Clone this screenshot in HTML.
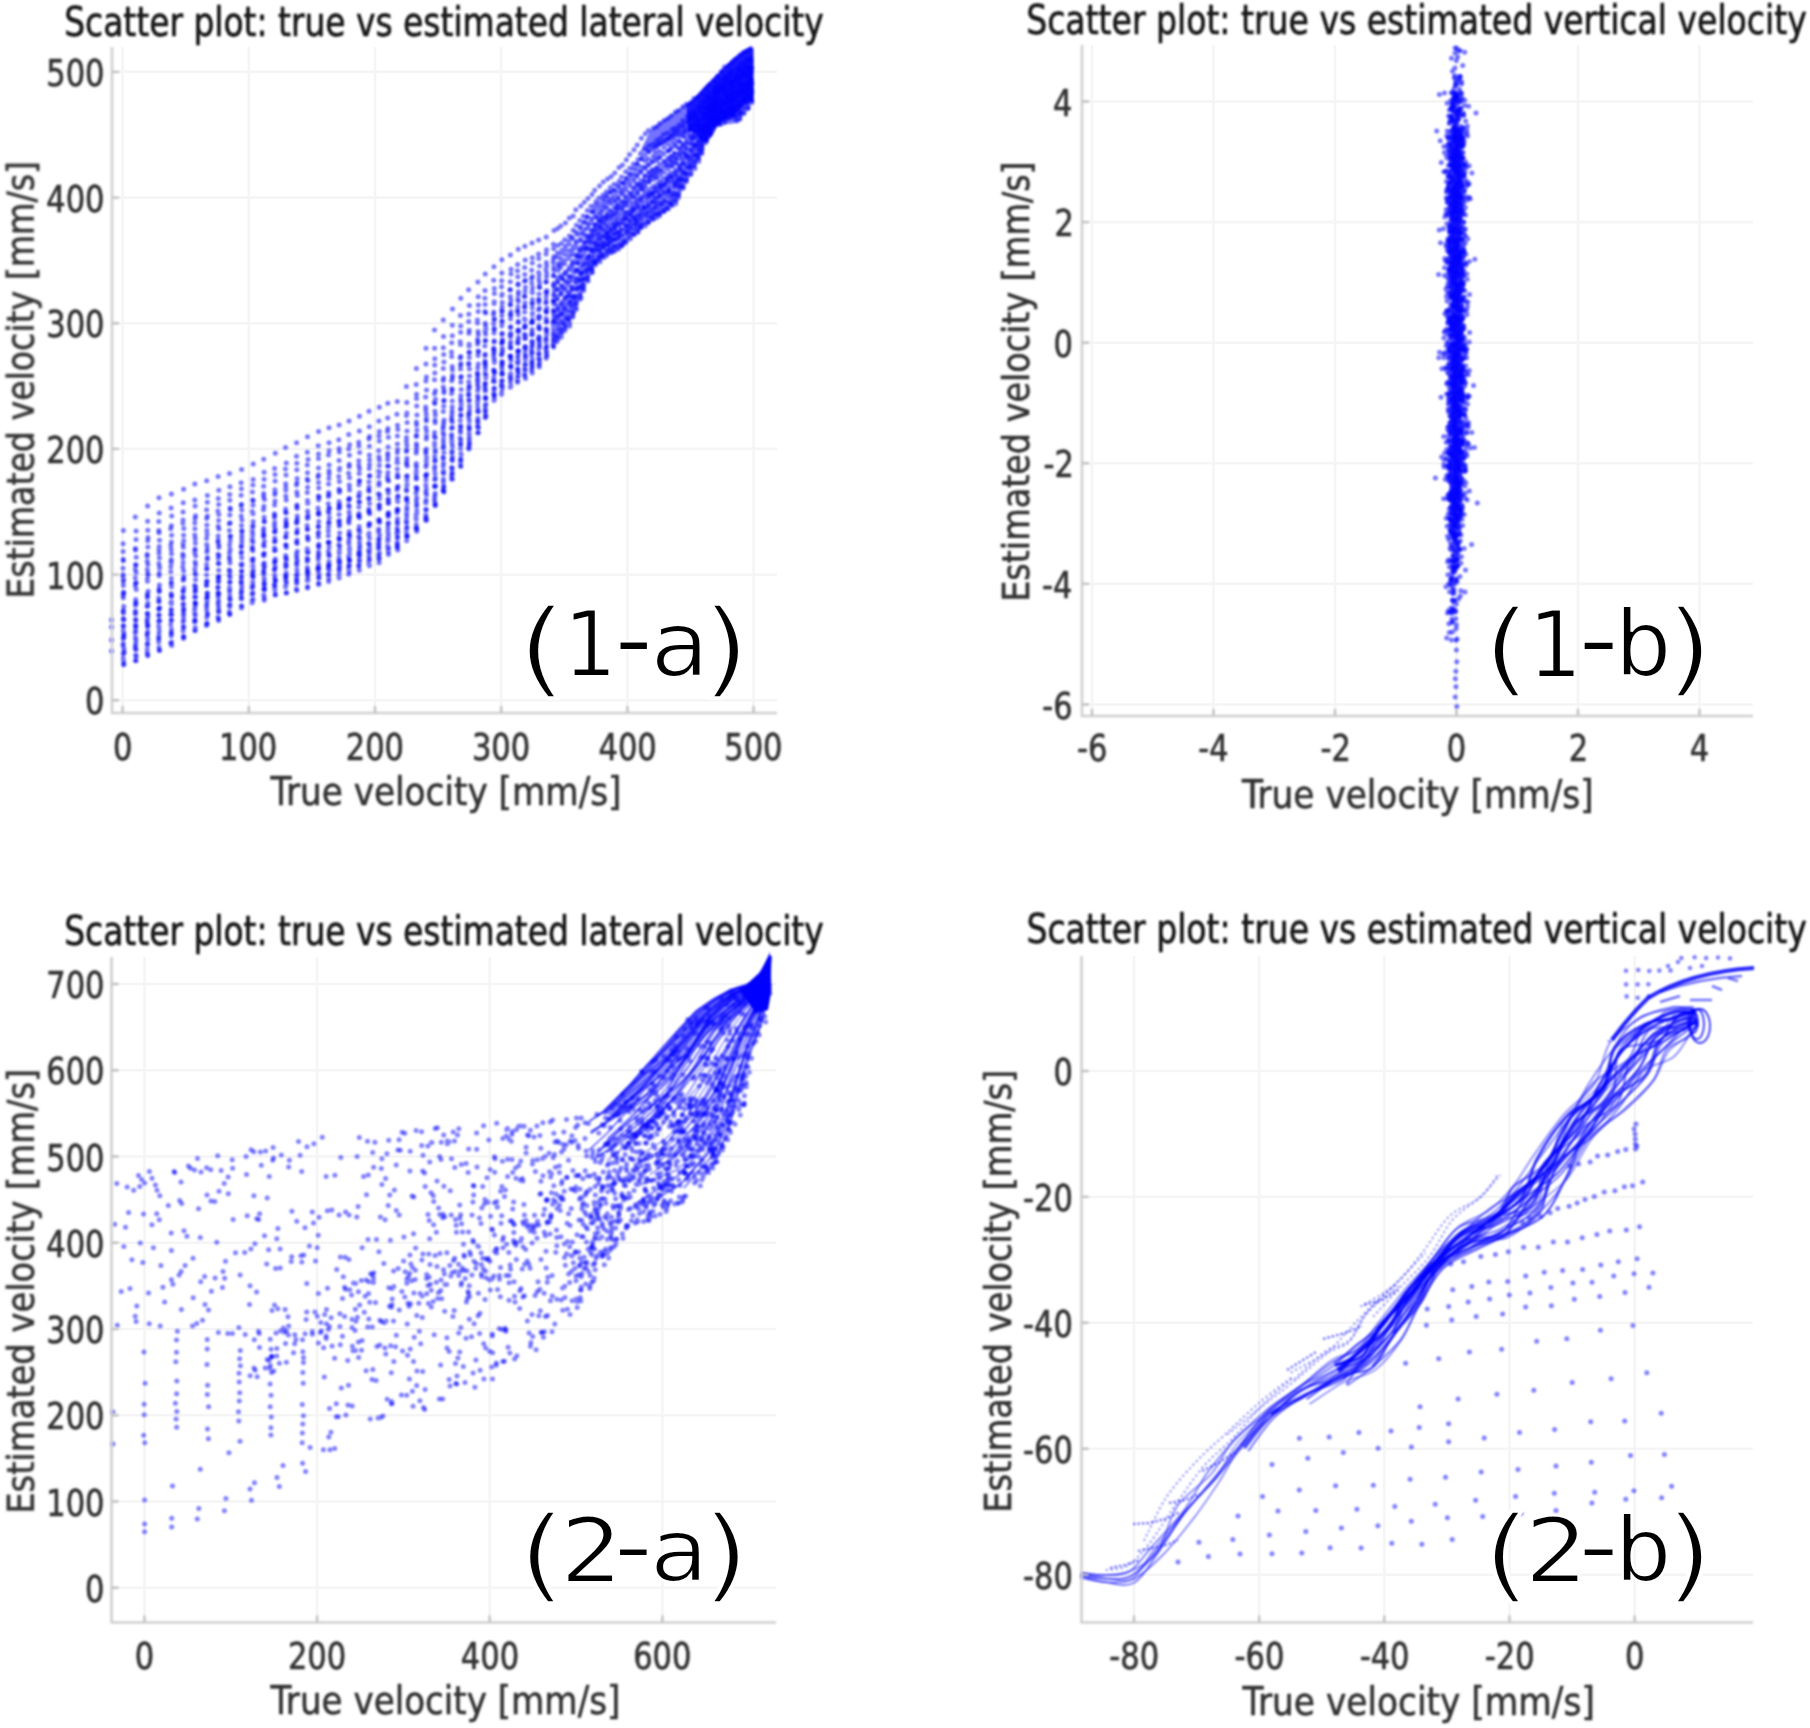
<!DOCTYPE html><html><head><meta charset="utf-8"><title>Scatter plots</title><style>html,body{margin:0;padding:0;background:#fff;overflow:hidden}svg{display:block}</style></head><body><svg xmlns="http://www.w3.org/2000/svg" width="1810" height="1728" viewBox="0 0 1810 1728"><defs><filter id="b1" x="-2%" y="-2%" width="104%" height="104%"><feGaussianBlur stdDeviation="1.05"/></filter><filter id="b2" x="-2%" y="-2%" width="104%" height="104%"><feGaussianBlur stdDeviation="1.0"/></filter></defs><rect width="1810" height="1728" fill="#fff"/><g id="grid"><path d="M122.6 47V713M248.8 47V713M375.0 47V713M501.2 47V713M627.4 47V713M753.6 47V713M112 700.3H777M112 574.6H777M112 448.9H777M112 323.3H777M112 197.6H777M112 71.9H777" stroke="#f5f5f5" stroke-width="2.6" fill="none"/><path d="M1092.0 45V716M1213.5 45V716M1335.0 45V716M1456.5 45V716M1578.0 45V716M1699.5 45V716M1082 704.5H1753M1082 583.9H1753M1082 463.3H1753M1082 342.7H1753M1082 222.1H1753M1082 101.5H1753" stroke="#f5f5f5" stroke-width="2.6" fill="none"/><path d="M144.5 957V1622.5M317.1 957V1622.5M489.7 957V1622.5M662.4 957V1622.5M111.5 1587.8H776M111.5 1501.5H776M111.5 1415.3H776M111.5 1329.0H776M111.5 1242.8H776M111.5 1156.5H776M111.5 1070.2H776M111.5 984.0H776" stroke="#f5f5f5" stroke-width="2.6" fill="none"/><path d="M1134.0 956V1622.5M1259.2 956V1622.5M1384.3 956V1622.5M1509.5 956V1622.5M1634.7 956V1622.5M1081.5 1574.7H1753M1081.5 1448.8H1753M1081.5 1322.8H1753M1081.5 1196.9H1753M1081.5 1071.0H1753" stroke="#f5f5f5" stroke-width="2.6" fill="none"/></g><g id="scatter" filter="url(#b2)"><path d="M686.0 104.0L691.0 101.0L704.8 86.3L718.7 72.4L732.6 58.5L746.5 48.3L751.0 47.0L753.5 49.3L753.5 100.2L746.5 103.0L737.2 112.0L732.6 116.0L723.3 120.0L716.9 127.0L712.2 136.0L706.7 142.0L700.2 140.0L695.6 132.6L688.0 132.0Z" fill="#00f" fill-opacity="0.9"/><path d="M650.0 131.0L658.5 123.3L677.0 110.4L686.0 104.0L688.0 132.0L677.0 137.2L667.8 141.9L658.5 146.5L649.3 151.1L640.0 152.0Z" fill="#00f" fill-opacity="0.55"/><path d="M732.5 121.3h0M136.2 557.2h0M307.6 487.2h0M388.5 481h0M701.7 105.1h0M359.7 546.1h0M296.5 523h0M648 158.5h0M274.7 569.1h0M435.2 505.8h0M591.6 250.7h0M706.1 119.3h0M339 557.7h0M339.6 546.6h0M553.3 328.7h0M645.6 175.8h0M580.2 292.8h0M253 577.2h0M610.2 187.6h0M598.8 219.6h0M339.3 452h0M358.8 536.4h0M538.6 317.4h0M452.4 370.1h0M147.7 613.5h0M652.3 169.7h0M524.9 364.9h0M274.4 525.8h0M123.7 664.8h0M264 546.2h0M241.6 571h0M329.1 508h0M252.5 586.8h0M229.3 605.2h0M241.8 535.2h0M307.8 559.4h0M572.3 237h0M339.6 468.3h0M518.2 314.8h0M328.3 511h0M607 240.3h0M517.5 380.6h0M629.6 238.5h0M634 209.1h0M747.4 65.8h0M633.3 169.1h0M618.3 226.3h0M721 100.5h0M645.4 148.8h0M546.5 276.9h0M525.1 338.4h0M286.4 526.1h0M369.2 468.4h0M195 630.7h0M740.6 85.2h0M510.5 319h0M252.7 527h0M633 210.5h0M622.6 220.2h0M501.6 286.7h0M379.3 505.1h0M590.9 206.3h0M531.8 282.9h0M478.3 411.7h0M264.3 584.3h0M747.3 99.4h0M517.6 377.5h0M751.2 97.5h0M501.9 259.7h0M135.9 564.9h0M557.1 256.9h0M614.9 247.9h0M655.8 171.8h0M744.2 111.4h0M592.3 272.1h0M674.9 184.1h0M339.5 520.5h0M532.3 341.3h0M532.4 314.3h0M672.2 205.6h0M434.6 445.5h0M668.3 190.5h0M502.2 388.9h0M358.8 552.7h0M147.7 540.7h0M195 550.5h0M274.4 584.2h0M619 181.2h0M706 135h0M406.7 516.4h0M588 235.2h0M606.7 218.6h0M739.8 116.3h0M485.2 274h0M379 559h0M637.4 184.4h0M622 245.7h0M275.3 453.3h0M339.4 538.5h0M557 330.4h0M493.9 377.2h0M678.8 185.9h0M387.6 545.9h0M159.6 607.8h0M630.4 238.7h0M751.8 100.9h0M561.3 337h0M460.7 427.1h0M477.6 344.1h0M452.2 468.2h0M485 311.5h0M588 270.5h0M587.3 262h0M443 428.7h0M546.7 354.9h0M349.3 534.4h0M636.7 204.2h0M263.6 486.2h0M587.2 279.5h0M644.8 168.5h0M740 94.5h0M584 253.1h0M546.1 358.2h0M592.4 218h0M576.7 288.9h0M618.6 236.3h0M640.5 199.2h0M594.8 233h0M660.9 206.6h0M649.5 164.1h0M713.1 105.2h0M510.1 335h0M182.9 598h0M659.9 199.9h0M379.4 507.3h0M460.7 444.4h0M629.6 173.7h0M671 176.1h0M652.5 201.3h0M397.6 449.4h0M576.1 303.9h0M743.4 112.8h0M263.6 533.7h0M378.6 471.2h0M579.9 240.9h0M348.8 574.3h0M663.5 172.5h0M546.4 352.8h0M339.6 567.4h0M717.2 123.4h0M743 93.3h0M744.5 101.5h0M625.8 225h0M297.2 573.4h0M443.5 471.1h0M683.4 187h0M159.1 575.8h0M460.7 377.5h0M621.6 194h0M698 120.1h0M147.2 644h0M553.4 244.3h0M664.6 140.3h0M732.3 98.5h0M397.6 536.7h0M275.2 540.9h0M687.1 137.7h0M425.8 410.5h0M709.2 111.1h0M666.9 164.7h0M524.6 281.2h0M159 647.2h0M532.5 313h0M388.4 547.5h0M641.8 188.7h0M739.8 91.5h0M690.2 166.7h0M667.5 132.7h0M252.4 531.1h0M397.4 487.5h0M739.3 108.8h0M379.3 460.2h0M502 369.1h0M207.2 624h0M621.3 230.1h0M644.9 213.8h0M502.3 311.2h0M517.8 351.2h0M572.9 315.7h0M518 343.3h0M652.5 193.5h0M697.8 136.2h0M648.5 151.7h0M675.6 203.8h0M557.9 317.1h0M460.9 363.6h0M591.6 230.5h0M183 596.1h0M397.1 512.7h0M296.8 469.8h0M538.6 353.8h0M729.1 121.7h0M434.6 469.3h0M588.6 255.8h0M451.7 479.1h0M686.2 174.1h0M633.7 228.2h0M388.3 536.5h0M451.6 393.5h0M387.8 453.2h0M663.9 201.4h0M595.1 216.2h0M637.4 164.3h0M397.5 523.6h0M693.7 151.5h0M634.3 225h0M285.9 537.2h0M713.1 115.8h0M683.1 143.6h0M286.2 572.8h0M469.4 369h0M686.1 130.7h0M736 79.4h0M656.8 147.8h0M387.6 476.6h0M369 508.9h0M599.7 249.3h0M230.2 599.3h0M358.8 465.2h0M664.1 192.9h0M743.2 71.3h0M640.3 227.6h0M710.1 128h0M296.5 484.9h0M750.7 97.8h0M217.9 510.9h0M716.8 120.7h0M709.4 133.6h0M485.2 323.2h0M622.8 242.5h0M532.5 321.8h0M406.4 386.4h0M618.4 224.2h0M698.1 128.5h0M709.3 126.6h0M634.3 181.4h0M652.5 162.3h0M274.5 562.9h0M546.2 328.7h0M553.3 322.6h0M611.1 204h0M159.1 591.7h0M494 394.7h0M655.5 206.9h0M397.5 474.2h0M599.6 257.7h0M170.9 562.1h0M123.3 597.7h0M724 102.9h0M426.3 488.9h0M123.2 625.8h0M560.7 324.4h0M621.9 223.5h0M510 289.8h0M136.1 656.8h0M698.1 150.6h0M451.7 342.7h0M296.6 574.7h0M123.9 619.7h0M252.9 598.9h0M614.8 249.9h0M207.4 557.6h0M171.3 614.4h0M524.7 306.9h0M659.5 142.7h0M368.9 481.7h0M349.6 444.8h0M611.2 197.9h0M387.7 418h0M510.5 327.6h0M416.1 487.4h0M328.5 454.9h0M369 533.3h0M728.8 109.3h0M183.2 605.3h0M443.4 439.4h0M339.3 470h0M739.5 69.2h0M694.4 143.5h0M539 364.7h0M379.5 472.1h0M682.5 182.9h0M725.4 121.8h0M592 194.5h0M348.9 499.6h0M724.2 78.3h0M339.1 577.9h0M378.8 539.7h0M569.3 276.2h0M147.2 554.2h0M123.9 634.9h0M561.3 313.8h0M135.5 550.1h0M607.5 201.8h0M478 331.4h0M546.1 254h0M583.8 280h0M147.2 561.3h0M580.1 294.3h0M183.5 613.2h0M610.3 191.8h0M147.8 603.1h0M594.9 225h0M632.8 197.1h0M425.7 451.3h0M539.1 328.3h0M296.8 463.2h0M594.9 263.3h0M426.4 377.1h0M369.1 491.2h0M553.8 329.4h0M659.4 197.5h0M264.4 499.6h0M731.8 112.2h0M296.8 581.4h0M349.5 516h0M682.6 171.5h0M664.2 206.9h0M553.9 295.7h0M171.4 562.5h0M668 169.2h0M524.7 375.7h0M510.8 348h0M318.9 573.8h0M359 529.4h0M329 470.8h0M307.9 580.5h0M714 110h0M241.5 605.8h0M230.2 536.2h0M318 568.3h0M701.5 102.6h0M709.8 129.9h0M587.6 250.1h0M194.8 500h0M686.3 148.4h0M359.2 526.6h0M633.4 163.9h0M599.6 246.6h0M655.8 213.2h0M617.8 225.5h0M338.9 575.8h0M207.1 600.9h0M502.3 333.5h0M675.3 112h0M610.1 237.5h0M713.7 125.2h0M148 575.3h0M194.7 552.4h0M724.4 93.3h0M501.9 273h0M443.2 380.6h0M387.9 537.5h0M706.2 119h0M274.8 494.5h0M452.4 457h0M358.9 484.7h0M686.5 157h0M195.5 515.8h0M659.7 164.3h0M451.6 417.6h0M717.9 124.4h0M318.3 559.6h0M732.9 89.9h0M640.7 214h0M557.7 228.5h0M285.7 567.2h0M721.3 90h0M171.4 595.4h0M158.9 615.6h0M159.5 540.2h0M571.9 306.8h0M494.4 318.9h0M569.3 267.2h0M668.3 168.3h0M159 553.3h0M564.6 308.5h0M443.1 432.5h0M147.1 606.3h0M275.2 594.9h0M518.4 330h0M406.9 445.6h0M603.3 246.6h0M136.2 582.8h0M518.2 249.3h0M622.7 182.7h0M524.7 369h0M218.8 514.4h0M686.8 143.5h0M645.3 211.7h0M702.6 142.4h0M135.3 516.9h0M358.8 566.3h0M733.1 115.7h0M182.8 567.1h0M634 234.8h0M725.4 102.5h0M241.6 469.5h0M468.9 333.3h0M678.3 180.6h0M135.3 569.2h0M510.8 365.8h0M318.5 468.1h0M253 566.6h0M379.1 520.8h0M451.8 440.3h0M660.5 185h0M388.3 514.9h0M241.5 597.2h0M525.1 353h0M686.7 139.3h0M307.4 570h0M502.2 374.4h0M494 358.3h0M679.7 149.6h0M580.3 256.1h0M595.5 230.1h0M434.6 348.3h0M686.9 128.7h0M388.1 447h0M630.4 214.5h0M524.8 368.9h0M675.7 163.3h0M493.9 266.7h0M652.5 175h0M724.6 111.1h0M557 299.5h0M659.6 215.7h0M573.1 230.3h0M171.3 582.5h0M538.7 299.2h0M743.6 68h0M369.5 459.8h0M713.4 117.7h0M510.2 314.6h0M501.6 385.9h0M229.4 575.6h0M369.5 503.5h0M524.9 246.2h0M728.6 120.5h0M679.2 191.8h0M603.5 216.7h0M378.7 555.2h0M349.5 477.7h0M729 88.7h0M736.4 120h0M510.9 360.5h0M649 173.7h0M560.7 319.8h0M667.9 180.8h0M720.9 88.7h0M135.8 660.4h0M539.4 316.8h0M576.5 303.3h0M732.7 121.2h0M659.9 164.8h0M607.2 251.2h0M743.3 85.8h0M687 133h0M591.2 239.5h0M478.2 410.6h0M525 325.6h0M721.6 119.6h0M218.6 620.4h0M717.3 99.4h0M531.5 351h0M451.9 442.9h0M349.4 550.3h0M588.5 225.4h0M706.3 141.8h0M329 442.8h0M307.3 580.5h0M682.1 180.8h0M739.8 106.5h0M229.3 569.9h0M577 263h0M206.7 568.9h0M147.6 521.3h0M569.5 267.6h0M633.5 168.2h0M135.6 630.5h0M740.1 55h0M739.6 111.4h0M123 611.4h0M664.2 184.7h0M349.5 548.2h0M553.6 275.4h0M123.1 574.5h0M572.8 312.6h0M739.5 119.2h0M553.3 325.1h0M397.3 477h0M469.1 413.2h0M434.6 442.9h0M285.5 447.4h0M679 140.8h0M739.3 103.9h0M229.7 606.9h0M560.7 225.9h0M532.5 287.5h0M252.8 566.2h0M253.2 463.9h0M560.8 293.9h0M553.9 270.6h0M147.7 631.6h0M634.2 221.1h0M698.5 124.6h0M443.8 400.9h0M553.6 347h0M728.7 83.2h0M531.8 362.6h0M594.8 248.1h0M560.8 267.3h0M484.9 386.5h0M637.2 144.9h0M746.7 85.9h0M135.7 627.1h0M136 649.8h0M614.8 239.4h0M686.6 179.5h0M397 546.5h0M510.5 304.9h0M705.1 143.1h0M329 427.7h0M477.6 395.8h0M493.5 314.6h0M644.2 180.4h0M580.7 274.2h0M469.4 305.4h0M434.9 411.3h0M656.6 126.7h0M705.1 108.3h0M443.1 472.1h0M426 348.2h0M368.7 534.5h0M264.4 589.9h0M206.6 598.7h0M606.5 232.4h0M617.7 192.1h0M668.2 160.1h0M229.7 494.4h0M663.8 172.5h0M576.1 240.9h0M579.9 279.7h0M469 449h0M274.5 513.8h0M501.9 315.7h0M618.5 197.2h0M123.5 618.4h0M713.1 124.7h0M602.5 225.4h0" stroke="#00f" stroke-width="5.0" stroke-linecap="round" stroke-opacity="0.55" fill="none"/><path d="M546.4 330.2h0M241.1 553.2h0M751.3 79.4h0M425.6 397.1h0M468.7 321.4h0M732.5 115h0M564.7 239.7h0M751.6 66.8h0M159.2 546.5h0M532.2 332.5h0M460.3 420.4h0M532.1 303.3h0M539.2 345.6h0M318.9 568.3h0M147.3 597.7h0M485.8 378.1h0M694.4 114.2h0M510.1 377.6h0M328.9 513.2h0M397.9 476.8h0M460.5 369h0M532.4 319.4h0M701.4 152.2h0M524.7 327.2h0M557.9 327.7h0M171.6 535.2h0M252.3 593.9h0M621.4 234.2h0M663.7 178.6h0M720.8 99.5h0M135.4 648.4h0M469.4 406h0M416.7 531.3h0M183 544.1h0M525.2 370.1h0M712.6 122h0M296.5 563.1h0M339.1 504.4h0M644.4 176h0M296.9 569.8h0M241.7 557.8h0M698.9 109.8h0M705.9 123.6h0M670.9 177.9h0M485.6 398.4h0M664.1 120.6h0M592.1 262.7h0M207.4 515.9h0M318.3 513.7h0M135.3 585.7h0M207.1 534.2h0M629.1 228h0M572.4 288h0M565.4 246h0M183.7 540.8h0M426.5 435.9h0M494.4 293.6h0M607.5 179h0M318.4 536.9h0M443.3 347.8h0M595.5 242.3h0M296.6 557.7h0M485.8 375h0M388 528h0M546.3 329.9h0M183.8 528.4h0M621.5 234.4h0M369.7 523.9h0M263.5 554.3h0M434.8 403.4h0M614.4 233.6h0M667.2 208.4h0M553.5 301.4h0M588.2 263.7h0M637.8 229.5h0M358.9 555h0M443.9 392.8h0M195.1 606.8h0M444 420.1h0M501.9 342.4h0M747.6 82h0M329.1 450.8h0M667.9 138.8h0M195.1 562h0M690 156.8h0M652.1 175h0M460.7 326h0M286.5 582.6h0M218.1 586.8h0M511 269.2h0M600 239.3h0M329 542.6h0M709 123.5h0M672.1 198.8h0M369.1 512.2h0M406.5 521h0M525.5 349.1h0M339.3 539.8h0M675.1 172.7h0M195.1 630h0M443.3 368.4h0M607.4 238.6h0M229.9 581.9h0M697.5 154.5h0M171.5 586.7h0M349.2 464.3h0M318.7 521.4h0M348.7 568.8h0M539 299.9h0M318.5 532.1h0M494.1 319.7h0M724.2 111.5h0M626.4 241.5h0M397.8 496.7h0M123.3 560.7h0M554 230.5h0M611.2 248.7h0M407.1 535.7h0M614.5 195.6h0M183.1 598.1h0M319 496.9h0M147.3 569.5h0M218.7 504.6h0M195.2 627.4h0M397.5 544.5h0M263.7 570.8h0M678.7 158.9h0M159 497.7h0M532.3 276.5h0M369.5 436.6h0M610.6 232.5h0M275.3 594.6h0M569.4 236.1h0M253.1 500.4h0M135.8 620h0M572.2 310.1h0M339.1 501.4h0M558.2 314h0M573 286.6h0M721.3 97.2h0M182.8 553.9h0M524.7 296.2h0M460.8 395.4h0M618.8 187.2h0M443.7 354.5h0M171.4 620.1h0M735.4 116.1h0M123.5 592.3h0M218.1 554.3h0M592.1 232.5h0M640.7 185.4h0M572.3 301.6h0M425.9 363.9h0M706.1 139.6h0M674.9 196.7h0M660.1 209.8h0M611.2 246.2h0M229.5 587.4h0M195.2 589h0M739.8 78.8h0M241.4 488.8h0M564.7 287.7h0M349.2 506.9h0M426.6 474.1h0M274.7 522.6h0M724.9 96.9h0M159.4 585.1h0M123.4 530.5h0M587.3 248h0M329.1 464.9h0M494.3 288.6h0M554 286.3h0M735.3 91.9h0M274.6 468.4h0M595 235.7h0M740.1 89.9h0M339.5 561.7h0M406.7 461.6h0M135.5 612.6h0M426.5 389.9h0M664.6 183h0M434.6 432.5h0M485.6 334.2h0M183.7 627.1h0M732.2 95.5h0M679.6 141.7h0M728.4 92.5h0M218.7 611.6h0M532 334.4h0M532.3 352.6h0M525.4 280.2h0M485.9 416.5h0M435.4 390.7h0M637.4 224.3h0M575.7 296.9h0M397.3 530.4h0M469 425.8h0M111.5 640h0M416.1 464.4h0M397.4 443.9h0M274.5 515.5h0M510.3 344.4h0M434.8 495.9h0M614.1 228.3h0M518.2 322.4h0M728.9 83h0M560.5 275.7h0M602.5 221h0M195.5 579.8h0M171.4 541.9h0M397.3 458.6h0M595.8 249.5h0M425.8 514.9h0M502.3 386h0M713.2 118.3h0M599.5 212.2h0M587.9 277h0M307.1 558.2h0M183.7 578.8h0M617.8 218.3h0M668.3 203.1h0M338.8 561.2h0M674.5 153.3h0M183.5 638.4h0M546.1 281.7h0M307.2 550.9h0M581 279.3h0M607.1 208.6h0M274.5 550.8h0M416.3 524.5h0M407.2 466.1h0M698.7 157.9h0M709.2 109.6h0M510.9 314.9h0M667.6 164.9h0M564.6 307.5h0M397.7 501.6h0M435.1 422.7h0M539.4 328.9h0M721.2 100.7h0M714 80.4h0M285.7 577.5h0M524.8 374.1h0M694.4 134.5h0M663.4 188.7h0M206.4 625.6h0M388.1 490.3h0M416 527.9h0M206.8 530.6h0M660.3 138.2h0M564.3 315.1h0M663.1 180.9h0M253 525.5h0M538.5 254h0M218 596.5h0M739.5 103.6h0M569.2 305.8h0M517.9 306.8h0M135.5 637.5h0M328.8 565.9h0M724.7 115.6h0M416.4 422.1h0M736.7 120.9h0M425.9 484.9h0M539 328.1h0M170.8 571.8h0M517.7 369.2h0M709.1 102.9h0M679.7 157.2h0M663.8 211.2h0M307.2 548.7h0M702.4 93.9h0M158.9 563.4h0M614.2 189.9h0M720.1 119.4h0M716.6 103.1h0M397.4 499.3h0M561.5 312.7h0M599.3 239.9h0M626.2 218.4h0M644.4 206.7h0M674.9 128.1h0M690.8 124.9h0M583.5 232.9h0M397.7 549.9h0M713.9 125.4h0M744.2 90.9h0M668.3 157.7h0M123.8 637.4h0M468.8 394.6h0M581.1 297.7h0M123.3 643.4h0M159 549.6h0M670.7 149.3h0M147.9 564.5h0M493.8 349.6h0M218.6 609.1h0M435.3 485.7h0M252.4 491.9h0M720.9 92.6h0M229.9 486.7h0M705.4 125.9h0M339.2 571.8h0M502 364.2h0M652.1 209.8h0M468.7 417.4h0M613.9 200h0M720.3 111.3h0M493.7 280.3h0M329.2 508.6h0M135.7 626.4h0M736.4 107.1h0M241.2 546.8h0M645.3 161h0M724.1 99.5h0M147.9 547.1h0M517.7 310.9h0M724.7 96.2h0M478.3 334.8h0M308 459.6h0M648.7 181.4h0M539.3 358.4h0M724.3 103h0M241.5 582.2h0M576.3 225.2h0M614.5 223.9h0M572.8 279h0M369.2 524.6h0M359.4 561.4h0M263.8 588.9h0M694.6 154.7h0M622.5 164.9h0M656.8 140.3h0M603.9 257.4h0M633.7 188.9h0M426.3 460.9h0M493.7 324.1h0M286.4 523.6h0M744.2 98.5h0M329 547.2h0M729.3 106.3h0M274.5 548h0M539.1 354h0M406.9 507.2h0M659.6 195.5h0M645.3 133.8h0M206.6 509.7h0M610.7 243.7h0M599.5 186h0M652.1 192.1h0M275.1 531.7h0M136 602.9h0M649 189.2h0M501.6 384.9h0M397.5 425.3h0M675.6 174.5h0M241.4 580.9h0M477.6 426.6h0M751.8 93.5h0M591.5 249.8h0M736.2 77.3h0M416.3 463.4h0M671.7 179.9h0M171.1 508h0M610 201.2h0M275 501.1h0M576.1 289.6h0M229.7 587.7h0M576 243.4h0M443.3 411.5h0M546.5 249.7h0M469.2 387.3h0M461.1 459.4h0M207.1 596.9h0M750.6 98.5h0M194.6 585.5h0M689.9 162.6h0M664.6 161h0M667 178.8h0M171.2 583.8h0M690.2 159.9h0M611 229.1h0M460.8 466.5h0M159.4 557.9h0M664 200.7h0M406.4 451.5h0M230.3 509.4h0M702.1 133.8h0M724.4 67.1h0M729.3 117.8h0M716.5 113.7h0M252.9 576.1h0M640.3 172.2h0M572.6 280.3h0M568.8 250.5h0M206.9 524.9h0M610.8 226.1h0M183 519.9h0M595.7 238.5h0M618.6 232.2h0M683.6 173.2h0M136 539.5h0M263.7 493.4h0M478.4 304.9h0M477.6 384.7h0M230.1 577.2h0M592.3 230.1h0M494 333.1h0M171.2 633h0M545.9 303.1h0M532.4 299.5h0M595.9 244.7h0M560.7 290.5h0M727.8 95.6h0M207.3 502.2h0M485.4 340.7h0M656.5 206.1h0M307.7 574.8h0M434.8 372.9h0M253.1 479.4h0M648.1 165.3h0M182.9 523.3h0M577.3 234.6h0M241.9 531.3h0M659.7 157.9h0M328.6 492.6h0M426.3 414.5h0M581 285.7h0M629.3 197.6h0M676.1 200.8h0M659.8 144.6h0M378.9 420.9h0M641.6 196.4h0M296.7 521h0M717.2 108.2h0M671.8 134.8h0M720.6 104.6h0M241.5 589.7h0M147.1 621.7h0M583.9 263.4h0M546.6 334.9h0M378.6 531.4h0M349.1 571.5h0M683.6 162.6h0M477.9 418.2h0M714.1 93.5h0M147.9 625.4h0M218.1 616.9h0M678.4 131.7h0M746.8 59.4h0M297 522.2h0M546.4 312.3h0M729.2 84.3h0M426.4 464h0M557 305.6h0M348.7 434.6h0M649.2 195.9h0M328.3 568h0M587.8 237.3h0M682.3 179.3h0M671.8 161.2h0M296.5 456.2h0M275.4 580.8h0M359.4 416.3h0M307.5 518.6h0M668.2 192.1h0M123.1 551.4h0M657 214.5h0M607.4 233.5h0M416.5 394.2h0M660.2 185.4h0M546.4 262.6h0M264.1 584.2h0M170.7 643.3h0M229.7 613.9h0M716.9 89.2h0M378.6 544.5h0M747.8 94.5h0M717.9 123.2h0M478.3 427.8h0M218.3 558.3h0M629.5 183h0M123 576.7h0M524.5 334.3h0M739.5 75.2h0M252.4 547.3h0M194.7 621.9h0M568.4 310h0M653.2 219.2h0M285.7 536.8h0M494 352.4h0M253 505.2h0M706 105.7h0M348.8 540.4h0M494 370.4h0M750.7 48.5h0M598.9 198h0M568.5 317.5h0M264.1 479.2h0M379.1 482.4h0M583.6 248.6h0M725.1 119.8h0M308 517.2h0M569.7 255.3h0M682.9 161h0M644.9 187h0M207.1 581.1h0M652.9 189.6h0M510.4 382h0M308 551.4h0M629.3 220.5h0M379.1 505.2h0M241.1 593.5h0M194.9 528.7h0M123.3 619.6h0M557.2 290.1h0M229.6 559.5h0M633 211.6h0M286.2 592.7h0M218.2 593.3h0M397.3 521.9h0M425.7 407.1h0M565.8 296.6h0M406.4 415.5h0M229.6 589.3h0M388.4 466.1h0M406.9 413h0M720.5 95.6h0M626.5 226.9h0M416.4 368.4h0M469.3 444.5h0M123.6 579.6h0M606.6 255.8h0M285.8 544.9h0M253.1 558.8h0M629.4 197.2h0M710.1 119.1h0M702.5 130.9h0M648.4 130.5h0M568.7 258.6h0M682.9 188.2h0M638 193.9h0M538.9 358.2h0M531.7 270.3h0M388.3 493.3h0M697.4 112.6h0M553.3 259.4h0M641 166.7h0M606.8 226.4h0M406.4 520.6h0M206.6 606.4h0M147.2 635.4h0M477.7 390.4h0M695.1 124.3h0M603.9 201h0M561.8 285.8h0M158.8 609.2h0M451.7 356.4h0M426.5 457.7h0M720.3 105h0M510.4 356.5h0" stroke="#00f" stroke-width="5.0" stroke-linecap="round" stroke-opacity="0.55" fill="none"/><path d="M307.2 561.4h0M746.8 83h0M183.1 562.6h0M645.2 214.5h0M532.3 257.8h0M524.6 296.6h0M659.7 181.2h0M671.5 173h0M698.5 158.1h0M564.7 289.5h0M171.4 632.9h0M285.9 522.6h0M518.3 321.2h0M264.4 521.8h0M369.7 513.8h0M359.3 559.5h0M705.2 114.5h0M147.6 595.7h0M194.7 597h0M135.5 605.5h0M525 291.5h0M425.9 503h0M308 572.2h0M111.5 651h0M416.7 504h0M694.5 155.1h0M602.4 211.6h0M425.9 466.8h0M553.9 301.6h0M664 147.6h0M698.6 142.9h0M573 298.6h0M477.5 379.6h0M349.2 531.4h0M712.8 103.2h0M565.3 254.8h0M743.3 96.5h0M562 249.9h0M531.6 278.5h0M532.4 343.2h0M406.4 532.3h0M510.6 326.7h0M731.5 70.7h0M296.9 555.2h0M206.6 584.8h0M575.7 272.1h0M652.8 196.6h0M736.3 71.4h0M241.6 599.1h0M318.6 499.7h0M218.8 563.8h0M610.4 214.3h0M339.7 490.5h0M435.2 460.2h0M717.5 119h0M416.5 398.6h0M328.7 581.6h0M253.2 570.7h0M171.4 494h0M443.8 487.2h0M652.6 170.5h0M690.6 128.9h0M307.5 588h0M621.4 235.4h0M452.1 410.7h0M426.5 494.8h0M444 491.9h0M416.9 489.9h0M649.3 212.1h0M653.2 156h0M678.5 171.1h0M124 652.8h0M733.1 98.6h0M580.9 281.5h0M743.1 108.2h0M630.3 222.7h0M434.7 365.1h0M747.2 104.9h0M416.5 435.3h0M708.9 108.4h0M358.9 501.7h0M451.6 475.8h0M218.6 611.4h0M229.4 530.6h0M532.2 372.9h0M478.3 432.8h0M633.9 187.3h0M158.8 598h0M583.7 290.6h0M747.7 70.2h0M569.3 218.1h0M706.2 125.4h0M359.4 492.8h0M379.3 441.1h0M378.9 436h0M407 431h0M406.5 528.5h0M241.5 525.5h0M710.1 115.5h0M656 173.3h0M318.4 526.2h0M721 88.6h0M206.7 480.8h0M751 67.7h0M617.8 209.4h0M338.9 544.7h0M663.3 142.5h0M426.2 517.7h0M674.8 134.5h0M625.6 229.3h0M690.2 150.6h0M671.3 177.2h0M538.7 272.5h0M296.8 575.7h0M652 160.7h0M748.1 83.1h0M691 152.8h0M416.8 529.3h0M484.9 298.2h0M339.3 525.9h0M183.6 489.2h0M701.5 135.2h0M652.9 186.6h0M485.3 411.2h0M469.2 330.2h0M285.6 509h0M571.9 239.1h0M426.3 420.9h0M406.5 499.6h0M564.4 274h0M675.3 146.6h0M494.2 396.7h0M183.1 622.1h0M671.1 190.3h0M318.2 445.7h0M123.6 661h0M416.2 519.3h0M230.1 522.8h0M614 213.7h0M195.5 603.4h0M725.2 94.3h0M630.1 227.7h0M485.1 304.5h0M725.1 91h0M603.5 222.5h0M659.9 213.1h0M659.9 151.4h0M469 446.8h0M485.2 383.3h0M358.9 565.3h0M296.9 565.3h0M744 77.4h0M171.6 642h0M648.6 151.8h0M672 129.6h0M682.7 120.6h0M358.8 460.7h0M285.8 487.6h0M580.5 228.6h0M229.8 515.1h0M557.8 282.5h0M693.5 129.8h0M230 571.7h0M625.4 198h0M452.4 479h0M207.1 593.5h0M147.6 654.5h0M348.7 449.1h0M644.2 207.4h0M614.4 233.6h0M349 534.3h0M629.9 233.5h0M610 238.2h0M656.6 160.7h0M575.9 232h0M478.2 364h0M655.9 177.9h0M252.8 550.8h0M622.2 192.2h0M588.2 239.3h0M494.2 328.9h0M517.9 299h0M634 218.6h0M717.6 90.9h0M728.3 65.7h0M183.2 502.8h0M159.4 590.5h0M539.5 347.3h0M564.5 249.9h0M359.6 538.6h0M136.1 531.1h0M614.6 225.6h0M477.5 373.1h0M387.9 489.8h0M602.7 198.4h0M652.7 215.6h0M595.9 201.5h0M569.1 244.2h0M339.1 425h0M717.4 86.7h0M195 518.4h0M379.5 495.1h0M705.1 133h0M678.9 165.1h0M587.3 216.8h0M732.8 80.7h0M716.9 121.8h0M545.9 339h0M252.7 534.6h0M348.9 523h0M524.7 312.1h0M171.2 610.4h0M560.6 307.9h0M477.5 323h0M679 154.2h0M538.6 239.9h0M687.1 120.4h0M349.4 498.2h0M518.1 355.1h0M671.9 156.2h0M296.8 578.1h0M416.4 467.1h0M682.1 179.3h0M561.3 243.5h0M525.4 364.3h0M591.5 244.1h0M525.2 346.6h0M426 480h0M123.3 581.4h0M478.2 296.8h0M728.7 113.6h0M648.3 207.1h0M558 338.9h0M123.8 606.4h0M494.3 387.9h0M592.2 269.3h0M641.2 224.2h0M525 338.1h0M135.6 624.5h0M183.7 609.3h0M510.3 296.5h0M478 355.6h0M461.2 376.5h0M610.6 240.9h0M388.5 554.6h0M407.1 422.4h0M123.1 595.1h0M713 120.9h0M679.6 188.4h0M546.4 351.2h0M171.2 593.4h0M136.1 572.6h0M744 91.5h0M477.4 320h0M159.7 620.8h0M318.3 556.4h0M328.3 503.7h0M510.6 341.8h0M630.4 210.1h0M460.5 409.8h0M388.2 499.1h0M554 320.7h0M286.2 500.1h0M525.4 335.5h0M416.7 406h0M565.6 271.7h0M584.3 271.4h0M587.3 210.5h0M469.2 437h0M678.4 197.4h0M736.7 111.9h0M588.5 256.7h0M531.9 342.1h0M690.2 168h0M705.3 131.5h0M693.7 165.8h0M297 532.4h0M732 100.9h0M388.4 512.7h0M579.9 256.4h0M539.5 362.7h0M416.7 513.5h0M518.1 373.7h0M229.6 571h0M502.4 351h0M679.3 168.2h0M648.1 216.2h0M416.9 415.1h0M561.2 329.7h0M610.5 230.9h0M532.3 262.9h0M671.5 147.1h0M568.2 283.5h0M443.5 336.6h0M614 190.2h0M573.1 254.7h0M638 206.7h0M443.3 320h0M171.5 553.7h0M691.1 154.8h0M720.4 109.3h0M674.6 173.8h0M653.1 148.8h0M194.7 620.3h0M705.5 89h0M518.1 339.9h0M435 473.4h0M397.2 542.6h0M671.4 203.9h0M397.1 489.8h0M591.9 211.8h0M686.9 166.9h0M468.8 381.7h0M171.4 525.7h0M743.2 82.1h0M285.8 490.2h0M553.4 340h0M599.7 226.2h0M728.8 102.8h0M452.2 451.2h0M229.7 599.3h0M637 219.1h0M558.3 270.6h0M698.3 147.2h0M561.9 303.7h0M158.7 626h0M387.7 479.6h0M416 518.3h0M641.4 189.3h0M510.6 357.8h0M379.5 534.9h0M708.8 85.2h0M557.3 288.8h0M388.3 522.8h0M698.6 154.2h0M434.5 499h0M460.8 415.1h0M717.3 107.5h0M565.5 298h0M701.7 146.5h0M713.2 100.8h0M338.7 521.5h0M553.9 314.2h0M286.5 592.9h0M553.5 275.7h0M576.2 247.9h0M502.4 339.6h0M568.8 241.2h0M349.2 518.4h0M569.3 298.3h0M307.5 472.8h0M634.1 197.2h0M206.5 584.7h0M452 459.2h0M183.6 571.1h0M588.6 241.7h0M349.4 554.4h0M195.3 543.2h0M206.6 564.4h0M554 312.5h0M538.7 258.5h0M602.4 221.8h0M307.3 492.4h0M518.3 294.7h0M569.1 277h0M573.3 246.8h0M545.9 349.3h0M218.6 600.6h0M416.1 514.7h0M307.9 480.8h0M653.3 150.2h0M607.1 238.2h0M218.8 545.1h0M660.6 170.3h0M468.6 447.8h0M263.6 496.4h0M539.5 282.9h0M611.2 212.3h0M667.9 144.3h0M714.1 114.8h0M218.5 619h0M591.1 235.8h0M731.7 77.5h0M733 106.4h0M614.7 229.9h0M724.9 117.9h0M728.7 108.9h0M558.3 263.6h0M452.4 446.6h0M469.3 428.6h0M724.2 84.4h0M630.3 186.3h0M743.4 101.4h0M460.3 459.5h0M553.8 304h0M739.4 106.4h0M686.7 152.4h0M328.9 494.8h0M735.9 93.5h0M687.2 116.2h0M735.8 98h0M274.4 570h0M580.9 274.1h0M170.8 624.5h0M241.1 598.4h0M469.1 401.1h0M743 79.4h0M595.6 264.8h0M387.5 431.5h0M218.7 576.2h0M425.7 475.5h0M469.1 344.2h0M369.5 464.5h0M296.8 590.4h0M710.2 117.5h0M607.6 213.2h0M564.5 311h0M397.4 509.1h0M702.6 113.7h0M123.3 630.5h0M736.8 68.5h0M701.1 149.9h0M218.8 490.3h0M675.7 162.5h0M743.9 113.6h0M416.8 510.7h0M348.9 543.8h0M671.3 161.5h0M603.5 248h0M634.2 224.2h0M619 245.3h0M501.9 373.3h0M584.8 236.1h0M425.7 502.4h0M724.1 113.3h0M426.3 439.1h0M671.6 191.4h0M443.6 446.6h0M702.1 126.8h0M729.2 111h0M746.9 86.8h0M111.5 620h0M443.9 452.4h0M617.6 211.4h0M668.4 150.8h0M218.2 535.9h0M697.3 116.5h0M460.5 432.6h0M328.5 574.1h0M358.8 516.1h0M751.9 84h0M241.9 530.8h0M671 186.7h0M517.5 270.8h0M318.8 544.2h0M728.6 77.2h0M641.2 159.1h0M460.2 438h0M264.3 553.2h0M572.1 263.3h0M584.3 229h0M712.6 111h0M713.4 121.1h0M518.1 284.9h0M584.7 248.7h0M369.3 544.2h0M701.6 140.6h0M671.3 183.2h0M369.1 487h0M561.3 253.3h0M297.3 495.5h0M618.2 247.2h0M159 626.7h0M580.2 247.7h0M694.8 162h0M625.2 182.8h0M748.1 106.3h0M595.1 260.5h0M670.7 188.4h0M469.1 351.9h0M124 648.7h0M622.8 211.3h0M641.2 218.5h0M387.8 403.2h0M136.2 589.5h0M538.8 349.1h0M135.3 646.2h0M602.6 235.1h0M736 113.9h0M561.8 302.3h0M553.4 342.2h0M693.8 138.1h0M183.8 636.7h0M406.7 536.3h0M716.4 96.6h0M656.9 167.7h0M158.9 621.5h0M674.8 153.4h0M452.2 401h0M348.7 556.4h0M588.1 258.3h0M652.3 219.2h0M614 246.5h0M735.7 95.9h0M510.1 356.3h0M218.7 581.3h0M241.8 586.3h0M678.6 178.3h0M469.1 346h0M573.1 304.8h0M553.2 344.2h0M686.3 166.6h0M633.9 173.9h0M728.2 90.6h0M698.9 131.7h0M406.5 437.4h0M682.7 106.8h0M539.1 275h0M183.3 627h0M348.7 504.9h0M675.7 158.3h0M602.5 235h0M713.9 96.7h0M686.1 179.9h0M565.8 290.7h0M194.8 483.9h0M444 390.3h0M406.9 458.2h0M206.9 568.4h0M603.7 243.1h0M407.1 475.8h0M241.4 576.2h0M564.4 324.2h0M451.7 380.7h0M717.6 107.6h0M123.8 633.2h0M502.3 380.6h0M147.8 639.6h0M569.2 285.8h0M561.5 331.5h0M626.2 190.5h0M518.1 375.5h0M600 261.8h0M148.1 591.2h0M359 495h0M485 355.4h0M369.6 475.8h0M602.4 217.5h0M558.3 308.7h0M378.8 547.2h0M568.3 319.5h0M622.7 201.8h0M123.2 658.5h0M697.8 133.5h0M671.1 136.4h0M648.5 222.7h0M739.9 112.5h0M461.1 389.5h0M747.5 77.7h0M599 256.6h0M296.4 554h0" stroke="#00f" stroke-width="5.0" stroke-linecap="round" stroke-opacity="0.55" fill="none"/><path d="M434.8 466.2h0M588 198.5h0M557.5 297.8h0M553.8 294.2h0M532.2 345.6h0M621.4 246h0M732.9 108.1h0M452.3 325.2h0M694.8 131.5h0M485.8 404.1h0M626.1 179.1h0M641 227.7h0M717 101h0M263.9 506.2h0M502.1 307.1h0M630.1 231.1h0M564.7 263.7h0M647.9 221.9h0M679.1 136h0M648 212.2h0M735.7 109.6h0M158.8 530.4h0M397.3 401.6h0M748.1 73.3h0M705.1 137.9h0M501.9 365.7h0M583.3 267.1h0M147.2 613.5h0M724.1 117.7h0M396.9 533.4h0M460.4 315.6h0M743.4 73.5h0M494.2 340.7h0M682.5 147.3h0M732.8 87.6h0M607.5 215.1h0M630.1 219.6h0M379 519.5h0M693.9 138.6h0M338.7 508.5h0M633.2 209.2h0M501.9 321.3h0M359.5 552h0M194.9 568.9h0M135.4 632.6h0M296.8 492.1h0M625.2 217.8h0M744.3 107.5h0M349.3 560.4h0M652.8 179h0M252.6 575h0M751.8 67.9h0M435.1 504h0M241.4 577.2h0M709.6 107.2h0M557.6 245.4h0M694.2 157.5h0M493.7 355h0M743.5 52.3h0M648.4 195.4h0M318.6 431.4h0M575.9 295.3h0M747.8 91.4h0M712.8 100.1h0M397.4 436h0M443.3 458.6h0M478.4 351.8h0M253.1 521.6h0M652.6 179.8h0M123.1 543.8h0M135.7 599.5h0M591.2 267.6h0M451.7 420.1h0M517.6 264.4h0M744.3 106h0M750.5 102.7h0M569.1 294.5h0M524.5 318.7h0M569.2 302.2h0M735.4 118h0M307.5 536.2h0M610.8 222.5h0M307.9 514.8h0M183.6 619.6h0M682.9 126.7h0M339.6 533h0M561.7 332.9h0M263.5 536.6h0M135.9 640.3h0M349.4 455.3h0M318.5 551.7h0M502.2 373.3h0M656 145.2h0M630.5 193.7h0M687.5 163.3h0M641.1 184.7h0M369.3 559h0M510.6 366h0M702.4 131.2h0M195.5 564.7h0M577.1 269.3h0M388.1 516.6h0M750.7 57.9h0M252.8 585.8h0M644.8 184.7h0M510.3 387.3h0M349.5 490.1h0M739.6 84.7h0M252.3 559.5h0M532.1 360.3h0M670.9 204.3h0M618 199.1h0M648.8 193.1h0M751.4 61.7h0M747.9 108.3h0M525 320.1h0M694.5 145.1h0M705.7 107.9h0M195.2 538.7h0M698.7 161.6h0M729.2 115h0M690 134.8h0M159 601.1h0M702.3 107.9h0M598.9 208.1h0M714.1 105.7h0M434.8 358.7h0M594.8 205.6h0M625.8 204.3h0M629.2 201.1h0M263.7 544.6h0M611.3 215.7h0M565.9 282.5h0M434.5 330.1h0M634.1 230.3h0M583.3 285.5h0M218.2 577.8h0M596.2 244.8h0M379.5 522.6h0M720.5 114.8h0M379.2 509.1h0M682.5 157.8h0M264.1 517.2h0M435.2 477.9h0M443.4 481.9h0M183.1 591.3h0M596.3 217.5h0M452.3 474.1h0M565.9 303.5h0M629.8 216.1h0M615 207h0M159.2 512.9h0M426 453.6h0M329 554.6h0M241.8 510.1h0M348.9 565.8h0M599.6 220.5h0M274.5 541.8h0M694.6 165.1h0M727.8 115.6h0M397.7 532.2h0M171.4 603.7h0M724.4 87.5h0M171.7 645.4h0M460.6 465.5h0M147.2 652.6h0M123.5 626.1h0M510.8 386.1h0M640.6 216.9h0M660.6 187h0M606.4 191.8h0M461 402h0M170.8 602.7h0M568.8 312.3h0M296.6 542.3h0M599.1 259.2h0M546 292.2h0M378.9 485.2h0M318 477.1h0M397.8 429.6h0M328.9 523.1h0M690.1 164.3h0M675.1 193.2h0M286.2 512.7h0M735.8 99.4h0M531.8 322.6h0M546 310.8h0M682.8 164.4h0M229.3 523.7h0M286 545.1h0M123.2 559.2h0M443.6 422.9h0M687.3 159h0M732.2 103.2h0M625.1 239.9h0M359.2 473.6h0M387.6 466h0M587.8 258.2h0M572.2 296.2h0M579.8 295.3h0M675.4 169.8h0M572.4 265h0M695 156.7h0M379.4 498.8h0M599.3 251.2h0M478.3 387.6h0M610.4 220.7h0M359.4 542.5h0M636.8 169.6h0M183.3 603.5h0M553.5 309.9h0M595.2 227.3h0M264.2 598h0M159 588.8h0M123.9 652.1h0M637.9 188.4h0M443.9 361.9h0M690.9 144.1h0M751.8 89.3h0M592.4 223.2h0M679 124.9h0M743.3 86.6h0M649.2 177.2h0M625.3 235h0M195.2 620.4h0M747.4 94.7h0M158.8 638.5h0M264.2 581.7h0M557.5 277.9h0M379.3 431.5h0M580.9 233.6h0M710.3 124.6h0M318.7 578h0M406.6 490.9h0M159.3 650.2h0M644.6 208.3h0M592.4 251.7h0M348.6 473.2h0M263.7 572.2h0M539.1 359.5h0M599.6 227.3h0M387.9 428.4h0M698 97.5h0M602.7 241.9h0M614.8 173h0M575.9 282.3h0M683.7 136.8h0M638 190.1h0M434.8 502h0M751.2 78.9h0M328.3 530.9h0M452 413.9h0M307.1 525.5h0M557 296.3h0M518.4 337.2h0M569.6 326.3h0M606.7 219.4h0M583.3 288.6h0M701.9 139.7h0M494 400.6h0M218.1 581.4h0M717.6 102.7h0M416.2 384.5h0M679.6 169.5h0M617.6 185.3h0M693.7 125.4h0M568.8 314.2h0M171.4 596.6h0M557.5 252.7h0M229.7 582.3h0M675.4 177.5h0M206.7 609.9h0M218.7 570.2h0M553.5 336.9h0M328.5 526.8h0M349.1 512.1h0M359.5 481.1h0M318.5 482.5h0M645.2 167.1h0M443.2 466.3h0M452.4 378h0M171.3 620h0M183.4 610.5h0M736 80.9h0M329.3 517.9h0M690.7 102.6h0M751.9 82.3h0M686.7 156.3h0M748 102.4h0M747.5 70.6h0M451.7 467.5h0M416.6 425.1h0M625.7 171.7h0M539 294h0M379.1 562.7h0M678.4 110.6h0M485.3 410.3h0M158.9 634.6h0M659.8 123.4h0M396.9 414.2h0M701.6 111.3h0M736.1 59h0M397.4 537.9h0M135.2 633.1h0M660.4 204h0M632.9 233h0M494.2 329h0M485.1 362.6h0M307.5 516.8h0M607.4 235.5h0M461.1 404.5h0M752 102.3h0M732.2 62.7h0M147.2 648.9h0M538.9 340.3h0M469.4 376h0M435 486.8h0M241.4 545.9h0M626.3 159.8h0M274.7 574.9h0M195.6 597h0M379 485.2h0M721.3 103.5h0M740.3 114.5h0M588.6 268.8h0M656.9 184.3h0M584.6 272.9h0M469.5 410h0M751.4 85.9h0M434.8 461.1h0M230.2 549.4h0M561.2 329.2h0M229.9 549.3h0M183.7 609.6h0M469.1 386.1h0M607.5 245h0M648.5 203.9h0M416.6 446.6h0M668 206.5h0M592 255.8h0M735.9 83.8h0M195 549h0M602.6 229.3h0M746.8 51.5h0M531.9 334.5h0M426.2 449h0M517.8 363.5h0M594.7 190.2h0M576.8 279.3h0M706.4 96.6h0M460.5 425.8h0M727.7 100.8h0M123.2 654h0M546.6 321.4h0M425.9 427.5h0M207.3 593.1h0M595 208h0M603 195h0M702.6 142.2h0M579.6 286.9h0M135.6 564.7h0M630.4 205.9h0M501.6 381.3h0M485.2 417.7h0M591.7 254.6h0M713.9 91.6h0M171.2 636h0M644.6 194.8h0M195.2 615.4h0M614.1 251.6h0M625.7 238.2h0M583.7 223.1h0M583.3 216h0M285.7 555.6h0M328.4 542.4h0M123 645.6h0M683.5 152.8h0M622.2 183.2h0M595.8 261.9h0M241.5 551.8h0M747.1 68.2h0M135.7 660.8h0M525 302.8h0M691.2 173.6h0M579.8 220.4h0M369.6 476.1h0M501.9 334h0M477.8 381.7h0M397.9 486.2h0M493.7 348.1h0M147.7 655.7h0M230 563h0M591.3 220.7h0M634.2 217.5h0M704.9 117.8h0M159.2 572.9h0M720.6 120.7h0M653.3 128h0M545.9 269.6h0M477.5 374.1h0M407 527.3h0M751.6 82.6h0M388.1 549.2h0M614.1 239.2h0M743.9 106.8h0M557.1 324.1h0M686.6 142.6h0M641.3 209.2h0M706.3 132.9h0M705.8 129.7h0M297.3 560.7h0M564.7 260.5h0M588.1 281h0M561.6 278h0M460.9 408.2h0M359 513.5h0M629.7 201.8h0M183.6 535.2h0M592 236.5h0M706.2 115.1h0M660 192.1h0M584.1 271.9h0M573.2 261h0M206.7 544.6h0M359.4 517.7h0M580.7 205.9h0M656.3 153h0M510.9 311.4h0M751.7 71.4h0M170.8 545.6h0M275.1 529h0M359.6 452.5h0M709.9 130h0M502 353.6h0M275.2 566.8h0M587.9 222.9h0M206.6 538.5h0M451.6 428.2h0M493.7 370.1h0M553.2 333.1h0M207.2 559.2h0M525.4 356h0M171.4 601.8h0M709.1 121h0M697.7 160.9h0M637.6 232.3h0M603.3 208.2h0M485.3 409.4h0M387.9 532h0M598.6 236.8h0M274.9 590.3h0M539.5 266.1h0M721.3 118.2h0M618.4 237.7h0M252.2 587.4h0M668.5 190.6h0M652 201.7h0M716.3 115.7h0M274.7 587.7h0M218.9 529.1h0M638 159.4h0M468.6 389.9h0M388.3 551.8h0M502.5 341.5h0M307.4 529.5h0M252.3 548.7h0M502.3 348.2h0M727.8 102h0M443.1 490.2h0M318.8 546.9h0M485.2 354.2h0M648.8 198.9h0M690.7 127.5h0M264.2 566h0M207.4 614.6h0M517.8 357.6h0M358.9 445.9h0M750.7 75.2h0M713.2 121.9h0M318 568.1h0M656.2 186.3h0M687.5 165.9h0M469.3 357.5h0M595.2 229.8h0M416.3 479h0M599 232.7h0M485.6 398.5h0M416.2 453.1h0M675.3 187.8h0M691.1 147.7h0M546.6 266.3h0M709.5 123.4h0M587.5 228.7h0M607.6 249.6h0M468.7 364.5h0M599.3 245h0M629.6 154.5h0M709.4 99.6h0M207.1 545.4h0M285.7 557.6h0M524.8 274.5h0M637.4 184.5h0M636.9 221.7h0M584.1 267.5h0M708.9 128.6h0M275.1 492.1h0M583.7 245.5h0M241.8 542.5h0M307.2 478.9h0M460.8 382.3h0M241.5 504.3h0M659.5 156.4h0M388.2 532.8h0M460.8 440.2h0M318 570.3h0M274.9 489.7h0M123.8 593h0M532.3 358.9h0M625.7 202.8h0M625.3 196.1h0M571.9 290.3h0M698.4 141.3h0M206.8 623.1h0M603 237.3h0M664 211.6h0M731.8 117.4h0M147.7 606.1h0M626.7 211.9h0M494.3 399.9h0M207.3 596.5h0M602.5 254.4h0M588.6 242.2h0M195.6 574.8h0M469.3 421h0M636.5 201.7h0M468.8 414.6h0M416.6 506.3h0M592 211.6h0M229.3 612.1h0M572.4 250.4h0M708.7 101.2h0M618.2 221.7h0M135.6 619.5h0M477.8 432.8h0M671.9 195h0M591 241.9h0M705.4 99.6h0M451.6 434.5h0M218.1 476.6h0M460.6 462.8h0M263.5 564.5h0M510.9 300.3h0M297 505h0M698.3 106.5h0M744.5 104.2h0M682.2 148.8h0M579.6 251.2h0M678.8 182.5h0M576.8 254.8h0M307.5 436.8h0M732.3 82.9h0" stroke="#00f" stroke-width="5.0" stroke-linecap="round" stroke-opacity="0.55" fill="none"/><path d="M686 147.8h0M379.3 407.2h0M477.5 339.5h0M614.5 218h0M171.3 559.5h0M640.9 204h0M349.1 466.8h0M663.6 134.6h0M478 426.7h0M307.8 577.2h0M606.6 195.3h0M588.4 265.8h0M636.7 192.8h0M641 226.2h0M307.6 586.5h0M610.3 248.9h0M706.2 112.7h0M598.7 244.4h0M182.9 557.6h0M397.9 495.9h0M308 540h0M538.9 316.2h0M123.2 638.4h0M285.6 512.3h0M641.8 203.7h0M359.5 502h0M468.5 394.7h0M572.4 317.3h0M599.6 254.4h0M468.8 363.3h0M640.6 221.6h0M369.1 560.4h0M679.4 186h0M369 411.2h0M663.6 153.3h0M626.6 231.9h0M307.4 528.9h0M318.5 454h0M603.3 182.1h0M701.1 129.9h0M359.1 530.6h0M614 184.3h0M524.7 348.1h0M368.8 563.1h0M546.2 339.6h0M285.8 580.4h0M501.8 343.3h0M712.8 117.5h0M452.5 309.1h0M732.7 109.3h0M158.8 521.5h0M691.2 117.6h0M716.7 115.5h0M649 145.5h0M621.9 222.7h0M369 555.8h0M510.9 378.9h0M388.1 524.3h0M655.5 198h0M691.2 143.3h0M318.5 474.8h0M568.7 269.9h0M425.7 518.4h0M687.5 169.2h0M708.8 92.7h0M229.8 614.6h0M206.5 585.5h0M406.8 485.1h0M461.1 454.8h0M171.7 516h0M747.3 61.4h0M637.3 174.8h0M546.8 308.3h0M577.2 258.2h0M702.1 123.6h0M452.2 422h0M348.8 499.5h0M159 614.7h0M468.6 289.7h0M614.3 213.7h0M584.7 242.6h0M510.8 376.4h0M596 260.3h0M579.6 270.3h0M687.2 173h0M349.4 560.4h0M296.6 442.7h0M633.8 206.3h0M369.1 498.3h0M230 604.4h0M264.5 588.2h0M667.8 118.4h0M652.9 208.6h0M666.9 178.3h0M359.3 570.3h0M611.2 176.5h0M274.8 578.3h0M318.5 458.6h0M339.3 564.6h0M123.5 612.9h0M452.4 375.5h0M379.3 465.6h0M318.7 554.6h0M218.3 563.2h0M183.2 591h0M721.3 106.8h0M524.7 267.4h0M434.5 379.7h0M485.3 391.1h0M477.7 400.7h0M485.6 313.1h0M217.9 588.1h0M338.9 568.9h0M579.8 299.2h0M634 149.7h0M307.3 464.9h0M610.6 241.6h0M147.3 594.3h0M252.2 540h0M626.2 213h0M618.4 249.3h0M572.5 270.8h0M556.8 335.7h0M553.9 317.3h0M532 243h0M297.2 516h0M615.2 208.7h0M617.7 238.4h0M622.2 243.8h0M581 265.5h0M147.4 623.9h0M307.6 511h0M460.6 332.2h0M636.6 220.2h0M731.6 82.2h0M460.8 415.4h0M264.4 541.3h0M667.2 182.3h0M397.2 528h0M426.1 510h0M123 568.3h0M329.1 474.1h0M477.7 368h0M573.2 215.9h0M546.1 318.3h0M739.4 81.9h0M297 540h0M565.1 323.8h0M553.3 300.6h0M584.3 202.3h0M663.6 154.2h0M460.5 448.5h0M736.9 87.2h0M328.6 484h0M629.1 212.8h0M241.9 520h0M241.1 495.2h0M452.3 335.7h0M679.4 179.3h0M679.4 153.5h0M675.4 144.2h0M644.5 222.9h0M264.1 521.2h0M546.1 341.8h0M274.8 537.9h0M539.3 286.9h0M720.1 123.7h0M329 564.8h0M553.2 346.1h0M575.9 302.8h0M318.2 534.1h0M562.1 278.7h0M748 108.4h0M606.5 216.7h0M702.3 149.3h0M561.4 263.3h0M524.7 327.5h0M648.5 204.9h0M443.6 473.4h0M695 168.5h0M218.9 555.5h0M494.2 301.8h0M721 117.4h0M674.9 185.8h0M682.6 175.9h0M339.5 524.2h0M652.2 193.4h0M494.1 303.6h0M218.3 498.5h0M579.7 260.4h0M645.2 217.5h0M637.3 226.5h0M252.8 561.7h0M469.2 439.9h0M328.6 575.4h0M644.5 191.1h0M679.9 166.3h0M218.6 520.4h0M263.8 555.8h0M682.8 135.3h0M553.3 262.9h0M716.4 83h0M565.2 320.1h0M630.2 193h0M426.3 418.8h0M318.7 488h0M573.4 312.8h0M171.4 629.2h0M690.6 159.1h0M583.7 264h0M443.7 435.3h0M641.9 204.9h0M531.6 370.2h0M619 167.6h0M656.2 190.8h0M229.4 557.3h0M686.3 104.3h0M435.3 415h0M502.3 362.3h0M230.2 540.5h0M494.4 372.8h0M622.1 214.8h0M275 561.1h0M691.3 138.6h0M229.8 500.2h0M318.9 514.4h0M501.6 394.2h0M159.5 650.4h0M524.7 306.8h0M618.2 233.3h0M358.7 442.2h0M275 474.5h0M241.8 565.5h0M622.2 222.9h0M285.7 483.8h0M416.9 488h0M592 264.6h0M690.3 167.9h0M275.1 480.9h0M297.2 551.2h0M748 86.5h0M708.8 94.4h0M656.4 217.7h0M378.6 548.4h0M485.3 405.9h0M426.1 475.8h0M580.6 238.9h0M690.3 174.7h0M671.5 165.7h0M690.4 170.6h0M739.2 93.9h0M640.5 181.8h0M565.4 223.1h0M264.1 472.3h0M397.6 462.7h0M668.1 151.1h0M195.6 555.9h0M218.2 540.3h0M195.4 590.6h0M717.2 113.3h0M740.3 70.7h0M721.5 71.3h0M728.5 96.5h0M671.3 156.6h0M743.5 65.3h0M674.7 181h0M709.8 105.9h0M443.1 457.2h0M538.9 336.4h0M638.1 231.8h0M478.2 311.4h0M648.5 220.7h0M285.7 575.4h0M752 91.4h0M637.5 207.6h0M668.4 194.8h0M645.5 219.9h0M241.6 571.6h0M532.3 307.7h0M485.4 366h0M629.8 213.5h0M713.1 109.2h0M553.4 285.2h0M358.8 496.8h0M599.5 215.2h0M558.3 333.9h0M443.3 386.9h0M618.9 242.8h0M452.3 460.8h0M611.3 217.7h0M539.3 367.1h0M318 508h0M263.5 509.7h0M644.2 181.3h0M297.1 478.6h0M736 86.1h0M147.2 556.3h0M525.1 346.8h0M694.3 168.6h0M525.1 326.4h0M469.1 428.8h0M689.7 173.9h0M426.4 519.7h0M416.7 497.5h0M339.5 507.8h0M731.5 99.3h0M621.9 207.1h0M358.8 515.8h0M387.7 459.8h0M603.1 244.5h0M587.2 247.2h0M406.7 450.1h0M510.3 374h0M671.1 115.8h0M637.1 209h0M435.2 452.3h0M434.4 436.2h0M285.5 469.1h0M359.5 548.5h0M580.7 288.4h0M546.2 347.6h0M660.1 203.7h0M159.5 568.1h0M603.6 230.4h0M618.1 244.5h0M183.4 636.4h0M546.3 311.4h0M659.4 174.5h0M702.3 123.3h0M731.6 74.8h0M539.4 342.6h0M252.2 602.8h0M452.2 406.8h0M297 482.4h0M452.3 427.6h0M678.3 195.2h0M397.3 452.7h0M416.3 471.3h0M648.6 207.2h0M318.6 564.6h0M565.3 326.1h0M426.1 499.7h0M252.7 500.1h0M286 475.1h0M218.2 592.7h0M630.4 174.4h0M494.3 381.4h0M596 255.4h0M701.9 145.7h0M617.8 205.6h0M598.6 234.2h0M595 256.8h0M359.7 532.3h0M517.8 369.1h0M751 59.5h0M434.9 479.8h0M426.5 431.2h0M406.5 489.3h0M183.7 576.5h0M416.4 443.7h0M727.9 79.7h0M554 340.8h0M659.9 213.3h0M147.8 573.3h0M252.8 581.9h0M329 556.1h0M693.9 98.6h0M451.8 388.8h0M510.7 373.4h0M378.5 493.7h0M368.7 543.6h0M286.3 560.6h0M494.2 394.7h0M369.4 455h0M469 399.4h0M493.7 381.2h0M416.1 473.9h0M633.4 202.8h0M561.2 303.9h0M626 225.1h0M397.1 510.6h0M637.4 198.8h0M580.1 263.8h0M595.1 242.6h0M732.4 95h0M252.3 600.9h0M675.1 131.6h0M740 65.2h0M510.4 254.9h0M388.4 503.1h0M591 248.6h0M569.6 302.4h0M147.8 530.2h0M328.4 535.8h0M183.1 631h0M706.5 123.9h0M434.7 456.6h0M241.8 538.8h0M349 421h0M668.5 138.4h0M318.6 583h0M274.5 517.4h0M572.7 275.9h0M678.6 147.7h0M263.7 528.3h0M682.7 145.2h0M596.3 224.4h0M701.8 120.2h0M640.6 180.5h0M724 111.8h0M709.4 117.7h0M460.7 356.4h0M397 462.6h0M406.8 402.6h0M183.3 556.2h0M286.4 533.1h0M591.9 261.6h0M652.3 203.2h0M694.4 146.2h0M416.3 436.5h0M671.8 201.4h0M297.2 529.4h0M369.4 565.8h0M406.4 441.5h0M671.7 194.9h0M369.4 548.7h0M587.2 269.2h0M660.1 175.5h0M159 620.5h0M594.9 254.5h0M517.8 330.4h0M275.2 559h0M702.2 126.6h0M218.1 603.1h0M649.4 178.5h0M747 75.9h0M717.3 93.2h0M724.7 107.1h0M583.7 278.1h0M682.8 153h0M368.9 526.3h0M621.9 217.9h0M656 215.4h0M621.5 177h0M633.1 193.2h0M621.8 189.2h0M633.2 216h0M568.7 319.6h0M359.5 468.7h0M286.3 547.4h0M307.7 553h0M517.8 276.8h0M531.7 322.5h0M348.7 520.8h0M206.8 604.3h0M207.4 495.6h0M339.1 514.5h0M263.7 459.2h0M576.2 309.4h0M379.3 553.1h0M451.7 436.8h0M493.9 393.1h0M406.7 497.8h0M407 484.7h0M697.7 125.8h0M206.5 581.6h0M614.9 212.1h0M443.6 486.3h0M195.1 505.9h0M565.3 273.5h0M728.2 100.1h0M378.7 476.4h0M159.6 566.9h0M607.5 244.9h0M518.4 330h0M477.6 402.4h0M743.1 62.7h0M721.6 115.1h0M485 361h0M378.9 456.8h0M656.9 177.1h0M538.9 319.1h0M682.5 163.3h0M652.3 206h0M263.9 535.6h0M123.5 610.5h0M478 422.5h0M622.5 240h0M713.4 112.8h0M649 217.2h0M599.8 229.1h0M135.6 603.1h0M460.9 453.5h0M339.2 553.1h0M538.6 310h0M147.2 633.8h0M724.2 109.3h0M564.9 330.5h0M195.1 602.4h0M664.1 210.1h0M687.4 123.2h0M369.6 547.9h0M229.6 591.5h0M546.1 297.2h0M573.4 269.3h0M501.6 392.9h0M740 76.5h0M602.7 256.4h0M691 150.4h0M553.4 311.5h0M368.7 550.6h0M728.1 114.4h0M387.9 472.4h0M501.9 325.7h0M698.2 144.5h0M275.3 549.9h0M339.3 550.6h0M328.8 578.6h0M606.1 205.8h0M751.1 72.9h0M706 128.5h0M328.4 496.4h0M286.4 565.6h0M207.2 549.2h0M746.9 97.1h0M183 512h0M538.6 338.2h0M518.4 291.7h0M659.7 170.3h0M147.9 616.6h0M531.9 366.1h0M368.8 511h0M632.8 193.1h0M697.5 155.5h0M518.4 351h0M252.4 538.8h0M378.8 528.9h0M656 203.1h0M170.7 528.8h0M318.5 513.8h0M720.5 113h0M736.2 92.2h0M183.5 615.7h0M369.4 538.2h0M546.8 290.6h0M264.2 567.6h0M580.2 250.3h0M629.8 168.2h0M663.7 162.2h0M525.5 378.4h0M171.2 609.3h0M525.3 357.2h0M610.6 252.6h0M123.4 637.6h0M637.1 216h0M263.8 594.9h0M732.8 116.1h0M379 538.7h0M525.3 359.8h0M297.1 508.5h0" stroke="#00f" stroke-width="5.0" stroke-linecap="round" stroke-opacity="0.55" fill="none"/><path d="M724.5 122.7h0M659.4 195.5h0M158.7 641.9h0M731.8 114.3h0M564.4 279.9h0M264.2 578.4h0M230.1 508.1h0M388.3 500.2h0M739.9 118.6h0M229.7 595.7h0M606.8 197.4h0M525.2 259.9h0M183.3 547.2h0M629.9 178.7h0M546.2 301.5h0M531.8 347.6h0M640.7 200.2h0M206.9 551.9h0M716.7 119.9h0M716.4 93h0M709.5 131.4h0M553.7 267.4h0M743.6 99.3h0M583.6 257h0M368.8 498.8h0M618.3 224.7h0M713.7 103.3h0M553.7 248.7h0M518.1 283.7h0M510.3 347.6h0M725.2 104.2h0M328.9 561.5h0M434.6 486.1h0M416.9 430.3h0M591.5 258.8h0M557.4 281.4h0M460.6 399.2h0M510.8 333h0M698 120.9h0M644.8 199.2h0M584.2 258.9h0M148 537.6h0M561.7 286.2h0M717.9 111.2h0M296.7 583.5h0M678.9 128.3h0M444 400.3h0M645.5 201.6h0M710.2 133.8h0M598.8 222.6h0M328.9 478.5h0M369.3 426.7h0M686.9 176h0M580.9 273h0M502.3 302.6h0M610.7 228.7h0M307.8 538.3h0M577 263h0M625.5 206.1h0M740.1 88.4h0M641.5 210.9h0M460.4 443.7h0M485 290.6h0M406.7 513.3h0M568.9 292h0M241.5 591.9h0M183.2 580.2h0M663.3 203.9h0M296.5 580.2h0M735.7 104.7h0M274.6 504.9h0M554 283h0M416.4 500.8h0M683.2 171.4h0M451.8 452.7h0M644.7 155.3h0M518.2 360.9h0M349.2 565.2h0M750.9 89h0M494.3 372.2h0M275 561.1h0M693.9 116h0M328.6 565.7h0M614.7 245.2h0M701.5 138.4h0M709.5 116.1h0M580.1 226.5h0M641.2 171.3h0M416.4 450h0M607.3 233h0M468.8 314.2h0M318.5 546h0M720.4 85.5h0M460.2 357.9h0M702.6 114.7h0M397.5 518.7h0M532.2 367.7h0M591.8 272.7h0M170.8 566.8h0M510.3 281.8h0M397.3 469h0M158.7 638.1h0M339.3 504.9h0M664.1 194.8h0M501.8 295.5h0M252.9 485.1h0M576.9 255.7h0M286.1 519.2h0M517.6 342.4h0M621.9 208.8h0M740.3 111.7h0M546.6 321.4h0M546.4 321.9h0M625.7 220h0M525.4 287.3h0M636.9 176.8h0M653.2 144h0M625.1 242.9h0M633.9 234.2h0M674.8 139.9h0M701.4 147.2h0M297.3 519.3h0M532.1 363.8h0M369.2 523.6h0M339 538.1h0M652.1 216.8h0M502.2 294.3h0M675 192.7h0M648.7 171.8h0M378.7 450.8h0M285.6 585.7h0M546.6 345.9h0M135.3 614h0M709.8 97.6h0M546.2 236.9h0M736.7 98.4h0M554.1 290.5h0M494 389.1h0M274.8 585.5h0M645.6 197.5h0M532 329.5h0M285.7 526.8h0M460.4 430h0M406.8 510.2h0M218.5 577.1h0M667 199.2h0M241.1 505.4h0M218.2 526.2h0M452.2 366.6h0M296.8 532.9h0M147.3 579.2h0M434.5 402.2h0M626.6 232.1h0M135.4 611h0M434.5 393.8h0M147.5 626.7h0M736.1 107.5h0M252.3 511.6h0M538.9 279.2h0M751 79.2h0M485.9 329.3h0M706.2 140.7h0M286 576.6h0M720.3 111.5h0M217.9 542h0M626.5 178h0M561.9 322.2h0M443.4 442.9h0M750.6 90.5h0M686.1 181.9h0M575.8 209.7h0M307.5 500.6h0M485.5 414.6h0M194.6 610h0M518.1 371.8h0M485.1 373.4h0M747.8 96.2h0M296.4 589h0M667.3 186.6h0M618.5 208.3h0M633.8 178.2h0M599.4 203.2h0M460.5 365.3h0M241.2 516h0M318.4 495.9h0M613.7 235.5h0M678.5 194.4h0M583.8 284.3h0M683.6 131.8h0M147.2 619.4h0M691.2 136.2h0M565.2 327.9h0M675.9 182.9h0M560.7 258.6h0M229.5 473.6h0M501.5 355h0M731.7 86.2h0M693.7 111h0M697.5 138h0M510.9 334.6h0M494.1 342.1h0M725.3 76h0M477.6 406.4h0M406.9 480.1h0M717.7 117.7h0M159 532.7h0M751.4 95.8h0M602.6 253h0M740.5 98.3h0M452.2 390.1h0M693.7 135.1h0M591.4 268.3h0M546.6 331.6h0M297.1 543.6h0M195 572.9h0M569.3 280.9h0M195.2 603.4h0M494 350.5h0M702.7 117.5h0M194.8 523.1h0M621.8 229h0M435.2 449.9h0M747.6 102.1h0M564.5 299.3h0M425.9 509.3h0M614.4 227.5h0M307.6 503.2h0M599.2 239.6h0M656.2 168.2h0M573 296h0M553.8 335h0M286.2 558h0M368.7 490.1h0M230.3 536.3h0M736.9 114.2h0M532.3 292.7h0M622.1 205.2h0M736.7 103.6h0M697.9 146.7h0M709.9 111.9h0M668.2 209.1h0M406.8 499.6h0M501.7 280.7h0M252.8 592.6h0M443.6 378h0M502.2 321.2h0M494.3 362.4h0M652.7 213.1h0M443.7 406.3h0M656.1 198.2h0M553.9 256.5h0M636.8 164h0M218.8 594.4h0M594.7 211.9h0M539.4 308.1h0M598.6 249.6h0M485.3 389.1h0M147.7 644.3h0M716.4 98.6h0M307.3 452.2h0M556.8 317.7h0M339.4 481.4h0M135.4 548.4h0M698.2 149.2h0M510.9 274.1h0M629.5 236.4h0M724.5 80.8h0M565.7 317.9h0M729.2 106.9h0M477.9 282h0M731.9 92.6h0M241 564.3h0M416.6 527.7h0M518.3 332.1h0M493.8 312.1h0M546.1 282h0M693.7 161.2h0M538.9 325.8h0M379.1 557.7h0M510.5 355.9h0M641.4 138.3h0M460.2 341.7h0M484.9 346.1h0M663.9 185h0M135.6 582.9h0M743.8 73.4h0M656.1 201.4h0M690.4 119.8h0M416 493h0M349.2 485.1h0M387.7 540.9h0M206.6 574.9h0M695.1 120.3h0M713.4 109.6h0M721.3 82.3h0M615.1 221.7h0M253 513.7h0M349.2 559.4h0M241.5 607.9h0M664.2 167.2h0M425.8 492.3h0M539.2 337.9h0M218.8 547.6h0M672.2 142.3h0M614.5 240.2h0M603.9 236.3h0M339.5 561.3h0M135.8 655h0M406.5 463.9h0M689.8 113.3h0M675 199.7h0M625.3 187h0M406.5 522.9h0M686 173.5h0M159.2 630.8h0M584.9 278.4h0M577.1 277.9h0M576.8 282.1h0M603 247.5h0M285.6 564h0M135.3 577.7h0M338.8 476.4h0M195 592h0M338.8 439.7h0M518.3 350.8h0M339.1 460.5h0M171.5 614.4h0M451.5 352h0M672.2 165.9h0M739.5 101h0M264.3 562.9h0M318.3 526.7h0M229.5 552.9h0M171.3 578.3h0M705.1 102h0M285.6 587h0M478.2 351.1h0M307.9 503.1h0M691 139.2h0M147.6 506h0M425.9 380.9h0M532.2 291.6h0M546.7 273.2h0M531.5 354.9h0M668.1 198h0M111.5 627h0M318.9 576.9h0M682.8 169.3h0M640.9 213.2h0M275.3 580.6h0M359.3 480.7h0M339.3 492.3h0M610.4 192.4h0M359.6 555.5h0M388 540.7h0M493.6 381.1h0M477.7 411.3h0M645.2 226h0M206.7 518.4h0M668.3 175h0M717.2 76.4h0M426 520.6h0M644.2 198.4h0M517.6 311.1h0M435.2 504.6h0M598.5 204.1h0M701.9 153.4h0M724.8 86.4h0M501.7 311.1h0M721 79.9h0M663.8 166.8h0M607.5 228.6h0M510.9 367.8h0M170.8 614.6h0M706.1 137h0M328.4 551.4h0M686.1 155.4h0M485.3 340.5h0M518.3 301.4h0M510.1 304.3h0M659.7 188.9h0M349.4 485.9h0M183.8 587.7h0M135.8 643.7h0M443.4 490.9h0M241.8 563.8h0M637.9 214.5h0M682.2 185.7h0M443.4 479.1h0M587.3 217h0M698 139.9h0M583.6 286.5h0M656.7 188.2h0M546.7 293.2h0M561.1 293.9h0M494.4 361.3h0M241.7 606.7h0M252.6 572.2h0M640.4 153.8h0M252.9 542.3h0M206.8 617.6h0M369.4 446.3h0M263.8 574.6h0M388.4 437.3h0M656.5 193h0M572 288.4h0M158.8 601.7h0M218.5 605.8h0M369.2 552.1h0M576.3 298.7h0M328.4 542.2h0M241 582.5h0M285.8 496h0M667.8 201.5h0M435.4 399.2h0M123.8 664h0M286.3 463.1h0M435.1 493.2h0M717.4 106.2h0M576.8 270.8h0M349.6 537h0M406.6 476.4h0M584.5 221.5h0M587.5 276.1h0M611.4 236.2h0M378.8 542.9h0M510.5 336.8h0M194.8 613.3h0M478.1 341.4h0M728.3 97.5h0M469.3 442.7h0M296.8 506.5h0M675.4 158.1h0M617.9 204.2h0M517.7 361.6h0M485.2 384h0M576.1 307.6h0M307.3 567.5h0M557.3 336.4h0M416.3 477.6h0M569.7 323h0M307.3 572.2h0M606.5 223.8h0M695 146h0M714 90.2h0M626.2 201.9h0M195.5 586.4h0M207.4 614h0M318.7 512h0M656.5 209.6h0M714 86.9h0M397.4 547.2h0M407.3 502.5h0M252.7 593.4h0M443.3 426.2h0M743.8 84.9h0M607.4 243.6h0M713.1 97.5h0M359.4 431h0M664.2 192.2h0M588.2 274.1h0M407.1 536.6h0M123.4 585.6h0M682.8 124.1h0M274.5 531.8h0M264.2 600.3h0M630.1 224.9h0M577.3 287.2h0M568.8 295.6h0M655.9 158h0M388.3 502.9h0M725.2 115.6h0M644.4 224.7h0M452 472.1h0M621.3 201.8h0M171.2 549.5h0M477.8 376.5h0M736.1 74.7h0M194.8 534.9h0M747.3 102.1h0M602.5 205h0M595.8 250.5h0M263.5 530.9h0M751.6 99.5h0M229.6 544.8h0M558.2 266.5h0M435.2 437.7h0M460.8 298.2h0M159 608.6h0M655.7 191.6h0M517.6 382.2h0M443.1 447.8h0M397.8 509.9h0M648 194.5h0M485.1 331h0M339 489.2h0M532.3 303.3h0M328.7 522.3h0M728 118.3h0M743.9 90.6h0M556.7 321.1h0M510.3 289.7h0M611.3 252.3h0M644.2 154.6h0M539.5 287.4h0M720.8 124.2h0M560.8 315h0M329.1 570h0M735.5 113.7h0M469.2 352.8h0M379 520.7h0M358.9 507h0M406.7 540.7h0M637.5 213.4h0M679.4 175.2h0M610.6 210.3h0M546.6 356.1h0M485.6 326h0M607 253.6h0M648.7 182.3h0M477.6 420.9h0M387.8 455.9h0M241.1 482.8h0M478.2 397.9h0M695 148.6h0M502 361.8h0M485 364.2h0M694.7 160.7h0M618 214.5h0M602.8 253.9h0M368.9 439.1h0M460.5 344.5h0M147.5 581.3h0M469.1 433.3h0M485.4 396.9h0M641.9 158.8h0M318.7 584.6h0M339.1 448.5h0M739.6 96h0M747.2 90.7h0M443.5 463.1h0M675.7 194.5h0M435 419.9h0M388 513.8h0M606.2 252.4h0M538.8 302.6h0M485.3 369.2h0M557.6 309.4h0M556.9 341.7h0M621.6 229.6h0M584.7 241.7h0M698.3 129.9h0M615.3 201.7h0M663.9 196.8h0M618.1 231.8h0M553.2 321.6h0M705.1 137.9h0M732 110.5h0M625.4 215.7h0M729.1 72.9h0" stroke="#00f" stroke-width="5.0" stroke-linecap="round" stroke-opacity="0.55" fill="none"/><path d="M1459.9 576.5h0M1445.9 458.8h0M1461.4 190.7h0M1463.5 480.2h0M1460.3 102.1h0M1449.3 368.8h0M1456.8 117.6h0M1461.3 199h0M1456.4 513.7h0M1451.1 108h0M1459 486.2h0M1447.4 277.8h0M1464.5 310.6h0M1460.9 385.7h0M1458.8 317.1h0M1460.1 77.5h0M1455.2 383.6h0M1454.3 354.4h0M1449.3 632.6h0M1458.6 146h0M1458.4 384.5h0M1454.2 503.4h0M1461.4 510.9h0M1456.8 152.2h0M1455.7 503.2h0M1456.6 311.2h0M1457.5 235.2h0M1457.6 289.7h0M1459.7 138.2h0M1454.4 425.8h0M1448.9 373.2h0M1454 369.9h0M1458.9 355h0M1454.6 241.2h0M1456.7 160.9h0M1455.6 284.7h0M1457.4 276.8h0M1459.4 165.5h0M1460 500.3h0M1460.3 382.8h0M1457.6 378.6h0M1460.8 451.1h0M1460.1 549h0M1460.9 563h0M1454.6 524.2h0M1466.6 348.8h0M1458.2 422.2h0M1457.2 342.8h0M1458.4 392.2h0M1452.3 331.6h0M1467.7 395.2h0M1456.8 148.1h0M1465.6 165.1h0M1453.4 375.8h0M1449.9 530.1h0M1454.4 395.6h0M1458.4 314.5h0M1454.1 503.1h0M1459.2 163.2h0M1457.2 347.4h0M1450.9 165.2h0M1456.5 303.1h0M1454.7 97.5h0M1455.2 266.7h0M1455.5 410.3h0M1450.5 476h0M1455.5 477.3h0M1456.7 305.2h0M1454.9 135.2h0M1457.5 209.1h0M1454.3 426.7h0M1451.1 351.3h0M1456.2 195.4h0M1454.6 488.5h0M1446.9 223.7h0M1456.2 481.7h0M1455.8 228h0M1454.7 311.3h0M1452.1 384.3h0M1452.2 193.3h0M1456.9 440.2h0M1452.8 369.2h0M1458.9 256.5h0M1457.5 309.7h0M1453.9 292.8h0M1456.6 567.3h0M1455.3 463.4h0M1456.6 393.7h0M1454.7 502.2h0M1457.2 194h0M1455.8 305.1h0M1455.9 535.8h0M1443.9 464.2h0M1455.5 431.1h0M1451.3 92.7h0M1461.9 436.5h0M1453.1 197.9h0M1443.5 228.8h0M1457.8 558.9h0M1459.1 467.9h0M1463.8 144.8h0M1449.7 355.3h0M1460.8 226.7h0M1452 296.9h0M1453.9 127.6h0M1457.3 487.1h0M1460.4 245.7h0M1462.5 318.9h0M1455 560.8h0M1445.6 261.1h0M1450.4 363h0M1457.9 153h0M1455.6 186.8h0M1454.3 149.5h0M1457.2 467.3h0M1454.9 98.1h0M1454.7 245.4h0M1453.7 174.6h0M1455.6 351.6h0M1457.9 229.3h0M1454.5 234.1h0M1453.9 242.8h0M1462.3 98h0M1455.2 225.2h0M1457.4 140.1h0M1455.2 516.8h0M1453.8 600.6h0M1455.4 521.4h0M1460.7 339.5h0M1450.8 495.2h0M1453.8 121h0M1456.6 296.2h0M1454.1 444.2h0M1457.7 354.9h0M1452.4 513.4h0M1455.8 461.3h0M1458.3 510.9h0M1453.6 216.1h0M1456.1 424.6h0M1450.7 240.5h0M1455.1 389.7h0M1465.1 468.1h0M1457.3 434.9h0M1454.5 394.1h0M1456.3 509.1h0M1462.6 508.1h0M1453.7 189.7h0M1452.5 184.2h0M1462.8 495.3h0M1454.9 53h0M1461.8 380.5h0M1454.1 345.3h0M1458.3 189.8h0M1454.7 551.5h0M1459 262.7h0M1461.3 347.7h0M1453.3 370.8h0M1459.5 168h0M1451.7 322.1h0M1448.7 250.5h0M1452.4 134.4h0M1452.8 555.6h0M1455.9 141.7h0M1457.9 154.3h0M1456.7 449.7h0M1452.9 227.8h0M1453.9 266.9h0M1458.5 312.3h0M1456.2 470.3h0M1458.2 493h0M1455.4 400.8h0M1455.7 308.6h0M1457.1 429h0M1453.7 323.4h0M1461.3 408.4h0M1452.6 237.3h0M1456.7 288.6h0M1463.7 245.6h0M1456.5 383.3h0M1458.3 350.1h0M1455.1 48.1h0M1451.6 382.8h0M1452.5 622h0M1454.5 509h0M1456.2 300.9h0M1456.4 649.9h0M1453.6 277.6h0M1459.9 215.5h0M1455.3 678.8h0M1454 319.3h0M1453.8 321.4h0M1452.6 170.6h0M1455.7 479.8h0M1452.4 520.8h0M1459.8 174.4h0M1452.1 165.8h0M1456.1 377.8h0M1455.2 225.7h0M1455.6 231.6h0M1453.5 207h0M1455.3 131.2h0M1450.1 537.1h0M1456.1 580.9h0M1443.7 498.7h0M1460.2 258.9h0M1454.6 475.2h0M1454.6 376.1h0M1458 171.8h0M1453.1 612.8h0M1453.9 135.8h0M1460 422.7h0M1458.9 439.5h0M1448.5 468.9h0M1454.5 494.5h0M1456.1 507.4h0M1455.4 482.4h0M1452.5 401.7h0M1447.3 382.7h0M1456.2 294.4h0M1462.5 325h0M1453.4 274.6h0M1461.3 398.9h0M1454.8 200.6h0M1456 541.2h0M1451.2 248.9h0M1458.9 493.7h0M1459.8 390.5h0M1462.3 184.6h0M1456.5 433.4h0M1460.3 596h0M1467.3 279.2h0M1451.4 401.1h0M1448.8 458h0M1459.6 563.4h0M1456.5 213h0M1454 144.9h0M1455.3 365.7h0M1460.9 291.2h0M1460.6 387.3h0M1458.4 111.4h0M1450.4 477.4h0M1450 277.5h0M1453.3 283h0M1450.5 431.4h0M1459.8 371.5h0M1457.1 387.1h0M1454.5 316.5h0M1453.4 305.4h0M1451.4 446.2h0M1454.6 470.3h0M1451.6 487.3h0M1448.7 224.7h0M1457.5 318.4h0M1462.8 259.8h0M1452.1 406.9h0M1454.5 296.9h0M1454.4 173.2h0M1456.2 260.6h0M1454.4 201.3h0M1440.5 242.8h0M1449.1 175.9h0M1455.6 298.5h0M1460.5 155.2h0M1452.9 560.7h0M1448.4 246.7h0M1456.2 257.8h0M1453.6 179.5h0M1456.4 234.7h0M1459.1 137.1h0M1454.2 460.2h0M1464.1 548.6h0M1456.8 306.4h0M1454 397.3h0M1454.3 329.6h0M1454.4 318.9h0M1452.8 537.6h0M1454.2 134.5h0M1455.7 248.7h0M1452.8 175.3h0M1453.4 276.4h0M1463 444.7h0M1453 226h0M1457.3 309.6h0M1449.3 364.2h0M1456.2 479.8h0M1455.6 307.9h0M1459.1 152.6h0M1455.1 352.7h0M1450.9 328.2h0M1461 373.8h0M1456 425.6h0M1456.7 311h0M1454.8 192.4h0M1453.2 448.4h0M1459.8 140.1h0M1449.4 333.6h0M1454.4 134.6h0M1455.6 184.9h0M1455.6 465.2h0M1448.1 409.2h0M1454.3 448.1h0M1454.8 140.4h0M1469.4 490.9h0M1451.3 579.4h0M1452.6 327h0M1465.7 365.8h0M1456.5 367.8h0M1450.6 252h0M1451.1 252.9h0M1461.5 259.6h0M1451.2 207.4h0M1460.7 315.5h0M1454.7 408.4h0M1455.4 110.9h0M1458 409h0M1464.5 262.6h0M1465.2 498h0M1449 153.3h0M1457.7 344.6h0M1460.3 281.3h0M1449.6 591.7h0M1449.3 175.2h0M1461.2 273.1h0M1456.5 560.7h0M1459.9 254.2h0M1459.7 516.3h0M1455.5 93.3h0M1453.9 88.8h0M1467 181.3h0M1457.1 435.9h0M1451.2 137.8h0M1451.4 327h0M1452.7 279.4h0M1453.7 515.5h0M1454 561.1h0M1452.8 421h0M1449.3 350.1h0M1456.4 353.4h0M1452.9 447.6h0M1460.7 376.7h0M1458.4 210.2h0M1460.4 414.2h0M1454.3 405.5h0M1458.7 223.4h0M1457.3 334.1h0M1456.6 164.7h0M1453.5 318.7h0M1463.3 439.7h0M1453.6 316.7h0M1458.6 315h0M1453.8 311.2h0M1458.1 324.2h0M1455.7 266.8h0M1455.1 472.8h0M1454.9 457.6h0M1459.8 318h0M1461.1 206.4h0M1450.5 330.2h0M1464.7 414.9h0M1452.3 217.7h0M1459 323.6h0M1458.2 288.9h0M1451 196.5h0M1452 130.7h0M1450.2 297.7h0M1451.7 272.7h0M1463.4 438.8h0M1452.1 145.9h0M1458.7 258.7h0M1447.2 316.8h0M1467.6 135.9h0M1457.8 257.4h0M1446.9 312.7h0M1453.9 133.5h0M1446.6 394.1h0M1461.7 392.4h0M1451.7 496.7h0M1458.4 497.1h0M1450.8 232.1h0M1465.9 254.2h0M1449.6 243.3h0M1462.1 400.5h0M1455.2 152.1h0M1449.3 458.5h0M1452.7 280.2h0M1448.3 186.5h0M1452.8 255.7h0M1452.4 189h0M1457 511.6h0M1459.6 235.2h0M1457 96.2h0M1456.7 506.8h0M1450 440.1h0M1452.3 369.7h0M1457.9 131.7h0M1459.6 433h0M1451.5 511.9h0M1459 207.2h0M1458.5 201.6h0M1451.6 270.2h0M1457.5 463.9h0M1455.7 552.1h0M1455.9 483.1h0M1459.7 329.1h0M1461.3 372.6h0M1459.2 518.7h0M1456.1 184.2h0M1457.7 449.5h0M1445.9 289.1h0M1451.4 417.4h0M1458.9 202.9h0M1455.2 128.6h0M1456.4 318.2h0M1456.4 420.8h0M1453.3 567.4h0M1455 442.7h0M1463.2 129.3h0M1452.5 216.4h0M1460.5 430.9h0M1441 397.3h0M1465 172h0M1448.8 402.3h0M1455.5 188h0M1453.9 276.5h0M1467.5 404.3h0M1450.9 453.6h0M1453.3 275.9h0M1451.8 182.9h0M1462.4 138.7h0M1447.5 536.3h0M1458.9 433.1h0M1459.9 469.9h0M1454.8 207h0M1451.6 507.3h0M1458.3 498h0M1454.6 155.6h0M1451.4 639.9h0M1457.5 517.4h0M1453.1 153.2h0M1456.2 361.6h0M1459.6 99.9h0M1458 262.1h0M1458.4 449.9h0M1453 118.1h0M1464.5 105.4h0M1450.9 366.6h0M1455 367h0M1457.4 452.5h0M1455.1 270.8h0M1451.9 273.4h0M1457.3 142.1h0M1453.3 589.4h0M1465.9 353.6h0M1454 139h0M1451.6 241.6h0M1455.9 116.5h0M1450.4 192h0M1454.4 159.2h0M1463.2 300.8h0M1450.5 519.3h0M1464.2 514.6h0M1455.5 294.5h0M1453.7 229.7h0M1449.9 476.7h0M1455.1 391.8h0M1459 406.2h0M1463.1 258.4h0M1457.5 257h0M1452.5 110.4h0M1457 274.2h0M1459.2 473.9h0M1458.3 285.9h0M1462 330.7h0M1455.2 315.1h0M1452.6 534.7h0M1456.5 357.6h0M1453.8 403.4h0M1453 265.9h0M1457.1 171.8h0M1457.6 504.5h0M1452.1 613.2h0M1460.9 505h0M1451.6 237.8h0M1453.2 343.8h0M1453 261.7h0M1454.3 398.3h0M1455.5 447.9h0M1457.8 163.4h0M1457.4 210.8h0M1460.6 413.8h0M1453.8 360.5h0M1459.4 200.3h0M1461.8 304.9h0M1460.3 277.4h0M1457.9 365.5h0M1450.8 212.1h0M1449.3 268.4h0M1455.7 336.2h0M1476 113h0M1456.6 370.1h0M1457.4 294.9h0M1455.2 188.3h0M1456 353.7h0M1448.9 499.4h0M1453.1 120.1h0M1458.2 128h0M1456.2 350.5h0M1455.1 567.9h0M1454.1 542.2h0M1458.5 365.3h0M1455.8 383.1h0M1459.3 484h0M1445.7 369h0M1449.4 137.5h0M1454.7 303.1h0M1456.6 449.4h0M1461.2 428h0M1451 398.8h0M1462 409.5h0M1450.7 287.8h0M1464 451.6h0M1456.2 498.2h0M1452.4 174.1h0M1458.5 466.9h0M1452.5 399.1h0M1464.8 290.8h0M1457.9 464.1h0M1460.7 126.5h0M1457.1 639h0M1467.8 301.9h0M1454.1 327.4h0" stroke="#00f" stroke-width="5.0" stroke-linecap="round" stroke-opacity="0.55" fill="none"/><path d="M1454.5 419.9h0M1457.5 482.8h0M1455.4 515.4h0M1455.6 305.6h0M1453.1 266.5h0M1462 212.6h0M1459.9 364.4h0M1460.5 462.6h0M1448.4 165.5h0M1452.2 496.7h0M1454.2 383.4h0M1456.2 244.6h0M1456.5 444.4h0M1451.1 468.7h0M1455.3 250.9h0M1455.9 686.8h0M1454.1 396.2h0M1454.7 255.4h0M1456.7 515.7h0M1452.8 505h0M1460.4 360.9h0M1458.3 185h0M1454.5 487.4h0M1457.5 318.3h0M1467.3 126.1h0M1448.3 452.5h0M1453.1 169.1h0M1458 293.1h0M1457.1 470.2h0M1449.5 367h0M1456.6 361.4h0M1454.2 376.5h0M1462.9 406.7h0M1459.5 204.7h0M1460.8 210.7h0M1459.8 141.7h0M1458.8 506.9h0M1461.6 171.2h0M1455.4 371.4h0M1454.5 382.8h0M1453.5 220.4h0M1452.9 157.3h0M1449.3 123.6h0M1452.1 330.1h0M1454.6 600.2h0M1459 181.5h0M1454.3 484.3h0M1447.4 158.2h0M1453 352.7h0M1456.6 444h0M1458.9 258h0M1454.1 276.1h0M1455.1 164.8h0M1453.5 560.8h0M1445 367.7h0M1455.7 360.5h0M1454.5 188.1h0M1459.2 138.8h0M1461 276.4h0M1451.2 109.3h0M1457.7 171.5h0M1451.9 377h0M1457.7 183.4h0M1455.1 132.8h0M1449.8 524.8h0M1458.7 129.9h0M1452.5 454.7h0M1458.8 389.4h0M1459.5 532.6h0M1457 250.8h0M1463.7 203.2h0M1448.3 494.5h0M1456.7 309.9h0M1457.2 413.3h0M1461.8 203.1h0M1458 340.9h0M1446.2 442.2h0M1455.7 284.5h0M1459.5 365.2h0M1455 445.6h0M1453.8 313.3h0M1458 492.4h0M1456.8 661.7h0M1457.7 202.8h0M1453.2 252.8h0M1455.2 488.6h0M1451.7 414.2h0M1456.9 139.6h0M1447.6 427.6h0M1460.7 399.9h0M1457.6 308.4h0M1452.6 244.1h0M1455 242.4h0M1461.3 342.4h0M1452.1 458.5h0M1459.1 494.8h0M1457.2 301.6h0M1454.3 549.2h0M1456.2 272.5h0M1462.2 441.5h0M1463.1 252.4h0M1456.5 390.2h0M1450.9 390.8h0M1461.1 257.2h0M1466.8 274h0M1447.6 202.6h0M1459.2 399.9h0M1455.9 149.1h0M1453.3 217.9h0M1450.4 507.3h0M1456.5 306.8h0M1455.6 338.2h0M1448.7 138.5h0M1458.1 460.4h0M1459.3 367.3h0M1456.9 436h0M1457.1 320.1h0M1451.2 481.9h0M1462.6 366.3h0M1449.2 142h0M1457 193.3h0M1457.3 340.5h0M1457.8 349.6h0M1457.9 173.8h0M1451.9 399.9h0M1455 272.7h0M1456.3 243.5h0M1455.6 324.8h0M1454.5 449.4h0M1448.7 480.7h0M1462.4 299.2h0M1454.3 334.2h0M1456.5 335.6h0M1459.9 175.5h0M1449.2 321.2h0M1450.9 444.6h0M1456.9 128.9h0M1458.4 454.6h0M1458.8 298.3h0M1462.4 406.5h0M1463.8 228.7h0M1460.4 220.8h0M1458.2 393.4h0M1450.2 430.6h0M1454.5 427.4h0M1451.6 335.4h0M1455.1 295h0M1455.6 539h0M1457.9 191h0M1457.4 273.9h0M1459.4 129.8h0M1459.7 188.3h0M1450.5 499.3h0M1454.9 521.5h0M1453.5 159.7h0M1456.3 124.4h0M1459.2 344.1h0M1454.3 219.4h0M1455.5 257.6h0M1454.6 493.9h0M1463.2 115.4h0M1455.3 228.3h0M1457.2 246h0M1455.3 331h0M1458 290.6h0M1448.3 273.3h0M1454.9 100.1h0M1453.8 532h0M1459.6 453.9h0M1460.9 415.1h0M1459 486.6h0M1457.3 535.2h0M1454.9 405.1h0M1460.2 377.6h0M1461.1 471.2h0M1462.9 367.4h0M1455.6 362h0M1458.3 439.1h0M1460.9 175.3h0M1460.8 280.5h0M1452.5 230.4h0M1452 622.3h0M1454.1 434.3h0M1461.1 509.8h0M1453.8 196.4h0M1461.6 359.9h0M1458.1 362.3h0M1469.3 396.2h0M1458.8 222.2h0M1459.3 418.2h0M1460.8 500.3h0M1470.4 447.9h0M1462.8 213.7h0M1447.7 202.8h0M1459.7 250.7h0M1446.4 156.6h0M1457.2 445.1h0M1457 272.1h0M1453.7 447.1h0M1466.6 349.3h0M1460.2 137.5h0M1441.9 368.7h0M1454.8 326.6h0M1457.1 339.9h0M1464.1 349.1h0M1462.4 505.5h0M1455.7 206.1h0M1454.1 456.7h0M1451.1 580.5h0M1456.2 284.4h0M1456.6 367.4h0M1455.8 198.4h0M1451.7 216.7h0M1452.4 600.1h0M1454.3 488.9h0M1446.8 342.9h0M1455.7 441h0M1450.2 120h0M1449.2 182.9h0M1459.6 447h0M1453.5 317h0M1458.1 506.2h0M1462.3 239.4h0M1466.1 263.5h0M1460.2 290h0M1457.1 256.8h0M1457.6 550.9h0M1461.9 513.9h0M1458.1 226.7h0M1457.1 554h0M1456.3 211.4h0M1457.4 445h0M1438.6 274.5h0M1463 253.6h0M1450.2 116.4h0M1459.1 460.9h0M1459.6 186.3h0M1456.8 155.7h0M1458.8 468.1h0M1457.6 218.9h0M1456.8 438.3h0M1463.3 415h0M1455 250.3h0M1454 555.1h0M1455.6 311.9h0M1458.4 548.8h0M1454.7 135.4h0M1453.9 441.2h0M1458.2 331.2h0M1468.2 374.7h0M1458 459.1h0M1458 319.3h0M1449.9 473.1h0M1464.2 457.9h0M1458.1 148.6h0M1459.7 527.4h0M1457.7 515.9h0M1452.2 364.7h0M1451.3 364.7h0M1459.9 413.4h0M1463.9 325.7h0M1446.2 518.3h0M1459.5 445h0M1455.4 258.2h0M1456.4 95.7h0M1458.3 296.2h0M1454.9 393.9h0M1457.9 454.7h0M1461.3 197.3h0M1456.7 466.9h0M1459.9 371.4h0M1457.5 303.8h0M1454.1 349.5h0M1449.6 230.7h0M1450.4 150h0M1456.1 332.8h0M1454.3 203h0M1462.8 344.1h0M1454 400h0M1457.9 566.1h0M1447.8 429.7h0M1462.8 414.3h0M1460.3 159.3h0M1449.6 612.1h0M1452.1 500.8h0M1462.5 381.9h0M1461.8 92.9h0M1450.3 296h0M1450.6 493.4h0M1452.7 154.8h0M1455.2 404.7h0M1453.6 472.8h0M1455.7 611.4h0M1461.3 213.1h0M1452.9 566.2h0M1465.2 493.1h0M1464.5 191h0M1456.4 148.9h0M1459.9 336.8h0M1448.8 317.8h0M1451.1 463.5h0M1458.7 296.2h0M1450 612h0M1453.6 360h0M1452.4 247.9h0M1459.3 164.7h0M1457.7 163.4h0M1451.6 262.2h0M1456.9 139.7h0M1448.6 116.1h0M1457 113.5h0M1459.7 324.5h0M1462 413.4h0M1455.3 480.3h0M1451.9 212.3h0M1461.3 232.1h0M1452 137.9h0M1450.1 416h0M1450.7 481h0M1455.7 496.2h0M1454.8 345h0M1457.9 316.4h0M1454.6 246.3h0M1446.2 246.7h0M1454.2 403.3h0M1460.6 452h0M1457.1 477.6h0M1454.7 357.7h0M1456.6 244.6h0M1446.2 209.6h0M1453.3 275.1h0M1458.8 324.7h0M1455 368.8h0M1453 284.4h0M1451.9 315.1h0M1459 443.9h0M1450.7 377.8h0M1453.4 439h0M1456 128.9h0M1459.7 379.8h0M1461.5 136.8h0M1453.9 492.7h0M1450.2 158.6h0M1452.8 593.2h0M1457.6 306.3h0M1453.9 378.5h0M1459.7 259.6h0M1457.2 337.4h0M1451.9 252.9h0M1468.5 443.8h0M1458.7 194.6h0M1453.2 307.1h0M1458.2 358.4h0M1460.7 481.1h0M1464.1 174.6h0M1449.7 317.5h0M1467 432.2h0M1452.9 470.9h0M1456.1 479.7h0M1458.7 375.4h0M1448.9 348.5h0M1454.6 395.6h0M1452.9 608.5h0M1456.6 357.3h0M1463.5 164.8h0M1450.6 532.7h0M1458 129.7h0M1456.3 345.5h0M1445.9 213.7h0M1461.1 456.8h0M1462.4 227.6h0M1463.8 270.5h0M1450.2 147.5h0M1454.9 206.5h0M1454.1 274.8h0M1455.5 110h0M1456.9 409.8h0M1456.1 491.6h0M1463 264.1h0M1458.6 178.1h0M1449.1 475.7h0M1451.2 286.2h0M1458.9 342.2h0M1461.6 81.8h0M1458.4 464.9h0M1452.7 434.6h0M1455 525.5h0M1463.6 211h0M1464 133.9h0M1453.4 298.5h0M1453.3 431.4h0M1457.2 240.2h0M1452.8 277.7h0M1446.8 329.1h0M1463.1 494.4h0M1452 103.9h0M1456.7 314.9h0M1454.4 457.7h0M1454.7 450.6h0M1456.4 209.3h0M1456.6 290h0M1462 399.4h0M1449.1 227.5h0M1456 496h0M1453.6 275.9h0M1450.5 224.6h0M1456.6 205.2h0M1454 252.2h0M1460.5 322.7h0M1456.2 129.6h0M1459.1 406.7h0M1453.5 315.2h0M1450.2 390.4h0M1449.4 246.8h0M1458 415.3h0M1456.9 489.9h0M1458 490.2h0M1447.2 498.2h0M1461.8 366.8h0M1455.9 444h0M1456.4 407.7h0M1448.5 187.3h0M1452.6 208.8h0M1459.2 453.5h0M1457.5 314.2h0M1452.4 388.2h0M1456.5 353.2h0M1460.5 185.4h0M1460.3 291.6h0M1458.6 198.8h0M1450 237.4h0M1451.6 467.9h0M1454.6 220.2h0M1452.1 346.3h0M1450.6 267.4h0M1455.4 339.4h0M1455.4 385.8h0M1452.1 504.8h0M1456.5 267.6h0M1453.4 203.9h0M1453.2 100.2h0M1453.5 473h0M1462.4 388.8h0M1452.9 329.6h0M1463.3 284.6h0M1454 454.9h0M1448.2 394.1h0M1459.2 288h0M1459.1 167.5h0M1461.5 431.1h0M1444.8 352.8h0M1457.5 353.9h0M1460.6 113.8h0M1455.9 457h0M1454.8 514.3h0M1457.8 245.3h0M1459.4 218.4h0M1459.2 222.5h0M1450 375.6h0M1458.3 440.2h0M1455.9 413.2h0M1454.4 572.1h0M1457.3 265.7h0M1460.5 359.3h0M1452.1 545.8h0M1459.5 181h0M1458.1 297.8h0M1456.1 387.3h0M1450.9 205h0M1455.6 459h0M1462.7 297.8h0M1453.9 314.1h0M1462.9 347h0M1439.5 352.3h0M1464.4 274.5h0M1451.1 325.8h0M1458.7 293.2h0M1448.8 310h0M1460.9 310.2h0M1454.4 276.7h0M1453.1 366.4h0M1461.6 494.2h0M1455.6 250.3h0M1460.7 164.8h0M1457.5 481.9h0M1462.4 144.3h0M1462.8 249h0M1459.9 333.5h0M1460.5 347.7h0M1459.9 265.9h0M1457.2 296.5h0M1454.4 526.2h0M1451.1 385.4h0M1459.3 549.9h0M1459.4 255.3h0M1454.9 228.5h0M1444.1 467.1h0M1452.5 264.8h0M1455.8 469.5h0M1453.8 493.1h0M1461.2 256.4h0M1448.7 431h0M1455.3 516.3h0M1451.2 490.3h0M1460.7 450.6h0M1455.4 135.5h0M1467 455.7h0M1465.6 470.7h0M1458.7 212h0M1464.3 198.2h0M1456.6 198.3h0M1447.7 372.8h0M1453.4 430.7h0M1452.1 367.3h0M1457.1 485.8h0M1462.4 396h0M1456.6 275.1h0M1462.5 338.7h0M1457.8 165.5h0M1458.4 110.2h0M1456 384.1h0M1459.6 334.1h0M1451.1 250.3h0M1459.5 231.9h0M1456 640.2h0M1462.1 257.6h0M1456.4 393.5h0M1464 465.2h0M1456.5 142.7h0M1455.1 201.7h0M1461.7 266.4h0" stroke="#00f" stroke-width="5.0" stroke-linecap="round" stroke-opacity="0.55" fill="none"/><path d="M1456 478.8h0M1460.7 452h0M1461.9 152.9h0M1456.1 327.1h0M1467 314.5h0M1453.4 525.2h0M1454.3 403.2h0M1455.2 294.2h0M1458.4 411h0M1459.4 497.4h0M1447.5 263.1h0M1455.8 618.8h0M1449.7 284.4h0M1451.8 422.7h0M1453.2 556.7h0M1459.2 214.1h0M1462.9 317.3h0M1458.4 191.2h0M1451.6 216.5h0M1453.6 113.4h0M1454.9 438.9h0M1453 345.2h0M1463.9 316.4h0M1458.9 112.9h0M1451.4 202.9h0M1454.3 105.2h0M1452.7 524.6h0M1455.9 201.5h0M1457.8 362.8h0M1453.5 121.7h0M1461.8 441.9h0M1460.3 433.4h0M1462.1 179.4h0M1450.3 383.1h0M1455.1 423h0M1451.7 381.7h0M1447.8 451.5h0M1454.9 338.5h0M1451.6 160.8h0M1457.5 158.3h0M1455.6 520.4h0M1458.2 397.2h0M1449.2 465.5h0M1458 354.2h0M1455.4 453.6h0M1457.7 493.3h0M1455.2 567.7h0M1462.8 176.4h0M1452.1 575.7h0M1461.2 470.1h0M1446.6 310.8h0M1464.3 350.7h0M1457.1 261.7h0M1462 328.5h0M1459.2 459.1h0M1455 152.5h0M1443.9 146.4h0M1457.5 166.2h0M1461.1 216.1h0M1453.7 218.6h0M1455.9 386.1h0M1458.5 598.9h0M1455 145.6h0M1451.8 198.3h0M1462.4 265.1h0M1457.9 219.4h0M1460.9 144.7h0M1456.4 333.1h0M1454 320.3h0M1458.2 310.1h0M1457.1 246.4h0M1457.7 423.6h0M1458.9 182.6h0M1454.8 253.3h0M1456.7 169.8h0M1461.4 556.8h0M1454.5 537.5h0M1455.2 220.4h0M1456.3 492.4h0M1453.1 110.4h0M1458.7 260.1h0M1464.4 345.2h0M1448.1 283.1h0M1453.3 399.1h0M1457.8 205.8h0M1458.6 242.3h0M1451.8 265.2h0M1453.6 180.1h0M1465.5 570.1h0M1457.7 333.4h0M1462.5 470.8h0M1451.8 573.2h0M1454.1 257.9h0M1457.4 256.2h0M1466.4 374.1h0M1455.3 449.6h0M1462.8 398.5h0M1460.3 133.6h0M1461.3 468h0M1461.7 177.9h0M1454.2 255.8h0M1458.6 111.6h0M1451.3 521.2h0M1458.1 518.6h0M1455.7 360.6h0M1461 195h0M1459.1 449.4h0M1460.9 216.8h0M1457.8 426.7h0M1458.6 295.5h0M1461.9 157.2h0M1456.1 244.6h0M1455.8 349.9h0M1455.2 375.3h0M1459.5 430.1h0M1459.2 217.6h0M1446.7 449.4h0M1458.2 390.5h0M1458.9 376.4h0M1460.8 483.9h0M1457.1 120.8h0M1464.7 471.5h0M1457.1 388.9h0M1450.9 519.6h0M1456.3 472.9h0M1462.6 146.5h0M1452.9 235.2h0M1453.7 374h0M1456.2 192h0M1439.4 94.5h0M1456.7 139.9h0M1461.9 391.9h0M1455.3 569.7h0M1467.3 444.3h0M1458.4 505.5h0M1448.8 151.1h0M1452.9 485.4h0M1450 164.8h0M1459.2 271.2h0M1451.3 426.2h0M1458.6 519.8h0M1455.9 521h0M1453.7 123.5h0M1456.1 507.7h0M1457.5 533h0M1443.8 171.8h0M1449.3 182.6h0M1453.4 320.6h0M1460 232h0M1448.3 301.5h0M1453.1 414.8h0M1456.7 489h0M1454.7 345h0M1453.6 240.2h0M1448.6 584.1h0M1456.5 318.4h0M1458.2 213h0M1452.6 192.3h0M1448.7 539.4h0M1457.2 79.8h0M1458.7 464.2h0M1458 443.1h0M1452.1 519.9h0M1448.6 241.6h0M1447.3 286.2h0M1453.5 511.5h0M1451.6 241.8h0M1451.4 162.1h0M1454.4 287.5h0M1457.6 396.2h0M1461.7 397.9h0M1463 289.9h0M1454.7 166.8h0M1457.9 241.1h0M1455.3 379h0M1458.9 367.4h0M1455.5 460.4h0M1465.9 370.9h0M1454.2 538.6h0M1452.2 260.5h0M1457.3 287.9h0M1452 485.8h0M1454.9 518.7h0M1450.3 275.3h0M1452.1 317.8h0M1453.9 370.4h0M1462.9 393.2h0M1466.8 185.4h0M1457.7 147.4h0M1463.5 379.8h0M1455 486.4h0M1453.3 282.4h0M1461 345.7h0M1454.1 227.9h0M1455.9 269h0M1454.5 102.1h0M1453.2 210h0M1458.1 253.5h0M1454.1 233.9h0M1454.8 391.3h0M1452.8 117.1h0M1452.4 399h0M1453.8 590.3h0M1452.7 558.8h0M1466.7 310h0M1459.5 349.9h0M1444.6 453h0M1468.3 427.2h0M1456.8 304.2h0M1449.8 261.8h0M1453.5 406.9h0M1448.3 441.6h0M1459.4 218.8h0M1462.5 143.5h0M1455.1 144.3h0M1462.7 297.7h0M1453.6 205.4h0M1454.1 217.7h0M1444.8 217.1h0M1456.6 96.4h0M1457.3 142.1h0M1452.6 212.3h0M1453.5 387.1h0M1453.7 387.3h0M1457 410.8h0M1452.8 264.7h0M1454.6 260.1h0M1454.4 189h0M1454.1 95.9h0M1454.6 302h0M1453.3 241.3h0M1454.1 520.3h0M1459.3 136.5h0M1453.4 121.1h0M1453 179h0M1462.6 375.3h0M1452.5 335.3h0M1444.6 267.7h0M1455.3 198.1h0M1449.3 461.4h0M1461.7 212.3h0M1461 337.9h0M1454 412.3h0M1462.3 329.2h0M1465.3 469.8h0M1451.2 193.8h0M1455.4 436.6h0M1462.2 365.5h0M1456.6 343.1h0M1454.1 163.4h0M1456 248h0M1449.8 393.1h0M1457.1 391.8h0M1456 503.9h0M1462.8 369.9h0M1453.6 423.8h0M1455 456.4h0M1468.6 106.2h0M1459 396.6h0M1450.3 318.9h0M1453.5 305.7h0M1450.8 256.8h0M1452.3 329.9h0M1467.2 500.1h0M1451.8 450.8h0M1463 214.1h0M1456.7 246.1h0M1458.7 195.3h0M1448.7 258.2h0M1455.7 79.9h0M1449.2 347.5h0M1457.5 214.9h0M1453.8 185.9h0M1460.5 196.9h0M1450.2 240.5h0M1457.6 447.9h0M1454.2 456.5h0M1457.5 335.4h0M1456.7 407.2h0M1457.3 321.2h0M1455.3 278.7h0M1459.1 154h0M1456 250.8h0M1450.8 453.5h0M1464.9 188.3h0M1450.9 376.5h0M1463.9 164.5h0M1459.7 330h0M1455.2 376.8h0M1461.3 432.1h0M1453.3 104h0M1456.5 366.7h0M1471.9 172.9h0M1454.3 315.3h0M1455 159.5h0M1459.7 487.1h0M1457.8 178.7h0M1464 249.7h0M1449.9 206.5h0M1453.8 383.8h0M1455.7 476.9h0M1459.2 444.7h0M1455.1 412.6h0M1459.9 298.4h0M1457.6 375.7h0M1458.2 291.1h0M1451.9 427.2h0M1452.4 266.9h0M1455.8 221.2h0M1457 247h0M1455.7 360.2h0M1462.2 299.5h0M1455.9 375.9h0M1454.8 240.5h0M1454.6 403.1h0M1456.7 364.9h0M1459.8 342.2h0M1457.2 481.9h0M1449.3 196.4h0M1455.8 150.6h0M1464.5 181.4h0M1456.8 375.7h0M1461.2 267.5h0M1453.7 210.6h0M1449.4 293.2h0M1459 218.2h0M1451.7 193.7h0M1452 576.7h0M1454.8 135.5h0M1460.4 328.7h0M1464.8 485.9h0M1457.5 353.9h0M1452.4 361.7h0M1453.1 507.4h0M1451.8 492.9h0M1459.9 444h0M1452.7 208h0M1449.6 122.3h0M1459.9 130.9h0M1455.9 154.3h0M1453.7 500.5h0M1454.9 408.2h0M1453.8 416.5h0M1459.8 387.8h0M1459.1 341.4h0M1454.4 584.1h0M1461.3 469.6h0M1466.4 167.6h0M1453 324.5h0M1452 337.5h0M1457.3 120.2h0M1446 586.8h0M1458 409.8h0M1454.2 105.8h0M1460.9 151.7h0M1474.8 259.3h0M1455.3 394.2h0M1455.8 174.9h0M1454.3 485h0M1456 194.1h0M1460 150.9h0M1455.5 446.1h0M1456.7 97.4h0M1457 534.4h0M1456.1 150.4h0M1459 460.2h0M1459.1 302.3h0M1453.7 271h0M1452.7 295.9h0M1461.1 155.9h0M1459.7 263.7h0M1459.7 508.2h0M1449.6 467.9h0M1457.3 234.8h0M1462.4 308.8h0M1435.4 477.9h0M1458.3 139h0M1459.3 284.6h0M1449.2 358.3h0M1451.5 526.4h0M1459.1 368.7h0M1458 430.1h0M1448.6 341.1h0M1469.1 197.3h0M1452.8 150.6h0M1458.5 295h0M1455.4 284.9h0M1457.3 417.2h0M1454 92.6h0M1447.1 300.9h0M1452.9 385.5h0M1451.9 145.7h0M1457.7 544h0M1460.6 269.5h0M1446.7 135.8h0M1455.6 487.5h0M1452.3 390.7h0M1452 137.5h0M1456.8 254.2h0M1456.9 105.5h0M1449.8 231.4h0M1461.2 168h0M1459.6 254.8h0M1453.7 237.6h0M1454.5 454.5h0M1459.2 299.3h0M1456.6 467.5h0M1457.7 239.6h0M1455.7 374.7h0M1453.4 357.5h0M1455.7 407.7h0M1457 317.6h0M1458 173.6h0M1456.3 478.5h0M1452.1 296.3h0M1461.9 454.4h0M1447.3 198.4h0M1448.7 242.1h0M1462.1 137.9h0M1453.4 335.6h0M1461.4 239.2h0M1450.3 225.9h0M1459.7 549.4h0M1465.9 351.8h0M1456.3 406.7h0M1455.7 224.1h0M1455.3 151.6h0M1451.4 158.7h0M1454.9 174.9h0M1455.4 175.9h0M1444.8 313.7h0M1456.9 273.4h0M1458.6 529.1h0M1451.6 534.5h0M1457.4 130.9h0M1451.1 449.6h0M1455.5 122.6h0M1452 509.3h0M1450.3 422.6h0M1453.8 367.2h0M1455 184h0M1451.2 218.8h0M1455.9 463.2h0M1456.5 559.4h0M1461.3 316h0M1453.9 200.3h0M1460.6 94.3h0M1454.4 423.4h0M1454.6 140.4h0M1458.7 51.1h0M1458.9 423h0M1461.1 335.7h0M1452.3 494.9h0M1451.6 270.3h0M1466 301.6h0M1462.9 378.6h0M1450.4 340.8h0M1454.8 219h0M1454.7 75.7h0M1454.5 270.2h0M1456.6 185.2h0M1459.2 373.5h0M1460.4 498h0M1463.4 317.1h0M1450.9 173.3h0M1456.7 353.4h0M1454.6 392.5h0M1462.7 65.4h0M1450.1 342.5h0M1455.4 192.7h0M1454.1 287.4h0M1456.7 519.5h0M1456.5 403.1h0M1454.4 227.4h0M1457.6 309.2h0M1458.7 195.2h0M1456.6 282.9h0M1451.4 448.1h0M1458.4 439.1h0M1449.2 315.1h0M1458.8 119.4h0M1457.9 263.6h0M1456.2 519.2h0M1454.2 447h0M1464.3 358.3h0M1462.4 281.7h0M1460.4 203.7h0M1456.4 236.4h0M1451.5 328.8h0M1444.5 93.1h0M1468.3 422.5h0M1450.6 162.5h0M1452.3 522.8h0M1458.9 130.7h0M1465.9 482.8h0M1453.9 261.4h0M1453 148h0M1447.6 561.7h0M1451.2 323.7h0M1455.2 299.7h0M1450.9 283.9h0M1455.6 183.8h0M1455.4 167.6h0M1455.6 398.1h0M1453.2 141.4h0M1456.6 375.4h0M1456.6 354.8h0M1463.3 112.8h0M1453.1 216h0M1463.1 168.9h0M1455.8 355.6h0M1458.5 531.8h0M1460.5 270.3h0M1459.4 179.8h0M1459 492.3h0M1454.7 207.4h0M1460.5 384.2h0M1450 416.1h0M1453.5 96.9h0M1459.2 484.8h0M1456.6 114.4h0M1449.3 110.1h0M1460.5 180.7h0M1454.6 151.9h0M1451.8 493h0M1463.4 188.5h0M1458 428.5h0M1453.2 455.6h0M1457.7 481.8h0M1457.2 531.2h0M1454.2 415h0" stroke="#00f" stroke-width="5.0" stroke-linecap="round" stroke-opacity="0.55" fill="none"/><path d="M1449.4 252.3h0M1454.7 319.4h0M1454.2 218.2h0M1455.3 404.3h0M1459.9 339.3h0M1454.1 229.1h0M1457.1 449h0M1460.7 479.1h0M1457.1 446.3h0M1454.3 260.5h0M1452.8 347.2h0M1453.2 228.6h0M1460.8 590.7h0M1453.5 530.7h0M1455.6 479.6h0M1455.6 326.3h0M1455.9 273.8h0M1458.8 314.9h0M1456.4 604h0M1457.8 182.8h0M1452.4 259.2h0M1452.3 180.3h0M1458.3 409.9h0M1449 143.9h0M1463 141.4h0M1452.7 493h0M1456.8 440.9h0M1448.7 559.7h0M1458.3 512.3h0M1460.9 236.4h0M1461 317.5h0M1454 426.6h0M1457.1 372.6h0M1458.4 286.8h0M1445.2 330.8h0M1454.8 130.8h0M1454.5 502.1h0M1453.2 219.9h0M1454.1 481.4h0M1451.3 305.2h0M1463 348.2h0M1460 93h0M1452.2 380h0M1452.6 600.4h0M1458.6 381.3h0M1459.4 507.7h0M1458.9 144.4h0M1462.1 357.2h0M1451.9 189.4h0M1454.9 205.7h0M1460.2 459.5h0M1454.3 281.2h0M1446.7 475.5h0M1464.2 141.5h0M1454.4 499h0M1451.4 396.4h0M1464.7 401.9h0M1460.2 445.5h0M1463 463.6h0M1457.7 163.9h0M1452.3 119.3h0M1463 238.9h0M1456.1 444h0M1458.4 145.7h0M1456.4 297.5h0M1456.1 468.6h0M1454.8 509h0M1458.3 408.6h0M1460.1 422h0M1456.5 520.9h0M1459.1 542.1h0M1454.8 489.6h0M1463.3 350.7h0M1456.6 249.1h0M1455.7 94h0M1451.6 195.5h0M1456.1 232.2h0M1454.3 537.6h0M1449.5 247h0M1465.8 343.7h0M1459.7 416.2h0M1452.2 270.2h0M1458.1 316.6h0M1452.2 526.8h0M1460.5 391h0M1455.6 143.8h0M1456.2 267h0M1454.3 77.7h0M1444.4 152.4h0M1457.6 417.3h0M1464.2 431.4h0M1466.1 433.2h0M1450.2 249.9h0M1450.8 266.7h0M1456.4 364.6h0M1460.5 187.3h0M1456 96.3h0M1459.6 470.2h0M1455.9 511h0M1447.5 292.7h0M1456.4 495.5h0M1464.1 328.6h0M1452.6 294.4h0M1452.8 247.6h0M1460.3 312.2h0M1450.2 454.7h0M1450.4 492.8h0M1448.8 320.5h0M1451.6 404.9h0M1456.2 242.1h0M1459.6 97.7h0M1454.8 275.8h0M1450.5 246.8h0M1451.9 619h0M1454.1 182.3h0M1459.3 320.4h0M1444.8 258.6h0M1451.1 513.5h0M1456 280h0M1457.6 259.8h0M1452.7 449.1h0M1447.9 148.7h0M1460.7 235.8h0M1446.2 197.9h0M1452 278h0M1452.5 383.7h0M1460.7 514.7h0M1456.4 624.8h0M1452.5 418.4h0M1456.1 334.3h0M1453.7 440.3h0M1455.2 377.5h0M1465.6 383h0M1452.2 155.2h0M1460 302.1h0M1453.4 492.6h0M1454.2 273.5h0M1457.1 152.5h0M1460.7 194.8h0M1459.4 195.6h0M1455.5 271.2h0M1453.5 190.6h0M1471.8 432.5h0M1461 197h0M1455.3 113h0M1446.4 181.6h0M1456.7 335.1h0M1455.7 537.5h0M1455.7 195.6h0M1459.2 534.4h0M1458.5 164.7h0M1459.3 280.1h0M1446.7 638.1h0M1451.9 583.9h0M1455.2 289.3h0M1459.8 275.5h0M1458.1 197.4h0M1461.5 359.1h0M1456.1 514.3h0M1458.1 157.7h0M1461.7 211.3h0M1458.9 238.4h0M1455.1 522.3h0M1455.2 696.9h0M1448 137.8h0M1460.6 401h0M1448.8 399.5h0M1458.5 450.6h0M1456.4 272.3h0M1449.1 243.1h0M1463.2 157.8h0M1452 345.3h0M1450.4 529.9h0M1452.9 457.1h0M1448.2 453.6h0M1460.9 374.6h0M1447.8 240.8h0M1459.2 328.1h0M1456.6 252h0M1454.4 353.3h0M1453.3 376h0M1455.2 153.3h0M1452.2 197.1h0M1456.9 422.7h0M1455 509.1h0M1452.6 262.4h0M1454.5 400h0M1469.2 342.1h0M1459.1 251.1h0M1454.8 182.7h0M1449.8 337h0M1455.6 527.6h0M1449.1 429.9h0M1459.7 309.7h0M1458.5 178.9h0M1459.9 259.7h0M1454.9 260h0M1466.9 398.6h0M1452.6 410.1h0M1462.5 288.9h0M1453.3 106.2h0M1454.7 231h0M1461.3 157.5h0M1460.3 282.6h0M1460 299.6h0M1458.2 411.9h0M1458.3 263.9h0M1450.9 165.4h0M1453.5 430.2h0M1450 147.2h0M1453.4 273.5h0M1459.4 381.6h0M1458.1 255h0M1456.4 438.3h0M1456.6 150.1h0M1460 209.2h0M1455.1 511h0M1460.9 340.2h0M1450.9 145.8h0M1447.6 367.4h0M1453 168.7h0M1460.2 259.2h0M1458.5 258h0M1459.8 441.6h0M1458.1 189.3h0M1452.2 280h0M1457.4 287.5h0M1457.5 118.4h0M1458 165.7h0M1450.4 306.3h0M1451.3 550.1h0M1454.9 353.2h0M1459.2 109.1h0M1453.9 266.7h0M1458.8 288h0M1452.6 404.3h0M1457.3 298.3h0M1457.4 452.9h0M1459.8 252.6h0M1453.3 219.9h0M1456 462.5h0M1464.3 379.7h0M1452.9 323.5h0M1456 301.3h0M1456.7 382.2h0M1451.9 465.9h0M1458.8 354.4h0M1458.6 161.5h0M1477.3 503h0M1460.3 182.5h0M1459.1 279.3h0M1450 196.8h0M1455.6 239.2h0M1460.2 50.6h0M1455.9 180.4h0M1460.2 308.4h0M1448.6 426.5h0M1465.6 120.9h0M1445.9 244.1h0M1455 360.3h0M1454.2 159.9h0M1449.3 286.9h0M1454.5 402.8h0M1455.6 137h0M1458 379.2h0M1455.7 446.3h0M1455.5 214.7h0M1454.1 567.8h0M1453.3 498.2h0M1449.8 203.1h0M1459.7 361.9h0M1455.8 156.2h0M1448.3 478.5h0M1449.5 155.1h0M1455.3 411.4h0M1455.3 402.3h0M1457.4 301.3h0M1463.5 255.4h0M1449.9 283.6h0M1452.1 144.1h0M1459.9 355h0M1455.8 336.7h0M1459.9 373.4h0M1450.5 500.2h0M1466.5 442.1h0M1454.8 247.1h0M1455.4 344.3h0M1447.3 130.9h0M1455.6 220.6h0M1460.8 195.6h0M1460.4 182.7h0M1459.5 115.5h0M1455.6 384.5h0M1457.7 466.5h0M1464.5 339.3h0M1457 360.8h0M1450.6 579.6h0M1462.9 311.5h0M1457.8 338.5h0M1460 333.6h0M1453.1 317.1h0M1458.9 320.5h0M1450.3 465.7h0M1453.8 387.4h0M1456.3 145.7h0M1454.3 380.2h0M1456.1 368h0M1459.4 175.2h0M1460.1 363.2h0M1452.8 414.1h0M1449.5 262h0M1460.6 176.9h0M1455.6 428.6h0M1459.4 431.7h0M1457.9 410.3h0M1449.8 422.8h0M1443.3 354h0M1458.6 454.7h0M1453.8 406.6h0M1458.7 254.2h0M1458.1 238.5h0M1454.2 127.4h0M1457.5 95.3h0M1463.7 275.5h0M1452.3 141.4h0M1460.2 422.3h0M1457.2 504.4h0M1450.2 181.6h0M1454.9 531.7h0M1460.7 310.9h0M1446.2 345.9h0M1451.5 392.4h0M1454.2 332.4h0M1457.6 545.3h0M1452 290.1h0M1454.9 325.7h0M1458.7 399.7h0M1455.1 263.6h0M1456.9 259.4h0M1447.5 191h0M1456.4 567.1h0M1464.1 471.1h0M1453.4 489h0M1459.4 482h0M1456.1 194.7h0M1452.7 517.6h0M1461.7 443.7h0M1452.1 547.5h0M1453.6 257.7h0M1459.9 254.1h0M1455 501.7h0M1457.1 250.4h0M1453.2 416.3h0M1457.1 355.9h0M1450.2 264.8h0M1459.5 447.8h0M1456.8 417.1h0M1453 531.2h0M1458.5 405.7h0M1454.3 231.4h0M1457.1 495.1h0M1461.6 162.2h0M1450.5 147.4h0M1456.1 349.2h0M1453.9 202.9h0M1450.5 158.4h0M1458.4 522.5h0M1452.1 189.9h0M1454.7 264.2h0M1456.4 188.9h0M1454 138.7h0M1452.5 71.3h0M1458.9 383.1h0M1455.9 279.3h0M1457.4 544.2h0M1450.2 350.8h0M1458.8 290.2h0M1455.8 187.7h0M1455.7 435.4h0M1465.6 409.5h0M1451.8 478h0M1457.2 98.9h0M1451.6 425.5h0M1458.5 491.3h0M1454.7 541.1h0M1457.2 82.7h0M1451 193.2h0M1452.7 368.3h0M1456.7 329.2h0M1457 278.1h0M1450.8 519.1h0M1456.4 60.5h0M1467.4 306.3h0M1451.8 357.5h0M1446.4 296.5h0M1466.4 425.7h0M1448.4 364.1h0M1455.2 251.6h0M1447.5 466h0M1451.5 369.9h0M1450.9 311.8h0M1456.2 524.3h0M1465.5 215h0M1455.5 558.5h0M1459 395.5h0M1464.6 381.1h0M1456.1 306.9h0M1455.4 291.6h0M1458.8 230.5h0M1454.4 439.6h0M1451.1 308.7h0M1461.4 284.9h0M1451.8 586.7h0M1458.5 371.8h0M1454 602.9h0M1456.3 517.6h0M1449.9 481.7h0M1456.1 511.1h0M1461.1 427.7h0M1454 187.4h0M1458.1 499.3h0M1456.6 374.6h0M1458.4 357.3h0M1453.9 451.7h0M1456.4 168.9h0M1454.7 355.4h0M1456.2 350.8h0M1458.1 473.1h0M1450.3 432.7h0M1460.6 134.8h0M1461.6 377.1h0M1457.2 208.2h0M1452.1 296.5h0M1454.4 198.6h0M1451.4 479.5h0M1457.8 430.7h0M1449.4 401.1h0M1455.8 258.5h0M1455.7 424.1h0M1459.9 446.8h0M1459.7 92.3h0M1462.6 379.4h0M1464.4 337h0M1463.5 174.1h0M1459 111h0M1457.6 358.1h0M1457.5 276.3h0M1457.6 361.1h0M1452.3 585.3h0M1457.5 153.9h0M1453.8 494h0M1455.1 526.5h0M1451.8 514h0M1462.4 369.8h0M1454.2 535.4h0M1457.8 455.2h0M1461.8 267.3h0M1457.8 488.3h0M1458 309.4h0M1464.5 176.7h0M1460.3 410.7h0M1457.5 353.2h0M1454.1 106h0M1455.7 171.3h0M1456.6 515.9h0M1464.3 345h0M1457.7 137.9h0M1452.8 609.9h0M1455.6 261.2h0M1461.6 316.4h0M1459.4 187.4h0M1448.4 411.7h0M1457.2 163h0M1448.4 171.1h0M1462.2 358.4h0M1463.8 234.9h0M1469.5 294.6h0M1451.6 214.1h0M1458 349.3h0M1448.8 209h0M1450.2 282.1h0M1458.2 196.6h0M1459.6 465.4h0M1450.7 176h0M1456.7 287.7h0M1458.8 392.6h0M1455.4 468.6h0M1445.9 171.7h0M1452.9 349.4h0M1450.8 324h0M1455 193.2h0M1455.7 162.2h0M1457 490.8h0M1448.6 270.3h0M1458.7 80.3h0M1459.1 326.7h0M1455.5 210.8h0M1462.8 251.8h0M1462.2 426.1h0M1457.9 504.8h0M1452.6 281.4h0M1463.8 430.5h0M1456.9 182.4h0M1456.5 477.3h0M1467.8 184.8h0M1455.2 518.3h0M1460.2 353.1h0M1459.7 474.1h0M1461 275.3h0M1458.8 266.6h0M1456.9 48.3h0M1462 380.7h0M1460.9 233.6h0M1459.2 354h0M1458 382.4h0M1449.7 229.2h0M1448.9 497.5h0M1458.6 259h0M1452.3 394.6h0M1459.2 441.8h0M1452.3 290.4h0M1455.5 136.9h0M1455.8 505.6h0M1459.2 76.5h0M1463.4 356h0M1454.8 284h0M1459.1 353.2h0M1458 181h0M1455.5 83.3h0M1456.9 113.3h0M1459.5 433.6h0" stroke="#00f" stroke-width="5.0" stroke-linecap="round" stroke-opacity="0.55" fill="none"/><path d="M1458.1 102.1h0M1453.2 292.8h0M1473.5 385.4h0M1459.9 238.8h0M1462.9 207.7h0M1456.1 525.7h0M1454.7 502.2h0M1456.3 342.4h0M1457.6 175.2h0M1451.6 199.6h0M1454.6 418.7h0M1455.9 131.4h0M1455.9 355.2h0M1457.7 119.4h0M1465.4 207.5h0M1452.6 240.3h0M1452.5 497.9h0M1460 463.6h0M1455.8 84.5h0M1452 135.3h0M1451.3 469.2h0M1454.3 238.7h0M1459.1 459.5h0M1455.6 405.4h0M1453.7 136.6h0M1468.2 424.4h0M1458.9 483h0M1455.2 322.4h0M1454 394.7h0M1457.7 348.4h0M1453.8 299.7h0M1449.5 213.5h0M1455.5 482.7h0M1451.7 108.3h0M1463.8 193.3h0M1451.4 422h0M1454.7 128h0M1454 289.2h0M1456 185.1h0M1452.4 453.8h0M1460.6 162.4h0M1454.4 476.5h0M1454.3 189.2h0M1462.5 459.3h0M1449.2 518.7h0M1457.7 132.3h0M1454.3 439.1h0M1453.7 320h0M1458.8 187.1h0M1460 415.2h0M1453.5 106.9h0M1459.7 138.2h0M1452.3 229.9h0M1452.4 322.8h0M1458.3 135.1h0M1452.8 631.7h0M1451.3 121h0M1455.6 230.8h0M1464.4 251.7h0M1457.9 147.3h0M1452.9 276.8h0M1458 362.3h0M1461.7 307.5h0M1455.7 476.2h0M1452.7 318.4h0M1460.3 392h0M1441.6 456.9h0M1458.3 468.1h0M1453 304.1h0M1450.6 131.2h0M1454.4 498.8h0M1459.5 324.5h0M1452.5 324.5h0M1454.4 421h0M1455.9 158.4h0M1452.4 276.5h0M1459.3 152.3h0M1441.3 162.4h0M1454.4 207.4h0M1449.6 232.6h0M1456 516.7h0M1450.6 434.8h0M1449.5 177.4h0M1454.6 142.1h0M1459.9 194.3h0M1451.6 133.2h0M1461.1 348.8h0M1454.2 277.8h0M1457.2 458.6h0M1457.3 359.1h0M1453.1 530.3h0M1453.7 534h0M1459.7 245.3h0M1462 441.6h0M1447.1 201.8h0M1461.4 147.3h0M1454.8 457h0M1449.9 274.9h0M1462.9 401.9h0M1455.9 258.4h0M1452.3 202h0M1460.3 465.5h0M1451.9 529.8h0M1461.4 196.5h0M1459.6 258.8h0M1453.1 128.3h0M1469.1 165.7h0M1455.7 149.7h0M1457.1 510.2h0M1458 440.3h0M1459.4 498h0M1460.2 540.8h0M1456.1 429.1h0M1455.9 210.6h0M1449.2 260.4h0M1460.3 322.5h0M1463.6 426.4h0M1451.5 512.8h0M1460.5 310.9h0M1453.8 512.5h0M1450.2 329.9h0M1450.4 462.8h0M1456.2 542.9h0M1458.7 202.1h0M1453 363.6h0M1447.9 238.8h0M1460.2 490.8h0M1449.8 144.2h0M1456.5 258.8h0M1453.3 392.9h0M1448.7 199.7h0M1458.1 276.9h0M1452.7 493h0M1458.4 524.9h0M1456.1 299.9h0M1453.7 299.5h0M1456.1 491.7h0M1452.7 101.5h0M1457.4 196.4h0M1451.5 317.4h0M1449.8 252.3h0M1453.8 155.8h0M1455.1 397.9h0M1459.9 426.9h0M1452.3 240.9h0M1452.4 329.4h0M1450.8 561.9h0M1457.6 369.4h0M1452.3 167.2h0M1462.1 242.4h0M1452.7 569.8h0M1462.8 284.4h0M1459.5 197.1h0M1464.3 425.1h0M1461.3 463.7h0M1459.8 131.8h0M1455.7 282.2h0M1454 327.7h0M1455.6 463.8h0M1459.9 172.5h0M1448.2 200.8h0M1460.4 138.6h0M1453.5 346.1h0M1458.8 244.4h0M1455.8 433.8h0M1455.7 494.8h0M1449.9 273.3h0M1449.7 227h0M1456.2 275.9h0M1452.8 201.2h0M1452.6 510.6h0M1451.1 497.8h0M1459.1 245.7h0M1455.5 438.9h0M1453.9 193h0M1459.5 343.8h0M1460.4 276.3h0M1459.2 447.8h0M1454.7 309.5h0M1457.5 430.1h0M1451.3 264.2h0M1460.5 262.2h0M1449.7 239.9h0M1452.9 413h0M1456.6 517.6h0M1455.9 177.8h0M1452.8 276.7h0M1462.8 274.1h0M1453 367.7h0M1454.8 292.7h0M1453.9 258.4h0M1446.1 171.1h0M1453.1 237.9h0M1451.7 412h0M1458.1 179.4h0M1452.8 222.5h0M1450.6 479.7h0M1451.6 338.2h0M1454.2 503.1h0M1456.4 493.8h0M1450.3 408.9h0M1453.3 335h0M1454.4 132.3h0M1461.5 232.6h0M1463.7 222.1h0M1453.8 394.7h0M1458.3 235h0M1453.9 97.9h0M1453.2 157.5h0M1453.2 131h0M1454 335.9h0M1455.4 269h0M1458.9 402.5h0M1456 283.2h0M1455.5 354.5h0M1458 146.5h0M1461.5 283.9h0M1446.8 383.7h0M1462 519.3h0M1459.8 404.2h0M1458.3 386.3h0M1454 314.3h0M1464.4 456.3h0M1456.7 169.1h0M1452.1 456h0M1448 321.9h0M1459.2 254.8h0M1453.5 571.9h0M1452.2 513.1h0M1452.4 291.7h0M1458.1 317.9h0M1455.2 375.3h0M1454.6 177.3h0M1449.3 466.7h0M1458.7 201.7h0M1454.9 200.5h0M1462.6 277.4h0M1454.2 384.7h0M1463.3 137.7h0M1459.3 89.3h0M1460.8 228.2h0M1447.6 351.6h0M1458.2 238.2h0M1454.6 310.2h0M1464.5 382.4h0M1455.5 357.5h0M1458.5 149.7h0M1464 349.6h0M1453.6 267.8h0M1451.8 202.7h0M1456.8 706.5h0M1456.7 460.5h0M1454.3 437h0M1453.9 567.4h0M1456 317.4h0M1443.9 357.8h0M1454.3 482.2h0M1460.1 219.1h0M1458.5 499.7h0M1457.1 236h0M1456 269h0M1450.8 519.9h0M1451.5 186.6h0M1453.7 343.6h0M1457.3 194.8h0M1451.2 471.8h0M1459.6 510.5h0M1458.7 285.6h0M1453.6 441.7h0M1461.6 242.8h0M1451.6 153.2h0M1454.8 324.5h0M1443.9 338h0M1459.6 459.5h0M1446.5 192.3h0M1453.7 564.8h0M1460.2 475.9h0M1461.5 333.8h0M1457.3 565.2h0M1456.5 84.5h0M1456.6 102.5h0M1460.7 410.2h0M1460.7 358.7h0M1454.5 382.4h0M1455.8 671.3h0M1457 141.1h0M1456.9 397.9h0M1459.4 247.3h0M1454.1 391.7h0M1456.3 326.1h0M1461.5 390h0M1454.3 422.2h0M1460.1 272.4h0M1445.6 458.9h0M1461.4 465.4h0M1456.4 501.1h0M1444.3 332.3h0M1454 276.8h0M1458.8 152.6h0M1460.3 359h0M1465.7 162h0M1470.3 198.8h0M1455.2 442.7h0M1457.2 506.1h0M1457.6 255h0M1453 354.4h0M1448.7 259.7h0M1456.4 498h0M1453.1 178.8h0M1459.1 196.7h0M1459 148.2h0M1454.8 410.9h0M1471.6 544.5h0M1454.2 239.6h0M1461.9 269.5h0M1460.7 108.4h0M1458 363.1h0M1454.1 160.4h0M1454.1 376.9h0M1448.6 610.4h0M1452.4 182.1h0M1456.4 488.9h0M1455.7 325.8h0M1457.6 151h0M1454.5 580.6h0M1448 215.6h0M1449 171.5h0M1447.1 310.8h0M1457.1 228.8h0M1463.7 376.2h0M1453.6 355.9h0M1450.2 270.4h0M1452.4 152.8h0M1452.4 632h0M1451.4 433.6h0M1457.3 219.3h0M1449 451.1h0M1450.4 116.3h0M1448.2 494.9h0M1449.9 548.2h0M1456.1 203.7h0M1463 158.4h0M1455.4 254.6h0M1457.7 459.2h0M1458 161.3h0M1454.7 503.4h0M1451.9 322.3h0M1455.6 293.8h0M1452 474.6h0M1457.1 399.1h0M1459 398.6h0M1464.5 296.8h0M1450.2 410.9h0M1456.2 319.8h0M1457 582h0M1454.4 306.6h0M1450.5 466.5h0M1463.7 192.1h0M1454.2 120.7h0M1458.6 318.4h0M1450.8 608.2h0M1452.3 297.8h0M1464.7 414.3h0M1452.3 564.9h0M1455.5 439.4h0M1457.1 365.8h0M1455.6 270.8h0M1440.2 140.8h0M1458.5 391.7h0M1451.9 577.9h0M1474.5 447.5h0M1443.7 436.5h0M1454.7 534.6h0M1458.4 459.5h0M1457.4 156.8h0M1455.1 416.9h0M1455 463.8h0M1461 197.7h0M1457.4 269h0M1462.6 525.4h0M1457.7 248.3h0M1458.8 336.4h0M1457.6 441.7h0M1453.2 461.6h0M1461.3 100.5h0M1455.5 413.5h0M1452.8 275.1h0M1461.9 186.2h0M1449.5 351.7h0M1457.3 338.7h0M1454.1 327.4h0M1451.1 499.1h0M1463.2 395.2h0M1460.5 239.6h0M1452.7 463h0M1457 459.7h0M1450.6 235.8h0M1455.1 259.3h0M1457.3 169.1h0M1456 179.3h0M1453 469.6h0M1455.5 130.7h0M1461.5 209.1h0M1443.8 459.3h0M1439.2 230h0M1457.1 511.5h0M1461.9 452.3h0M1460.5 376.3h0M1454.6 266h0M1454.9 310.9h0M1458.9 248.1h0M1449.4 344.5h0M1455.8 561.9h0M1458 450.2h0M1461.3 181.2h0M1456.2 324.2h0M1462.4 483.6h0M1457 306.2h0M1453.1 358.5h0M1458.8 170.8h0M1457.8 544.4h0M1455.1 381.8h0M1458.1 419.4h0M1459.5 515.3h0M1458.9 502.2h0M1452.3 530.6h0M1454 280.3h0M1453.9 345.8h0M1459.4 164.9h0M1457.9 391.7h0M1455.4 234.2h0M1449.9 310.3h0M1456.5 162.4h0M1450 584.4h0M1455.7 264.6h0M1457.8 197.1h0M1459.9 252.1h0M1458.5 467.7h0M1449.5 278.9h0M1452.5 157.1h0M1454.1 169.3h0M1458.2 465.7h0M1457.7 56.7h0M1456 329.8h0M1452.3 411.2h0M1452.3 92.6h0M1447.7 261.2h0M1462.3 319.1h0M1452.9 474.9h0M1466.9 133.3h0M1456.7 249.6h0M1461.6 298.7h0M1452.7 304.9h0M1457.5 356.2h0M1436.7 131.1h0M1461.8 368.8h0M1461.1 248.2h0M1461.2 220.9h0M1455.4 411h0M1456.1 171.6h0M1453.8 482.2h0M1450.7 513.5h0M1448.9 623.8h0M1461.9 421.1h0M1460.2 214.2h0M1453.7 469h0M1462.7 127.3h0M1463.9 231.9h0M1469.3 370.5h0M1455.1 153.2h0M1455.2 432.1h0M1457.1 175.3h0M1459.8 374.1h0M1457.1 241.1h0M1452.7 191.1h0M1455.4 470.8h0M1450.3 257.4h0M1446.7 334.3h0M1451.9 432.2h0M1462.4 339.2h0M1458.4 316.9h0M1464.7 52.2h0M1454 295.9h0M1454.9 501.2h0M1458.5 116.8h0M1453.7 497.4h0M1457.7 328.4h0M1459.7 294.1h0M1456.2 628.6h0M1449 258.7h0M1448.4 476.4h0M1456.7 366.5h0M1458.9 446.7h0M1453.8 426.8h0M1454.7 170h0M1453.7 426h0M1452.5 211.9h0M1453.4 299h0M1461 393.7h0M1459.8 430.2h0M1458.9 457.4h0M1448.6 176.9h0M1457.2 134.7h0M1460.9 343.8h0M1452.4 167.1h0M1455.9 513.4h0M1448.9 184.5h0M1450 133.5h0M1457.6 217.4h0M1460.8 495.7h0M1452.2 532.5h0M1457.4 559.3h0M1454 295.1h0M1452.2 250.3h0M1452.9 491h0M1454.4 444.5h0M1452.5 163.7h0M1465.3 465.6h0M1449.6 394.5h0M1455.2 163.2h0M1453.8 142.1h0M1448.6 187.7h0M1465.6 235.7h0M1450.8 561.2h0M1467.6 397h0M1455.7 579.8h0M1458.4 495.1h0M1462.5 336.9h0M1455.5 376.1h0M1457.7 139.5h0M1457.1 373.2h0" stroke="#00f" stroke-width="5.0" stroke-linecap="round" stroke-opacity="0.55" fill="none"/><path d="M1452.4 531.4h0M1456.8 462.8h0M1452.3 305.7h0M1455.1 534.9h0M1456.3 324.9h0M1461 535.1h0M1458.3 470.1h0M1451.4 506.4h0M1456.8 374.9h0M1455.8 292.3h0M1459.4 232.5h0M1450.7 100.6h0M1454.3 406.9h0M1453.1 102.7h0M1457.8 479.6h0M1460.8 209.3h0M1453.9 149.7h0M1463.3 200.9h0M1452.8 190.6h0M1455.2 466h0M1456.8 320h0M1454.7 470.6h0M1457.8 226.4h0M1447.1 526.3h0M1458.5 153.3h0M1454.6 210h0M1459 183.5h0M1454.6 392.6h0M1456.5 400.4h0M1460 340.7h0M1457 444.4h0M1464.4 371.1h0M1455.4 378.6h0M1459.1 211.9h0M1449.2 387.5h0M1460.3 302.9h0M1463.9 166.1h0M1452.5 232.7h0M1459.5 355.4h0M1448.2 436.1h0M1448.7 358.5h0M1457.2 548.9h0M1454.7 508.4h0M1455.4 274.9h0M1462.9 357.9h0M1461.6 168.9h0M1455.5 244h0M1456.5 344.6h0M1451.5 58.2h0M1447.8 175.9h0M1466.3 197.3h0M1458.6 187.1h0M1454.8 125.4h0M1460.9 136.9h0M1457.3 243.9h0M1454.6 327.6h0M1449.8 426h0M1456.9 295.3h0M1452.5 150h0M1452 323.2h0M1450 157.6h0M1450.9 377.7h0M1453.1 295.3h0M1458.2 249.9h0M1450.6 116.2h0M1449.4 268.8h0M1456.4 94.1h0M1455.1 135.9h0M1454.4 473.8h0M1462.2 439h0M1454.6 228.6h0M1452.4 260.6h0M1454.9 478.6h0M1454.6 514.5h0M1458.1 202h0M1453.7 277.3h0M1456.6 579.1h0M1465.1 409.6h0M1450.9 450.2h0M1457.4 133.3h0M1457.4 182.1h0M1449.4 567.1h0M1452.7 411.3h0M1455.2 508.7h0M1453.5 299.8h0M1454.4 208.7h0M1458.1 183.7h0M1466.6 357.8h0M1449.9 497.1h0M1460.3 310.7h0M1452.1 499.5h0M1459.4 333.7h0M1452.7 306h0M1448.8 241h0M1456.2 140h0M1461.6 478.3h0M1452.9 324.6h0M1460 301.5h0M1458 187.9h0M1460.5 152.6h0M1456.4 270.2h0M1458.5 413.3h0M1458.1 192h0M1451.2 369.2h0M1450.5 543.4h0M1450.8 352.3h0M1456.1 394.9h0M1458.5 205.1h0M1449.2 252.7h0M1453.8 404.4h0M1460.6 490.1h0M1452.6 271.9h0M1459.5 396.7h0M1459.2 129.1h0M1454.9 487.5h0M1453.8 412.8h0M1459 231.7h0M1460.9 508.8h0M1457.2 527.9h0M1453.8 165.7h0M1456.8 263.1h0M1460.1 210.4h0M1462.2 286.5h0M1459.8 484.6h0M1453.3 149.3h0M1451.5 281.8h0M1463.1 371.2h0M1449.9 447h0M1454.7 370.9h0M1459.6 177.8h0M1453.4 373h0M1451.6 236.9h0M1454.2 446.7h0M1458.6 390h0M1449.1 381.3h0M1463.1 152.4h0M1450.9 251.7h0M1456.6 290.9h0M1459.8 265.2h0M1463.9 128.9h0M1454 354.5h0M1451.1 428.5h0M1457.5 322.7h0M1456.8 213.5h0M1451.7 464.5h0M1455.1 167.5h0M1456 208.7h0M1453.5 100.2h0M1453.5 368.6h0M1456.3 199.1h0M1465.8 265.2h0M1454.3 470.1h0M1453.5 425.3h0M1452.4 352.6h0M1452.3 327.2h0M1457.2 452.8h0M1452.8 292h0M1455.6 260.5h0M1461 170.8h0M1455.3 611.1h0M1460.5 155.9h0M1454 159.4h0M1455 546.9h0M1447.7 355.6h0M1465.4 228.9h0M1457 136.8h0M1447.4 213.9h0M1460 454.3h0M1458.9 262.4h0M1449.8 319h0M1460.7 108.2h0M1452.9 402.9h0M1457.3 458.9h0M1451.5 240.9h0M1469.3 261.5h0M1461.7 252.5h0M1463.4 457.9h0M1449.4 270.1h0M1462 398.7h0M1460.4 535h0M1454.5 445.8h0M1447.5 613.1h0M1462.2 199.6h0M1461.2 159h0M1451.2 612.3h0M1454.3 442.6h0M1457.7 268.5h0M1452.4 106.2h0M1455.6 226.7h0M1458.9 240.6h0M1451.1 440.5h0M1454.3 459.3h0M1453.1 234.5h0M1455.6 376.7h0M1450.3 292.2h0M1461.9 414h0M1457 191.5h0M1451 334.7h0M1459 209.2h0M1457.6 305.1h0M1466.3 452.9h0M1451.3 347.3h0M1459.4 136.5h0M1458.1 134.2h0M1445.3 479.2h0M1456.3 463.6h0M1454.1 461.8h0M1453.2 373.8h0M1455.6 491.3h0M1446.7 189.4h0M1455.2 240.5h0M1452 237.9h0M1456.7 366.3h0M1457 168.6h0M1457.3 393h0M1452.9 523.8h0M1452.4 164.4h0M1460.7 305.8h0M1462.6 434.6h0M1454.6 361.6h0M1456.6 139.1h0M1447.2 145.5h0M1466.9 130.1h0M1463.1 175.5h0M1455.2 424.2h0M1455.1 420.5h0M1457.7 554.4h0M1466.1 447.7h0M1459.2 191.6h0M1453.4 387.2h0M1460.5 267.4h0M1462.4 443.7h0M1462.7 328.9h0M1453.8 392.8h0M1459.9 292.9h0M1455.8 223.5h0M1457.8 399.1h0M1458.4 432.1h0M1450.5 385.7h0M1459.1 157.5h0M1451.6 296.6h0M1460.6 272h0M1460.9 395.6h0M1453.1 434.4h0M1455.8 453.4h0M1448.5 438.3h0M1456.7 213.6h0M1461.5 205.2h0M1449.9 352.3h0M1456.4 496h0M1464.6 385.9h0M1458.1 171.1h0M1454.8 246.3h0M1458.8 101.8h0M1456.2 250h0M1457.5 337.9h0M1449.1 516.7h0M1454 440.5h0M1454.9 167.7h0M1461.6 84h0M1458.7 224.2h0M1449.8 381.5h0M1453.4 129.9h0M1459.4 517.6h0M1460.4 140.2h0M1462.7 139.9h0M1455.7 197.6h0M1453.4 505.3h0M1469.2 183.8h0M1453.4 224.3h0M1458.7 271.8h0M1457.6 285.2h0M1458 250.6h0M1460.2 205.1h0M1457.3 517.6h0M1457.3 284.3h0M1459.3 257.2h0M1453.2 202.6h0M1456.2 96.9h0M1454.7 208.3h0M1460.4 511.5h0M1451.8 255.7h0M1455.6 254.2h0M1459.5 330.9h0M1456.1 219.6h0M1448.3 404.2h0M1455.7 514.1h0M1454.1 384.9h0M1463.6 222.3h0M1452 523.4h0M1454.3 357.8h0M1454.9 101.1h0M1457.9 271.9h0M1453.7 508.3h0M1450.6 253.2h0M1464.6 423h0M1457.6 338.4h0M1455.8 165.3h0M1451.1 491.7h0M1456.5 195.9h0M1454.4 396.9h0M1449.8 460.8h0M1457.7 297.8h0M1457.3 146.2h0M1462.7 185.7h0M1453.7 537.7h0M1456.8 526.6h0M1454.6 209.6h0M1459.8 288.9h0M1460.6 388.8h0M1465 592.1h0M1454.5 353.4h0M1460.5 184.6h0M1461.4 283.7h0M1457.7 133.3h0M1457 274.3h0M1454.9 153.9h0M1456.2 257.8h0M1456.1 189.8h0M1452.2 239.8h0M1454.5 526.7h0M1454.8 67.9h0M1459.9 483.9h0M1450.4 454.2h0M1454.8 418.5h0M1449.7 198.5h0M1452.8 482h0M1457.3 222.3h0M1461.2 184.7h0M1452.3 347.2h0M1453.3 364.5h0M1458.2 168.5h0M1454.6 407.2h0M1461.7 146.3h0M1453.7 593.4h0M1456.1 480.5h0M1453.3 191.5h0M1457.6 341.9h0M1462.7 223.3h0M1467.8 238.7h0M1451.3 531.5h0M1448.2 514.1h0M1438.8 357.8h0M1457.6 356.2h0M1463.4 396.5h0M1457.3 482.6h0M1454.4 501.3h0M1456.1 434.1h0M1456.5 337h0M1452.9 195.4h0M1463.7 282.6h0M1456.7 123.1h0M1454.6 377.1h0M1453.3 461.2h0M1460.7 142.5h0M1455.4 161.3h0M1450.7 205h0M1457.9 380.5h0M1454.8 94.1h0M1455.6 437.4h0M1452.4 219.1h0M1455.1 156.2h0M1451.1 520.9h0M1458.2 168.2h0M1456.8 507.5h0M1453.8 409.1h0M1461.7 131.8h0M1461.5 168.1h0M1457.2 247.6h0M1454.3 284.7h0M1451.1 246.2h0M1450.9 102.2h0M1447.8 465.8h0M1451.5 399.3h0M1456.5 499.6h0M1458.2 218.7h0M1465.9 418.2h0M1469.6 332.5h0M1454.4 401.5h0M1460 353.7h0M1462.4 375.3h0M1457.5 138.9h0M1451.5 326.5h0M1453.5 156.8h0M1460.4 450.9h0M1458.5 286.9h0M1456.5 282.7h0M1455.8 277.7h0M1460.6 133.7h0M1465.4 242.7h0M1455.5 470.4h0M1452.2 305.8h0M1452.5 418.6h0M1457 334.3h0M1455.9 502.9h0M1460.8 382.7h0M1461.2 320.5h0M1449.6 244.1h0M1453.5 233h0M1450.5 220.9h0M1454.8 316.6h0M1453 194.5h0M1452.2 304h0M1455.8 484.3h0M1457.6 239.5h0M1452.4 362.4h0M1458.5 190.1h0M1456.8 157.3h0M1462.1 327.9h0M1451.7 107.4h0M1447.7 323.3h0M1451.5 500.9h0M1459.5 398.7h0M1454.6 293.4h0M1451 162.9h0M1459.3 198h0M1452.9 569.9h0M1454.3 403.7h0M1451.9 325.4h0M1460.9 332.4h0M1452 237.3h0M1454.4 445.1h0M1455.4 217.3h0M1456.4 364.4h0M1453.3 454.1h0M1456.8 478.1h0M1447.2 103.3h0M1458 373.4h0M1461.9 360.1h0M1455.2 457.8h0M1457.9 520.4h0M1454.5 326.2h0M1454.8 246h0M1460.3 341.1h0M1459 300.5h0M1458.8 351h0M1455.3 159.3h0M1464.8 100.3h0M1458.9 439.7h0M1454.2 329.3h0M1460.3 378.3h0M1453.9 168h0M1451.4 484.1h0M1454.8 215.7h0M1454.6 405.6h0M1467.3 200h0M1450.1 474.5h0M1452 524.6h0M1454.3 153.4h0M1455.5 210.6h0M1453.7 460.2h0M1450.2 440.9h0M1455.4 224.9h0M1455.2 172.8h0M1456.8 209.2h0M1463.5 167.6h0M1459.6 220.7h0M1458.6 464.9h0M1458.2 322.8h0M1454.5 562.6h0M1452.8 561.2h0M1452.8 342.9h0M1444.4 275.6h0M1455.5 356.2h0M1453 130.3h0M1454.5 550.3h0M1460.3 76.3h0M1453.2 399.9h0M1455.2 291.2h0M1462.4 366.7h0M1448.9 330h0M1449.2 509h0M1461.6 348.9h0M1457.7 110.2h0M1459.9 135.7h0M1458.7 302.9h0M1455.7 492.9h0M1453.5 479.2h0M1455.3 125.9h0M1450.7 191h0M1451.3 250.2h0M1457.1 433.6h0M1452 440h0M1455.4 317.3h0M1447.3 250.7h0M1453.6 407.3h0M1454.8 433.8h0M1454.6 295.8h0M1459.4 348.8h0M1456.2 450.7h0M1458 408.8h0M1460.1 453.5h0M1458.4 294.6h0M1455.4 85.7h0M1450.7 177.7h0M1462.5 453h0M1456 403.7h0M1450.9 240.3h0M1454.9 278.5h0M1448.7 398.1h0M1456.4 429.9h0M1455.3 251.6h0M1449.4 211.5h0M1454.2 192.7h0M1456.7 436.6h0M1458.7 480.5h0M1458 265.1h0M1462 395h0M1453.1 383.6h0M1454.7 609.8h0M1463.8 348.9h0M1454 132.8h0M1452.3 402.3h0M1456.8 196.8h0M1462.7 271.7h0M1459 416h0M1459.6 239.7h0M1447.9 574.8h0M1457.8 525.4h0M1456.9 175.4h0M1452.5 350.4h0M1454.1 243.1h0M1454.8 211.9h0M1458.7 334.9h0M1458.4 486.4h0M1451.7 469.1h0M1463.8 114.9h0M1450.2 101.8h0M1455.2 490.1h0M1463.1 440.4h0M1455.7 174.6h0" stroke="#00f" stroke-width="5.0" stroke-linecap="round" stroke-opacity="0.55" fill="none"/><path d="M687.8 1140h0M224.2 1183.6h0M349.7 1289.7h0M602.9 1186.7h0M277 1477.6h0M695.8 1106.3h0M715.9 1110.1h0M598.1 1232.5h0M717.5 1089.9h0M462.2 1268h0M698.7 1172.5h0M644.1 1135.5h0M696.1 1033.5h0M700.3 1074.9h0M709.9 1076.5h0M490 1261.2h0M480.1 1370.2h0M383 1416h0M602 1255.6h0M552.3 1296.1h0M584.6 1211.9h0M600.5 1205.4h0M648.2 1196.8h0M303.8 1255.1h0M642.6 1152.4h0M312.4 1334.3h0M596 1258.3h0M612.6 1163h0M575.9 1175.7h0M502.8 1138.5h0M599.1 1178.1h0M689.7 1106.2h0M280.1 1249h0M514 1281.7h0M143.5 1214.1h0M336.7 1269.5h0M717 1077.8h0M647.9 1216.3h0M571.9 1135.8h0M224.7 1278.3h0M708.8 1147.9h0M587.4 1228.9h0M633.6 1109.4h0M733 1004.4h0M703.5 1167.2h0M660.3 1100.8h0M643.5 1124.7h0M638 1098.7h0M682.1 1094.3h0M684.6 1159.6h0M668.6 1184.8h0M302.3 1404.6h0M672.5 1125.3h0M266.7 1263.9h0M319.1 1217.3h0M338.4 1416.7h0M747.5 1046.3h0M594.7 1263.1h0M723.7 1033.3h0M207.2 1349h0M174.1 1171.4h0M208.6 1406.7h0M691.4 1114.3h0M643.3 1201.3h0M721.6 1143.8h0M184 1230.7h0M393.8 1361.6h0M589.7 1288.4h0M657 1134.2h0M626.4 1147.9h0M176.1 1418.9h0M460.3 1271.3h0M646.4 1142.9h0M744.2 1104.4h0M690.8 1099.5h0M594.6 1248.9h0M607.3 1231.3h0M389.7 1194.9h0M570.1 1225.5h0M171.7 1518.2h0M646.4 1191.7h0M207.6 1385.3h0M240.4 1365.8h0M687.7 1019.6h0M302.6 1463.3h0M364.3 1312.3h0M306.8 1283.5h0M302.2 1442.7h0M625 1197.6h0M612.1 1108.1h0M232.2 1159.8h0M661.6 1149.8h0M692 1164.8h0M721.6 1027.7h0M254.9 1243.7h0M283 1465.5h0M280.5 1330.9h0M608.9 1163.4h0M702.5 1099.6h0M544.1 1293.3h0M559.3 1166h0M586.1 1150.9h0M494.5 1156.7h0M667.9 1162.3h0M663.4 1184.6h0M579.8 1258.1h0M673.7 1074.8h0M669.1 1156.2h0M700.3 1172.9h0M704.9 1133.6h0M725.1 1138.7h0M521.5 1238.6h0M172.5 1485.9h0M492.3 1334h0M435.2 1128.4h0M527.8 1227.3h0M424.7 1409.6h0M570 1314.5h0M381.5 1321.5h0M735.2 1106.6h0M740.9 1090.6h0M516.3 1259.5h0M674 1101h0M279.3 1363.3h0M442.7 1217.8h0M707.7 1059.3h0M622.9 1159.9h0M288 1316.7h0M500.5 1267.4h0M650.5 1216.8h0M430.4 1284.2h0M681.8 1130.8h0M748.5 1053.9h0M620.6 1204.9h0M402.1 1132.3h0M563.2 1199.4h0M334.9 1175.3h0M188.4 1166h0M260.4 1152.1h0M547.6 1315.6h0M649 1154h0M690.9 1156.5h0M530.2 1231.1h0M650.7 1156.1h0M193 1258.2h0M629.8 1180h0M628 1225.8h0M406.8 1279.2h0M658.4 1182.9h0M156.7 1213.7h0M396.2 1164.9h0M373.6 1167.2h0M704.1 1173.7h0M752.1 1003.7h0M591.8 1247.3h0M684.2 1121.3h0M679.7 1123.1h0M722 1148.2h0M765.6 1022h0M547.2 1223h0M745.6 1053.5h0M582 1273.5h0M730.5 1132.6h0M584 1268.5h0M662.6 1186.6h0M686.3 1166.3h0M673.9 1186.7h0M239.3 1401.1h0M546.1 1267.9h0M439.7 1214.4h0M303.4 1415.8h0M719.8 1100.4h0M705.3 1143.7h0M596.4 1178.2h0M581.7 1220.2h0M609.5 1145.7h0M549.9 1234.1h0M427.9 1146.1h0M409.9 1254.9h0M406.9 1283.3h0M484.3 1204.1h0M449 1141.7h0M413.8 1196.9h0M663.7 1113.1h0M422.7 1171h0M611.9 1188.9h0M569.7 1246.8h0M259.6 1213.7h0M343.3 1276.8h0M746.3 1086.7h0M202.5 1320.2h0M694.6 1183.1h0M368.8 1319.1h0M141.6 1179.5h0M722 1109h0M550.4 1300.7h0M617.7 1174.8h0M655 1148.3h0M451.2 1214.9h0M447.3 1141.1h0M270.1 1384h0M678.6 1203h0M720.2 1134.9h0M496.2 1365.3h0M435.1 1255.6h0M370.6 1273.8h0M583.2 1236.7h0M653.1 1144.7h0M577.7 1125.1h0M390.4 1240.2h0M506.3 1136h0M539.6 1289.8h0M728.2 1129.1h0M250.9 1248.9h0M653.7 1188.2h0M457.9 1357.9h0M657.2 1162.4h0M688.1 1146.7h0M144.6 1531.7h0M468.4 1293.2h0M711.3 1050.7h0M489.6 1351.2h0M532 1314.4h0M727.3 1058.5h0M719.9 1084.6h0M315.5 1261h0M331.8 1210h0M566.5 1119.6h0M625.6 1102.1h0M655 1071.5h0M601.4 1191.1h0M664.9 1184.9h0M628.6 1143.5h0M701.9 1179.8h0M453.5 1260.6h0M483.2 1268.7h0M597.9 1154.8h0M667.5 1070.9h0M433.1 1301.5h0M506.6 1244.2h0M391.4 1403.8h0M206.6 1167.8h0M539.8 1289.2h0M458.7 1333.1h0M730.3 1085.3h0M706.7 1065.2h0M694.6 1033.6h0M752.9 993.7h0M632.6 1151h0M621 1168h0M301.8 1262h0M707.1 1021.8h0M268.6 1249.7h0M437 1266.6h0M193.2 1297.8h0M705 1103.7h0M303.2 1383.3h0M499.5 1279.3h0M575.5 1191.1h0M667.5 1060h0M503.4 1237.3h0M313.9 1143.8h0M464 1254.9h0M666.9 1208.2h0M254 1367.9h0M569.6 1282.6h0M639.5 1213.5h0M566.3 1144.8h0M358.1 1206.6h0M449.1 1351.5h0M469.3 1319.3h0M690 1144.5h0M496.8 1201.4h0M595.2 1186.6h0M257.2 1376.8h0M294.7 1343.7h0M643.1 1204.4h0M674.2 1131.4h0M520.6 1240.9h0M730.9 1106.2h0M488.1 1258.4h0M523 1246.8h0M585.5 1262.5h0M455.5 1363.6h0M733.6 991.9h0M764.3 999.8h0M609.8 1222.9h0M556.8 1245.8h0M743.9 996.6h0M361.5 1350.3h0M591.1 1223h0M232.6 1168.2h0M722.4 1149.9h0M604.2 1125.9h0M559.4 1172.4h0M571.5 1271.5h0M431 1192.7h0M690.3 1142.1h0M286.4 1362.3h0M610.9 1236.6h0M329.4 1326.6h0M669.3 1106.4h0M367.5 1141.3h0M675.1 1051.2h0M514.2 1224.8h0M564 1149.1h0M527.2 1261h0M703 1177.1h0M715.9 1140h0M414.2 1337.2h0M746.1 1085.2h0M615.1 1104.6h0M613.7 1184.6h0M624.1 1185.2h0M680.8 1100.7h0M164.6 1302h0M653.8 1121.8h0M318.3 1235.2h0M645.8 1165.4h0M369.7 1302.2h0M597.7 1227.7h0M447.4 1143.8h0M602.5 1198.4h0" stroke="#00f" stroke-width="5.0" stroke-linecap="round" stroke-opacity="0.5" fill="none"/><path d="M611.8 1230.1h0M618.4 1221.9h0M588.4 1123.6h0M466.1 1163.6h0M407.9 1303.3h0M566.5 1253.7h0M556.5 1229.9h0M664.2 1200.6h0M729.2 999.4h0M656.6 1125.7h0M136.8 1305.9h0M355.3 1309.2h0M522.8 1222h0M649.3 1169.3h0M637.9 1221.6h0M759.4 988.2h0M328.4 1329.4h0M310.1 1447.5h0M539.9 1135.5h0M483.9 1378.9h0M637.7 1121.7h0M471.5 1336.8h0M376.9 1346.4h0M724.4 1096.8h0M438.4 1292.8h0M365.2 1296.3h0M288.4 1334.9h0M560.9 1236.7h0M509 1300.3h0M481.4 1264.5h0M522.2 1269.1h0M426.7 1293.8h0M174.7 1172.5h0M482.6 1258.3h0M524.4 1215h0M646.6 1178.6h0M144.1 1404.2h0M499.3 1275.6h0M160.9 1265.4h0M667 1104.5h0M455.8 1383.4h0M577 1301.6h0M607.4 1253.2h0M530.4 1346.3h0M724.7 1067.2h0M618.1 1206.6h0M458.6 1264.2h0M179.7 1200.6h0M375.5 1302.6h0M595.3 1194.9h0M621.9 1159.2h0M405.2 1271.8h0M542.1 1332.6h0M586.9 1262.6h0M394.4 1190h0M389.4 1306.3h0M714.2 1108.3h0M723.1 1113.4h0M715.6 1161.6h0M610.3 1127.6h0M755.6 1041.1h0M679.7 1058.1h0M245.2 1334.6h0M535.4 1171.4h0M542.8 1122.7h0M429.2 1277.1h0M686.2 1118h0M240 1441.3h0M392 1288.4h0M404.8 1297h0M566.7 1177.2h0M293.5 1352.7h0M668.7 1175.6h0M232.4 1333.4h0M527.8 1224.7h0M553.5 1199.7h0M761.9 1010.1h0M488 1259.7h0M613.8 1138.8h0M706.1 1114.6h0M678.4 1140.4h0M581.9 1208.7h0M616.5 1159.1h0M320.8 1322.5h0M564.5 1243.9h0M666.1 1183.2h0M602.1 1256.6h0M345.2 1257.3h0M636 1143.4h0M612.3 1222.1h0M363.6 1176.4h0M743.9 1014.5h0M732.6 1080.7h0M176.8 1380.9h0M443.5 1269.8h0M446.9 1252.7h0M496.8 1248.8h0M216.8 1242.2h0M424.6 1173.1h0M591.7 1282.3h0M576.2 1299h0M401.4 1394.9h0M586.3 1263.8h0M743.1 1078.2h0M331.1 1317.7h0M534.5 1226.9h0M740.2 1066.2h0M524.7 1264.2h0M353 1350.8h0M666.3 1149.3h0M516 1178.3h0M497.5 1206.8h0M385.8 1354.1h0M737.1 999.7h0M742.5 1087.2h0M603.2 1172h0M623 1238.2h0M658.7 1129.3h0M269.1 1360.4h0M276 1333h0M370.2 1419h0M582.8 1178.7h0M629.3 1112.1h0M709.1 1079.7h0M372.8 1369.4h0M345.5 1289.3h0M499.2 1328.4h0M441.1 1279.9h0M550.6 1177.1h0M418.8 1303.2h0M549.5 1171.8h0M551.5 1173.7h0M696.1 1138.5h0M239.7 1392.7h0M671.5 1078.6h0M702.1 1160.2h0M621.9 1135.6h0M545.1 1156.5h0M510.1 1264.9h0M702.7 1149.6h0M623.7 1199.9h0M707.4 1041.9h0M207.3 1394.4h0M159.8 1195.7h0M542.6 1158.5h0M197.3 1519h0M358.4 1341.9h0M586.2 1267.9h0M576 1276.1h0M559.5 1196.8h0M645.1 1190.2h0M486.2 1277.8h0M276.7 1355.9h0M614.8 1143.8h0M434.2 1334.8h0M579 1220.1h0M352.4 1346.2h0M658.2 1167.1h0M476.6 1133h0M662.9 1108.7h0M411.5 1280.8h0M729.5 1129.7h0M568.6 1274.1h0M133.7 1190.2h0M557.2 1140.9h0M536.1 1349.7h0M743.9 1073.4h0M271.3 1417.1h0M633.4 1159.7h0M348 1405h0M688.6 1174.6h0M702.9 1137.6h0M748.7 1034.3h0M683.7 1196.4h0M127.1 1187h0M240.1 1274.9h0M527.5 1134.9h0M492.5 1379h0M143.6 1435.3h0M680.5 1145.6h0M444.7 1311.3h0M305 1227.8h0M766.3 973.2h0M641.7 1071.2h0M648 1126h0M633.1 1178.6h0M576.5 1117.9h0M721.3 998.4h0M123.8 1246.6h0M663.9 1056.2h0M270.3 1365.4h0M431.3 1307.1h0M528.9 1264.2h0M698.6 1125.9h0M479.6 1333.5h0M368.8 1281.8h0M419.4 1331.2h0M537 1238.2h0M719 1096.8h0M661.4 1189.6h0M731.8 1099.4h0M738.8 1090.5h0M286.5 1331h0M312.3 1212.1h0M207.2 1339.6h0M713.7 1148.8h0M366.1 1370.8h0M664.5 1096.8h0M613 1239.7h0M570.9 1188.9h0M407.2 1323.9h0M716.9 1126.8h0M608.5 1175.9h0M691.6 1022.2h0M395.5 1346.7h0M575 1140.6h0M726.1 1058.8h0M314.9 1312.1h0M638.6 1208.8h0M449.8 1265.4h0M737.4 997.6h0M679.5 1171.9h0M392.2 1299h0M590.3 1252.3h0M214.8 1201.5h0M759.9 1018.3h0M702.4 1104.2h0M715.8 1064.3h0M515.5 1168.1h0M468.6 1148.9h0M683.8 1170.3h0M464.3 1256.4h0M602.3 1226.1h0M538 1281.7h0M324.3 1376.9h0M323.6 1347.8h0M553.8 1133.3h0M684.2 1142.2h0M393.8 1286.5h0M318.4 1293.6h0M616.7 1238.9h0M657.3 1174.3h0M289.4 1160.3h0M607.3 1213.7h0M512.2 1131.5h0M504.5 1196.6h0M598.6 1208.8h0M697.5 1116.1h0M610.3 1249.9h0M546.2 1200h0M670.3 1060.4h0M462.5 1231.9h0M605.2 1144.7h0M425.2 1186.5h0M270.9 1435h0M603.7 1252.4h0M572.1 1300.7h0M138.5 1175.5h0M271.9 1356.6h0M671.5 1049.7h0M514.2 1242.9h0M624.2 1180.9h0M482.7 1186.4h0M600.4 1162.6h0M235.5 1252.8h0M577.2 1307.5h0M678.8 1121.3h0M607.8 1191.8h0M649.5 1107.6h0M426.7 1274.4h0M494.3 1202.7h0M695.9 1101.1h0M225.5 1261.2h0M604.3 1251.6h0M715.2 1156h0M540 1194.3h0M421.6 1131.8h0M761.2 1018.4h0M669.9 1165.2h0M667.3 1168.9h0M614.1 1145.5h0M761.4 1010.4h0M461.3 1164.6h0M630.1 1158.3h0M626.6 1163.9h0M171.2 1232.9h0M683.3 1171.9h0M742.1 1085.4h0M497.2 1207.3h0M277.9 1228.5h0M453.2 1132h0M769.8 993.3h0M682.2 1201.9h0M612.9 1205.8h0M592.4 1248.3h0M355.5 1350.5h0M476.3 1263.4h0M549.6 1221.7h0M567.4 1241.6h0M468.1 1172.5h0M676.1 1165.6h0M735.4 996.9h0M581.6 1262h0M351.5 1294.9h0M667 1116.5h0M608.6 1118.6h0M742.5 993.5h0M223 1271.4h0M664.3 1181.5h0M157 1190.3h0M340.3 1344.7h0M715.7 1057.8h0M708.1 1168.5h0M552 1331.8h0M682.5 1115.2h0M637.3 1219.7h0M583.4 1203.1h0M537.1 1291.8h0M746.2 1066.5h0M332.1 1346.1h0M647.9 1102.4h0M618.7 1212h0M439.9 1253.4h0" stroke="#00f" stroke-width="5.0" stroke-linecap="round" stroke-opacity="0.5" fill="none"/><path d="M604.3 1264.7h0M647.6 1130.7h0M738.2 1057.2h0M721.7 1023.9h0M207.5 1428.9h0M652.6 1061.3h0M429.6 1238.7h0M176.5 1340h0M468.1 1291.4h0M336.2 1416.8h0M400.3 1150.2h0M693.4 1105.6h0M457.5 1135.1h0M171.4 1250.6h0M302.5 1339.8h0M733.7 1058.9h0M284.6 1332.2h0M162.9 1287.2h0M149.2 1323.7h0M475.7 1268.3h0M513.6 1240.4h0M696 1018h0M372.4 1274.8h0M622.8 1145.4h0M711.6 1114.5h0M466 1338.2h0M626.2 1227.9h0M573.4 1262.8h0M593.6 1280.8h0M752.1 1028h0M738.9 1100.6h0M496.6 1253.1h0M672.2 1054.8h0M592.4 1242.3h0M628.4 1180.8h0M379.8 1345h0M660.5 1154.3h0M694.2 1098.4h0M684 1155.8h0M144.6 1524h0M428 1285.5h0M684.9 1173.4h0M198.8 1508.4h0M296.8 1221.3h0M619 1214.1h0M645.1 1135.9h0M735.7 1091h0M386.1 1321h0M422.3 1317.4h0M159.3 1219.8h0M561.9 1197.1h0M144.6 1500h0M632.4 1097.8h0M211.4 1291.3h0M560.2 1210.6h0M302.8 1423.9h0M532.7 1336.5h0M522.9 1296.9h0M326.5 1309.5h0M256.8 1218.7h0M238.8 1421.1h0M695.6 1139.5h0M327.4 1210.7h0M595.4 1161.5h0M497.6 1289.4h0M600.5 1252h0M661.6 1187.3h0M624.7 1146.8h0M487 1177.7h0M552.6 1120.1h0M679.3 1131.8h0M712.8 1049h0M368 1239.5h0M588.1 1249.1h0M384.3 1322.8h0M694.8 1114.7h0M244.7 1252.6h0M516.3 1129.8h0M690 1099.2h0M472 1214.9h0M520.5 1180.3h0M463.8 1270.3h0M228.3 1193.8h0M428.4 1303.4h0M441 1159.6h0M540.9 1259.4h0M653 1211.3h0M520.7 1160.9h0M224.4 1510.7h0M633 1170.1h0M722.8 1124.7h0M682.8 1199.4h0M643.3 1198.9h0M660.7 1195.5h0M461.1 1285h0M544.4 1331.7h0M706.9 1082.8h0M399.1 1139.8h0M651.7 1127.6h0M655.3 1203.3h0M469.5 1296.5h0M724.9 1021.8h0M522.9 1181h0M526.1 1147.2h0M618.2 1115h0M715.1 1064.8h0M152 1178.3h0M356.8 1217h0M355.6 1283.4h0M194.5 1169.9h0M735.4 1089.5h0M581.1 1289.8h0M300.9 1255.7h0M606.8 1218.6h0M639.1 1143.6h0M600.3 1199.2h0M639.1 1179.4h0M671.5 1191.2h0M258.5 1331.3h0M613.9 1155.1h0M461.6 1223.7h0M635.4 1204.8h0M672 1178.4h0M690.2 1061.1h0M709.4 1144h0M509.1 1139.3h0M641.8 1119.2h0M305.6 1471.6h0M556.8 1237.4h0M526 1220.4h0M251.5 1500.2h0M506.1 1275.5h0M645.2 1159.3h0M748 1067.1h0M433.3 1195.8h0M176.6 1427.3h0M639.6 1109.8h0M450.3 1190.7h0M264.5 1235.8h0M711.6 1149.1h0M228.9 1452.7h0M376.5 1239.6h0M443.1 1214.2h0M543.4 1337.2h0M509.8 1353h0M691.2 1027.7h0M481 1223.4h0M636.6 1151.9h0M722 1056h0M473.2 1185.4h0M609.1 1171.9h0M723.1 1095.6h0M581.2 1286.9h0M380.4 1216.9h0M669.7 1185.6h0M679.4 1141.7h0M626.4 1225.6h0M415.6 1248h0M574.7 1268.4h0M593 1264.8h0M698.7 1113.6h0M357.4 1317.2h0M148.5 1293h0M447 1348h0M697.3 1144.1h0M719.8 1069.6h0M746.8 1057.1h0M593.8 1264.5h0M496.7 1123.2h0M295.9 1339.4h0M615.7 1227.9h0M716 1090.7h0M698.4 1150.5h0M456.4 1232.2h0M250.1 1375.7h0M518.9 1165.4h0M171.7 1527h0M595.1 1219.7h0M135.2 1316.2h0M693.7 1163.3h0M113 1412h0M727.4 1116.6h0M729.1 1092.3h0M697.3 1136.2h0M465 1382.6h0M398.2 1268.4h0M724.1 1075.7h0M594.2 1278.2h0M686.1 1165.8h0M639.3 1159.1h0M510.5 1269.3h0M144.6 1182.9h0M557.2 1208.4h0M505.4 1190h0M664.9 1186.4h0M636.8 1118.4h0M495 1158.7h0M555.4 1167.3h0M113 1444h0M415.4 1270.3h0M554.8 1324.1h0M416.1 1130.4h0M512.7 1209h0M544.6 1209.3h0M724.3 1076.7h0M476.7 1149.2h0M648.6 1165.3h0M470.5 1254.7h0M575.2 1252.7h0M172.9 1284.2h0M712.6 1154.2h0M720 1082.5h0M302.8 1372.6h0M374.9 1142.2h0M381.9 1158.8h0M716.9 1117.6h0M683.9 1108.5h0M386.9 1153.7h0M709.1 1136.4h0M492.6 1352.8h0M712.8 1023.7h0M344.6 1316.5h0M440.6 1364.9h0M457 1376h0M657.9 1198.4h0M562.7 1310.2h0M614.7 1193.2h0M630.4 1208.3h0M142.8 1262.5h0M720.4 1093.8h0M486 1258.8h0M550.9 1214.7h0M703.4 1126.3h0M455.2 1271.4h0M441.3 1142.2h0M481.1 1253h0M650.6 1135.5h0M511.3 1141.2h0M399.2 1214.9h0M479.5 1218h0M663.9 1189.3h0M635.6 1143.2h0M687.9 1145.1h0M475.9 1360h0M640.1 1133h0M758 992.9h0M254.3 1339.8h0M667.2 1189.8h0M200.3 1237.5h0M431.2 1290.3h0M303.4 1362.5h0M607.3 1185.7h0M554.5 1154.5h0M456.8 1384.1h0M590.3 1217.2h0M505.1 1328.3h0M614 1183.3h0M660.5 1173.3h0M730 1033.7h0M611.3 1233.2h0M667.7 1204.8h0M732 1094.9h0M357.1 1156.6h0M755.5 1035.3h0M373.4 1282.6h0M500.3 1296.7h0M345.6 1212.1h0M607.3 1239.2h0M594.9 1210.8h0M667.4 1179.7h0M422.9 1253.9h0M536.9 1126.1h0M689.3 1149h0M744.8 1026.9h0M630.4 1137.6h0M647.9 1179.6h0M366.2 1280h0M326.2 1338.6h0M659.7 1163.2h0M130 1288.5h0M686.2 1158.7h0M734.7 1077.1h0M642.2 1072.2h0M553.8 1185.7h0M149.4 1171.6h0M688.1 1177.3h0M598.4 1183.6h0M519.9 1290.8h0M261.3 1165.3h0M687.4 1147.8h0M473.9 1261.3h0M479.9 1313.2h0M644.9 1170.4h0M585.4 1195h0M687.1 1048.8h0M641.5 1126.6h0M168.3 1205.5h0M718.5 1153.5h0M590.1 1275.6h0M523.9 1224.3h0M699.2 1086h0M691.8 1098.5h0M273.5 1157.9h0M622 1193.7h0M481.7 1276.6h0M329.9 1449.8h0M697.3 1025.2h0M715.3 1073.3h0M610 1238.6h0M682.9 1074.7h0M702 1115.2h0M340.4 1257h0M218.4 1332.6h0M664.4 1202.4h0M741.8 1079.8h0M690.5 1024h0M649.5 1138.5h0M744.2 1102.9h0M538.8 1315.7h0M349 1215h0M428.8 1254.1h0M353.5 1283.1h0M215.1 1278h0" stroke="#00f" stroke-width="5.0" stroke-linecap="round" stroke-opacity="0.5" fill="none"/><path d="M473.4 1242h0M592.3 1157.5h0M712.3 1140.6h0M629.9 1175.6h0M628.1 1142.9h0M657.1 1199h0M716.7 1105.9h0M513.8 1232.5h0M225.9 1498.6h0M625.6 1185.7h0M713.7 1100.8h0M524.4 1295.7h0M452.9 1316.5h0M571.8 1142.3h0M593.1 1222.8h0M655.9 1163.2h0M643.5 1172.9h0M271.2 1357.1h0M387.2 1399.3h0M728.9 1026.6h0M711.9 1151.8h0M651.1 1201.7h0M239.6 1358.8h0M273.1 1147.5h0M599.5 1238.5h0M556 1193.9h0M590.2 1189.2h0M177.4 1331.3h0M641.6 1176.8h0M409 1306.3h0M421.7 1145.5h0M717 1162.1h0M714.1 1148.5h0M673.8 1097.9h0M207 1195h0M190.5 1168.3h0M629 1176.3h0M727.6 1101.9h0M715.1 1156.4h0M575.8 1187.1h0M599.2 1150.1h0M285.1 1309.6h0M696.7 1127.7h0M239.2 1382.1h0M663.5 1149.3h0M598.2 1217.8h0M339.1 1215h0M654.8 1093.3h0M401.9 1291.4h0M619.9 1179.8h0M647.7 1158.5h0M660.3 1115.3h0M708.3 1138.9h0M326.1 1176.4h0M368.3 1175.1h0M596.5 1238.6h0M720.1 1029.2h0M358.4 1291.7h0M729.5 1030h0M628.4 1209.6h0M444.7 1216.8h0M733.1 1058.6h0M291.7 1256.7h0M409.4 1379h0M426.5 1278.4h0M454.2 1310.5h0M509.1 1275.5h0M233.1 1219.5h0M536.6 1224.1h0M549.1 1153.2h0M626.2 1167.9h0M491.7 1366.9h0M481.8 1208.1h0M541.1 1332.2h0M391.3 1372.8h0M741 989.5h0M381.9 1184.4h0M330.9 1432.2h0M645.5 1143h0M501 1223.3h0M270.2 1406.8h0M659.6 1076.1h0M496.3 1363h0M413.5 1233.7h0M477 1166.9h0M683 1035.7h0M612.8 1153.9h0M596.7 1214.1h0M543.4 1214.8h0M684.4 1139.2h0M505.8 1331.2h0M291.2 1261.5h0M669.1 1108.8h0M740.9 1013.2h0M443.9 1186.3h0M751.4 1024.8h0M362.1 1340.4h0M655 1100.6h0M704.8 1114.2h0M253.8 1151.8h0M419.9 1400.7h0M502.4 1161.2h0M589.9 1285.7h0M713.1 1116.5h0M642.4 1160.5h0M590.3 1175.9h0M646 1207.5h0M563.8 1132.1h0M362.1 1247.8h0M428 1214.6h0M769.1 985h0M588 1191h0M708.9 1020.5h0M629.7 1132h0M592.5 1154.7h0M501.7 1215.7h0M673.7 1112.6h0M578.7 1251.9h0M460.6 1214.7h0M515 1302h0M494.6 1251.3h0M403.9 1236.9h0M376.1 1380.6h0M728 1046.5h0M580.5 1290h0M483.7 1343.8h0M681.8 1132h0M636.2 1184.3h0M586.5 1241.9h0M321.4 1330.9h0M564.8 1286.3h0M345.9 1414.9h0M667.9 1095.4h0M680.1 1147.7h0M136.1 1321.5h0M740.1 1004.2h0M151.9 1224.8h0M537.5 1221.3h0M390.6 1345.7h0M205 1304.5h0M608.6 1258h0M655 1216.1h0M711.1 1164.3h0M568.6 1213.7h0M271.5 1372.4h0M575.6 1127.6h0M694.3 1137.1h0M307 1146.7h0M622.3 1233.7h0M523.9 1204.5h0M301.7 1171.6h0M283.4 1328.1h0M622.9 1196.7h0M612.2 1150.4h0M568.5 1160.3h0M408.5 1276.6h0M219 1191.2h0M496 1249.2h0M438.6 1208h0M759.2 1035h0M642.5 1111.3h0M585.1 1122.7h0M577.9 1175.4h0M399.2 1310h0M567 1177.4h0M368.5 1293.6h0M595.2 1233.8h0M532.1 1242.9h0M584.2 1257.2h0M610.7 1247.5h0M565.3 1265.3h0M381.3 1168.4h0M645.9 1157.3h0M656 1092.4h0M322.3 1137.2h0M684.6 1057.8h0M607.3 1178.4h0M588.5 1271.5h0M683.7 1099.6h0M727 1087.4h0M117.3 1325.2h0M724 1086.5h0M580.2 1265h0M610.2 1176.9h0M701 1057.5h0M423 1155.2h0M715 1121.5h0M657.5 1106.8h0M385.1 1219.8h0M373.5 1278.3h0M677.3 1203.3h0M562.6 1288h0M221.1 1170.6h0M372.7 1152.6h0M761.3 1020.4h0M410.2 1349.1h0M649.5 1201.5h0M544.3 1232.3h0M468.5 1232h0M342.5 1298.6h0M341.3 1387.9h0M269.6 1368.2h0M186.9 1236.2h0M460.8 1327.6h0M632.7 1215.5h0M723.2 1146.4h0M617.9 1138.9h0M653.9 1205.3h0M439.4 1399h0M580.7 1197.5h0M595.3 1208.8h0M606.4 1143.5h0M547.2 1221.7h0M671.1 1148.3h0M461.5 1282.8h0M620.3 1105.7h0M270.9 1427.7h0M631.4 1220.8h0M714.7 1088h0M271 1395.2h0M648.6 1136.9h0M586 1226.9h0M515.9 1245.3h0M265.6 1151.1h0M201 1172h0M494.7 1172.3h0M208.5 1309.9h0M653.6 1180.1h0M700.2 1022h0M712.7 1167.9h0M635.1 1134.6h0M729.8 1122h0M659.6 1177.8h0M662.2 1154h0M674.3 1054.6h0M204.6 1276.4h0M677.4 1121.4h0M704.4 1074.9h0M595.6 1236.2h0M647.7 1219.9h0M323.4 1449.8h0M732.9 1040.5h0M483.6 1125.8h0M529.1 1332.9h0M665.2 1168.4h0M155.4 1185.1h0M378.9 1251.7h0M646.3 1125h0M175.8 1361.8h0M280.2 1268.1h0M694.4 1076.9h0M222.5 1287.6h0M393.5 1320.9h0M540.8 1148.2h0M716.5 1116.9h0M743.6 1105.1h0M553.2 1157.7h0M618.5 1216.6h0M620.4 1219.9h0M176.5 1352.2h0M735.9 1028.5h0M620.7 1129h0M561.2 1300h0M240.3 1350.4h0M674.7 1204h0M402.5 1351.1h0M429.2 1220.5h0M631.2 1147.6h0M678.9 1148.9h0M472.9 1202h0M255.2 1370.2h0M459.7 1205.1h0M534.5 1215.2h0M694.5 1156.6h0M586.8 1205.4h0M705.3 1064.1h0M530.1 1268.2h0M490.3 1290h0M527.4 1321h0M602.2 1223.4h0M532.6 1228.4h0M540.3 1310.8h0M636 1165.2h0M510.3 1221.1h0M576 1280.8h0M614.6 1170.4h0M629.9 1174.5h0M596.8 1114.3h0M739.7 1039h0M556.8 1299.2h0M514.5 1296.2h0M200.7 1281.8h0M511.9 1134.5h0M404.8 1133.2h0M591.5 1247.1h0M697.1 1131.2h0M175.4 1403.2h0M639.6 1202.4h0M708.6 1008.4h0M627.5 1198.2h0M492.5 1229.8h0M647 1155.8h0M303.5 1357.5h0M145.1 1383.3h0M615.2 1182.7h0M706.5 1170.8h0M514.6 1359h0M601.8 1237h0M682.3 1114.6h0M670.5 1200.7h0M543 1175.7h0M726.5 1120.1h0M487.8 1202.2h0M721 1016.9h0M645.1 1188.7h0M561.5 1151.9h0M581.2 1117.9h0M659.1 1128.7h0M581.9 1197.4h0M619.5 1171.3h0M413 1406.3h0M651.8 1128.3h0" stroke="#00f" stroke-width="5.0" stroke-linecap="round" stroke-opacity="0.5" fill="none"/><path d="M676.2 1161.4h0M422.7 1371.6h0M469.2 1285.7h0M572.1 1256.1h0M626.7 1170.7h0M511.9 1221h0M340.8 1157.4h0M717.8 1059.7h0M561.6 1183.7h0M564.2 1191.2h0M327.5 1288.2h0M690.1 1104.7h0M669.4 1126.4h0M677.9 1103.3h0M439.6 1156.6h0M348.9 1259.6h0M392.1 1403.3h0M628.9 1193.5h0M545.4 1235.7h0M466.4 1302.1h0M652.3 1083.4h0M649.8 1214.3h0M616.9 1153.1h0M726.7 1136.9h0M275.6 1268.4h0M650.9 1180.7h0M658.9 1111.3h0M412.1 1196.1h0M712.4 1157.7h0M567.1 1223.3h0M599.1 1179.6h0M256.6 1292h0M633.1 1134.3h0M410.9 1264.1h0M631.5 1159h0M684.9 1173h0M538.8 1224.9h0M518.6 1126.2h0M701.7 1140.7h0M710.3 1123.8h0M665.7 1118.2h0M324.7 1314.4h0M581.3 1276.8h0M719.1 1073.3h0M274.5 1305.1h0M741.9 989.7h0M721.6 1125h0M367.7 1327h0M128.6 1212.6h0M281.3 1155h0M271.7 1356.5h0M670.6 1089h0M727.4 1004.8h0M649 1220.5h0M663.6 1154h0M744.4 1095.7h0M547.8 1277.2h0M250 1285.7h0M720.9 1145.8h0M535.1 1295.6h0M587.4 1176h0M309.4 1245.9h0M711.2 1143.6h0M740.3 1114.9h0M677.4 1131.1h0M616 1239.4h0M616.6 1156.7h0M342.5 1336.2h0M656.5 1123.4h0M431.9 1142.6h0M547.3 1199.4h0M615.9 1221h0M754.9 1011.8h0M695.9 1130.1h0M630.3 1197.1h0M722.9 1085.3h0M672.5 1066.5h0M466.9 1270.8h0M602 1159h0M471.9 1275.1h0M647 1127.1h0M552.7 1204.3h0M656.7 1105.5h0M259.5 1347.4h0M352 1319.2h0M249.5 1304.5h0M437.6 1298.5h0M352.2 1405.9h0M634 1190.4h0M412.3 1267.2h0M636 1168.2h0M516.9 1355.7h0M757.9 977.2h0M633.6 1176.3h0M713.2 1121.9h0M192.5 1326h0M564.9 1297.4h0M391.5 1401.5h0M313.5 1223h0M502.6 1240.1h0M667.9 1203.4h0M355.9 1321.3h0M276.8 1238.7h0M451.5 1158.7h0M702.9 1019.7h0M578.4 1148.2h0M571.2 1208.5h0M532 1225.5h0M273.8 1370.9h0M737.5 1032.8h0M179.1 1274.9h0M602.3 1124.4h0M550.5 1217.8h0M594.4 1238.6h0M663.5 1121.9h0M207 1364.6h0M634.9 1170.9h0M406.7 1395.3h0M683 1131.5h0M693.6 1135.3h0M740.1 1104.4h0M607.4 1165.3h0M508.8 1252.5h0M621.8 1196.1h0M393.6 1271.1h0M655.8 1060h0M716.9 1110.2h0M384.9 1348.1h0M396.3 1335.3h0M745.9 1076.3h0M672.2 1139.1h0M519.7 1308.5h0M677.3 1125.2h0M501.9 1186.4h0M672.6 1185.1h0M681.7 1130.9h0M752 991.6h0M415.2 1279.6h0M729.2 1100.7h0M728.8 1114.9h0M493.8 1275.9h0M612.7 1190.3h0M586.1 1192.5h0M718.6 1089.2h0M693 1078.6h0M639.4 1182h0M657 1155h0M503 1247.8h0M373.9 1272.7h0M442.7 1399.1h0M437.4 1127.8h0M680 1107.6h0M703.2 1113.2h0M540.9 1181.3h0M254.5 1482.8h0M300.1 1155.3h0M640.8 1166.1h0M372 1379.5h0M597.3 1255.5h0M675.4 1155.2h0M552.1 1275.5h0M581.5 1236.4h0M718 1090.4h0M577 1234.7h0M339.9 1326.5h0M502.8 1361.5h0M717.9 1130.9h0M348.5 1385.3h0M729.2 1123.7h0M551.5 1192.8h0M696.9 1126h0M662.1 1153.1h0M355 1330.4h0M272 1310.4h0M431.4 1142.5h0M727.6 1139.8h0M696.6 1021.8h0M749.3 1072.2h0M555.7 1201.9h0M494.4 1235h0M525.7 1249.4h0M674.1 1115.8h0M454.5 1141h0M459.7 1352h0M616.7 1221.1h0M680 1121.1h0M383.8 1263.6h0M217.7 1155.7h0M685.7 1195.9h0M720.6 1087.8h0M302.4 1432.9h0M591.7 1217.2h0M705.8 1166.2h0M679.3 1196.9h0M396.3 1210.4h0M490.1 1169.6h0M705.3 1100.8h0M361.3 1280.6h0M246.1 1156.4h0M210.7 1169.8h0M474.1 1323.7h0M611.3 1226.2h0M550.2 1121.9h0M433.7 1201.6h0M620.7 1208.3h0M666.8 1173.6h0M516.2 1242.5h0M564.5 1257.4h0M657.3 1096.2h0M613.5 1208.3h0M697.9 1102.9h0M446.9 1337.7h0M458.6 1275.6h0M250 1488.9h0M413.9 1293.1h0M429.7 1162h0M571.1 1255.6h0M615.6 1198.8h0M258.7 1219.4h0M742.8 1084.7h0M602.3 1188.4h0M677.6 1161.1h0M433.6 1224.8h0M291.9 1211.3h0M530.9 1342.4h0M366.5 1194.8h0M641.3 1154.3h0M704.3 1056.9h0M710.6 1043h0M580.8 1301h0M520.9 1125.9h0M636.1 1135.4h0M658.9 1117.3h0M669.9 1163.1h0M684.5 1151.2h0M144.8 1442.8h0M684.8 1029h0M409.6 1273.3h0M663.2 1207.3h0M674.6 1045.7h0M713.8 1163.3h0M417 1371h0M735.4 998.7h0M276.8 1348.6h0M717.5 1149.7h0M153.4 1247.8h0M583.2 1224.3h0M625.1 1154.4h0M746 988.5h0M689.5 1108.5h0M524.1 1126.2h0M473.9 1186.1h0M681.9 1128.2h0M742.5 1055.8h0M555 1142.1h0M676.6 1036.7h0M437 1181.1h0M317.3 1316.2h0M572.9 1170.6h0M659.7 1185.5h0M388.8 1287.7h0M392 1304.5h0M567.4 1309.3h0M521 1288.4h0M615.9 1244.2h0M642.3 1122.5h0M753.4 1043.5h0M272.7 1160.3h0M608.9 1140.7h0M693.5 1121.3h0M754.5 999.4h0M485 1299.6h0M678.7 1179.9h0M326.1 1336.1h0M598.7 1133.1h0M699.2 1102.1h0M718.8 1129.3h0M501.9 1329.4h0M592 1254.7h0M253.9 1195.7h0M748.8 1058.3h0M579.5 1199.2h0M555.8 1252.2h0M664.5 1143.4h0M602.6 1155.3h0M751.5 1058.2h0M267.1 1359.5h0M537.4 1159.7h0M563.1 1144.6h0M703.4 1141.7h0M450 1385.9h0M691.4 1149.3h0M339.9 1313.7h0M403.6 1261h0M691.9 1154.6h0M197.5 1158.5h0M358.6 1357.6h0M302.8 1351.8h0M659 1185.9h0M668.5 1177.9h0M680 1185.6h0M454.8 1167.6h0M652.2 1120.8h0M687.7 1056.4h0M458.8 1128.8h0M540.8 1193.4h0M755.9 1005.4h0M707 1112h0M759.7 1026.1h0M265.2 1367.9h0M678 1059.8h0M478.4 1293.2h0M660.6 1113.2h0M420.7 1343.7h0M650.8 1104.5h0M700.9 1165.2h0M658.3 1194.4h0M410.5 1303.8h0M640.4 1151.3h0M707.5 1107.8h0M500.6 1191.3h0M534 1136.9h0" stroke="#00f" stroke-width="5.0" stroke-linecap="round" stroke-opacity="0.5" fill="none"/><path d="M506.7 1129.4h0M270.2 1339.2h0M318.4 1343.1h0M478.5 1246.4h0M388.2 1205.5h0M279.3 1486.6h0M701.9 1079.4h0M463.5 1244.2h0M688.8 1166.2h0M329.5 1408.6h0M239 1373.3h0M690.3 1112.9h0M635.4 1207.1h0M728 1121.2h0M210.9 1201.1h0M592.8 1244.8h0M605.6 1249.1h0M306.7 1311.9h0M635.3 1137.3h0M645.8 1181.8h0M492.3 1336h0M704.6 1075.4h0M712.2 1084.3h0M694.5 1177h0M625.1 1178.4h0M512 1159.4h0M121.2 1291.6h0M666.1 1211.5h0M628.1 1131.1h0M699.1 1157.1h0M171.4 1279.8h0M488.8 1140h0M703.8 1123.5h0M652.2 1136.8h0M198.5 1208.7h0M629.7 1126.7h0M456.1 1225.2h0M620.1 1120.5h0M580.2 1297.6h0M570.2 1141h0M388.7 1140.3h0M445 1284.4h0M622.6 1181.1h0M336.3 1403.8h0M651.1 1089.7h0M595.1 1269.8h0M579 1266.1h0M176.8 1411.6h0M572.3 1242h0M626.4 1135.8h0M670.3 1108.4h0M575.4 1251.5h0M716.4 1089.6h0M737 1087.7h0M306.1 1319.5h0M690.2 1102.4h0M610.9 1185.1h0M727 1110.6h0M738.7 1109.6h0M630.4 1106.4h0M532.8 1160.4h0M477.8 1246.1h0M397.9 1150h0M645.3 1108h0M735 1124.2h0M594.1 1202.2h0M744.9 1003.8h0M200.3 1469.3h0M686.4 1104h0M645.8 1170.3h0M267.2 1197.9h0M277.8 1308.7h0M372.3 1326.9h0M441.7 1298.8h0M715.5 1135.5h0M140.3 1242.9h0M599.8 1219.4h0M238.5 1411.8h0M592.8 1150.8h0M727.2 1039.9h0M586.3 1214.8h0M485.6 1271.3h0M545.5 1316.5h0M708.5 1128.8h0M710.8 1126.4h0M507.6 1176.6h0M507.6 1159.2h0M672.1 1124.3h0M745.2 1033.9h0M696.6 1180.6h0M644.2 1201.5h0M251.1 1149.8h0M648 1121.6h0M143.9 1351.9h0M580 1188.9h0M605.5 1117.9h0M719.4 1072h0M769.2 959.9h0M664.1 1078h0M719.1 1134.2h0M412.4 1391.2h0M600.1 1203.7h0M425.1 1389.5h0M530.4 1130.3h0M635.4 1223h0M603.8 1255.1h0M637.6 1168.9h0M449.1 1379.4h0M559.5 1205.2h0M676.8 1123.2h0M317.2 1247.7h0M597.6 1215.3h0M385.6 1178.5h0M436.4 1232.2h0M513.5 1223.6h0M378.1 1418h0M463.3 1366.4h0M684.7 1172.5h0M737.6 1075.7h0M585.7 1284.1h0M701.7 1139.7h0M585.2 1170.7h0M605 1198.9h0M597.7 1213.1h0M733.2 1100.7h0M450.8 1276.1h0M705.9 1007.8h0M676 1152.4h0M713.4 1023.1h0M144.2 1414.8h0M359.3 1137.5h0M465.2 1278.5h0M573.1 1189.4h0M746.1 1082.4h0M680.1 1096.1h0M690.2 1155.9h0M617 1162.6h0M546.9 1200.6h0M285.5 1343.6h0M522.2 1178.4h0M694.2 1130.5h0M585 1138.6h0M728.5 1017.9h0M320.3 1332.4h0M407.5 1355.3h0M662.5 1164.5h0M528.8 1135.7h0M651.6 1197.6h0M686.7 1179.3h0M455.5 1219.5h0M703.1 1131.8h0M116.8 1183.5h0M764.8 1016.6h0M196.7 1323.4h0M731.7 1114h0M613.8 1247.1h0M766.1 980.2h0M672 1154.7h0M677.5 1098.3h0M625.5 1106.9h0M690.4 1107.2h0M298.5 1141.6h0M767.4 991.2h0M459.8 1218.2h0M440.8 1290.6h0M749.4 1025.7h0M208.4 1438.8h0M721.4 1109.8h0M757.6 1031.9h0M597.4 1202.5h0M139.8 1186.4h0M562.1 1181.1h0M504.4 1361.3h0M131.9 1259.8h0M326.4 1323.8h0M505.6 1329.8h0M688.5 1140.6h0M660 1214.2h0M713.4 1153.1h0M591.1 1214.6h0M547.3 1282.2h0M344.6 1287.2h0M305.1 1333.7h0M696.9 1111.9h0M561.5 1199.4h0M473.6 1195h0M730.8 993.4h0M684.4 1132.1h0M649.6 1212h0M650 1089.2h0M352 1327.5h0M707.3 1025.2h0M181.1 1271.5h0M611.4 1217.1h0M708.5 1172.6h0M722.4 1082.5h0M668.9 1168.6h0M512.7 1172.4h0M526.1 1152.9h0M704.6 1046.6h0M181.7 1203.4h0M228.1 1177h0M658.1 1159.8h0M474.9 1387.3h0M658.5 1158.3h0M656.3 1116.2h0M733.1 1122.7h0M732 996h0M328.8 1437.1h0M379.9 1320.2h0M269.2 1176.5h0M125.5 1227.2h0M670.6 1121.7h0M485.7 1348h0M421.9 1260h0M578.2 1145.3h0M238.9 1327.5h0M446.7 1284.5h0M410.2 1151.3h0M643.5 1211.7h0M736.5 1053h0M247.2 1215.7h0M489.5 1280h0M700 1146.3h0M478.1 1315.7h0M271 1349.2h0M181 1182h0M176.6 1393.8h0M729.5 1094.3h0M181.4 1309.6h0M422.1 1296h0M651.9 1071.7h0M436.3 1282.3h0M558.9 1142.4h0M416.7 1385.6h0M586.7 1155.9h0M413.5 1361.4h0M484.9 1199.5h0M334.7 1448.5h0M359.6 1305h0M604.1 1229h0M613.8 1179.2h0M711 1063h0M611.1 1185.8h0M639.6 1161.8h0M578.8 1274.7h0M639.8 1174.1h0M739 1109.1h0M534.2 1232.2h0M689.1 1137.7h0M619.1 1178.1h0M380.6 1417.5h0M288.7 1325.9h0M227.8 1333.6h0M469.8 1251.9h0M492 1279h0M546 1251.3h0M409.9 1171.1h0M732.8 1111.4h0M757.4 1011.4h0M473.1 1372.9h0M700.3 1185.7h0M246.5 1174.6h0M513.6 1201.9h0M622.5 1094.4h0M626.6 1226.8h0M594.4 1174.2h0M661.5 1112.8h0M114.7 1224.2h0M646.4 1205.3h0M416.8 1315.6h0M420.1 1293.4h0M430 1264.6h0M454.7 1258.3h0M605.8 1203.3h0M677.7 1050.5h0M472.9 1240.2h0M653.6 1085.2h0M673.4 1126.6h0M288.7 1167h0M602.2 1186.6h0M582.4 1205h0M663.5 1141.3h0M700.4 1046.1h0M490.6 1216.2h0M705.9 1167.2h0M551.1 1216.6h0M312.3 1331.4h0M185.1 1265.4h0M467.3 1298.4h0M708.9 1015.8h0M294.8 1334.7h0M452 1272.7h0M334.6 1358.3h0M391.5 1307.3h0M681.6 1154.3h0M707.9 1058h0M160.2 1325.9h0M692.7 1172.8h0M723.6 1014h0M481.4 1273.9h0M444.4 1274.1h0M579 1175.3h0M507.5 1128.5h0M659.5 1187.1h0M508.1 1347.2h0M693.9 1149.7h0M742.1 1075.7h0M443.7 1135h0M347.7 1360.5h0M259.2 1333.6h0M491.7 1229h0M423.5 1407.5h0M662.2 1204.7h0M616.5 1205.7h0M643.6 1221.4h0M607.8 1143.4h0M709.8 1150.1h0M604.7 1216.8h0M532.4 1164h0M594.3 1204.3h0M509.1 1282.7h0" stroke="#00f" stroke-width="5.0" stroke-linecap="round" stroke-opacity="0.5" fill="none"/><path d="M1551.4 1305.7h0M1476.2 1316.6h0M1507.7 1281.5h0M1519.5 1432.6h0M1664.4 1454.4h0M1301.8 1552.9h0M1597.5 1156h0M1341.4 1528h0M1451.7 1320h0M1625.8 1499.3h0M1611.1 1378.7h0M1452.2 1539.5h0M1488.8 1282.1h0M1445.5 1477.2h0M1240 1554.1h0M1625.8 1149.4h0M1356.9 1509.3h0M1562.6 1270.4h0M1557.7 1208.5h0M1652.9 1272.9h0M1599.7 1296.4h0M1269.4 1535.1h0M1438.7 1358.7h0M1420 1406.8h0M1594.7 1492.3h0M1468.2 1302h0" stroke="#00f" stroke-width="5.0" stroke-linecap="round" stroke-opacity="0.5" fill="none"/><path d="M1613.7 1275.9h0M1639.5 1226.8h0M1463.5 1261.7h0M1272 1464.4h0M1604.2 1192h0M1533.8 1390.2h0M1624.4 1186.8h0M1427.2 1308.9h0M1572.9 1283.1h0M1305.8 1531.4h0M1238 1516.1h0M1482.7 1516.6h0M1567.5 1242h0M1556 1466.1h0M1554.3 1493.2h0M1529.9 1292.9h0M1556 1510.4h0M1448.6 1423.8h0M1626.3 1230h0M1501.6 1349.2h0M1361.1 1547.9h0M1495.4 1254.6h0M1635.5 1149h0M1198.9 1542.3h0M1522.8 1222.8h0M1553.3 1242h0" stroke="#00f" stroke-width="5.0" stroke-linecap="round" stroke-opacity="0.5" fill="none"/><path d="M1378.1 1448.2h0M1591.9 1502.9h0M1448.7 1306.6h0M1554.6 1429.4h0M1421.9 1544.3h0M1469.4 1352h0M1299.4 1438.3h0M1594.3 1196.5h0M1578.6 1163.9h0M1618.3 1261.7h0M1661.6 1497.7h0M1178 1561.9h0M1630.5 1455.6h0M1299.3 1490.1h0M1518 1469.4h0M1307.8 1458.2h0M1572.2 1382.5h0M1642.7 1181.9h0M1330.1 1547.7h0M1471.8 1286.5h0M1411.3 1521.3h0M1577.1 1203h0M1632.9 1325.4h0M1582.6 1269.6h0M1523.6 1247.3h0M1550.1 1212.7h0" stroke="#00f" stroke-width="5.0" stroke-linecap="round" stroke-opacity="0.5" fill="none"/><path d="M1569.1 1206.2h0M1590.1 1162.1h0M1635.3 1139h0M1590.7 1421.8h0M1447.4 1517.8h0M1419.2 1427.6h0M1278 1511h0M1646.8 1372.7h0M1591.3 1462.3h0M1391.8 1543.2h0M1614.9 1190.7h0M1496.9 1394.2h0M1410.1 1479.2h0M1525.7 1276h0M1515.6 1496.5h0M1489.6 1298.9h0M1544.2 1272.3h0M1566.8 1338.8h0M1481.2 1472.1h0M1600.4 1330.2h0M1625 1292.6h0M1671.6 1486.2h0M1600.8 1265h0M1634 1273.7h0M1509.3 1294.9h0M1632.5 1185.7h0" stroke="#00f" stroke-width="5.0" stroke-linecap="round" stroke-opacity="0.5" fill="none"/><path d="M1637.1 1258.8h0M1592 1282.3h0M1232.8 1539.4h0M1635.4 1144h0M1411.4 1447h0M1480.8 1256.5h0M1484.2 1438.1h0M1574.3 1299.2h0M1540.8 1216.4h0M1358.9 1432.4h0M1502.6 1314.1h0M1529.3 1217.8h0M1315.8 1510.4h0M1636 1124h0M1405.6 1363.3h0M1617.7 1151.5h0M1538.3 1247.2h0M1585 1199.5h0M1452.7 1289.8h0M1343.3 1452.6h0M1550.9 1287.4h0M1609.7 1231h0M1536.7 1341.2h0M1624.7 1421h0M1208.4 1556.4h0M1448.6 1441.8h0" stroke="#00f" stroke-width="5.0" stroke-linecap="round" stroke-opacity="0.5" fill="none"/><path d="M1458.1 1399.1h0M1607.7 1154.9h0M1394.8 1506.4h0M1569.6 1165.9h0M1508.3 1251.7h0M1596.9 1234.6h0M1582.2 1237.7h0M1377.9 1525.7h0M1521.1 1513.3h0M1649 1287.3h0M1329.2 1437.1h0M1635.1 1134h0M1272 1553.8h0M1525.6 1306.9h0M1475.6 1500.2h0M1373.3 1485.2h0M1634.1 1129h0M1661.2 1413.3h0M1450.8 1264h0M1391 1431.1h0M1426.4 1325.3h0M1262.5 1496.4h0M1636.9 1146.2h0M1335.6 1485.8h0M1633.9 1490.8h0M1435.2 1504.2h0" stroke="#00f" stroke-width="5.0" stroke-linecap="round" stroke-opacity="0.5" fill="none"/><path d="M1081.2 1572.6C1085.2 1573.0 1097.4 1575.5 1105.4 1575.3C1113.5 1575.1 1121.6 1576.1 1129.3 1571.4C1137.0 1566.7 1142.5 1557.3 1151.6 1547.1C1160.6 1537.0 1174.2 1523.4 1183.6 1510.8C1193.1 1498.1 1199.8 1483.1 1208.3 1471.3C1216.9 1459.5 1224.8 1450.3 1234.6 1440.0C1244.4 1429.7 1256.3 1418.4 1267.1 1409.6C1277.8 1400.7 1288.3 1394.7 1299.3 1386.8C1310.3 1378.9 1323.3 1368.3 1333.0 1362.2C1342.6 1356.0 1348.8 1355.9 1357.2 1349.7C1365.6 1343.5 1374.7 1334.2 1383.4 1324.9C1392.1 1315.6 1401.2 1304.9 1409.3 1294.0C1417.5 1283.1 1423.8 1269.9 1432.3 1259.7C1440.8 1249.4 1450.6 1240.0 1460.4 1232.4C1470.3 1224.8 1482.3 1221.1 1491.5 1214.0C1500.8 1206.9 1508.0 1199.0 1516.0 1189.8C1523.9 1180.6 1530.2 1170.5 1539.0 1158.6C1547.8 1146.7 1560.0 1131.4 1568.7 1118.4C1577.3 1105.4 1583.0 1092.4 1590.8 1080.6C1598.5 1068.8 1606.1 1056.9 1615.2 1047.6C1624.3 1038.3 1635.6 1031.0 1645.5 1024.7C1655.4 1018.4 1666.5 1012.7 1674.6 1009.7C1682.6 1006.7 1690.6 1007.0 1693.8 1006.5" stroke="#00f" stroke-width="1.6" stroke-opacity="0.56" fill="none"/><path d="M1080.2 1577.8C1084.3 1578.5 1096.1 1581.8 1104.9 1582.1C1113.7 1582.3 1123.4 1583.7 1132.8 1579.4C1142.3 1575.1 1151.6 1566.2 1161.8 1556.0C1171.9 1545.8 1184.0 1530.8 1193.7 1518.2C1203.4 1505.6 1212.1 1492.4 1220.1 1480.3C1228.0 1468.2 1232.8 1456.4 1241.5 1445.6C1250.2 1434.8 1261.6 1423.7 1272.2 1415.4C1282.7 1407.2 1293.3 1402.7 1304.7 1396.1C1316.2 1389.4 1330.8 1381.7 1341.0 1375.6C1351.3 1369.5 1357.5 1366.7 1366.0 1359.4C1374.5 1352.1 1384.2 1342.2 1392.1 1331.9C1400.0 1321.5 1405.7 1308.2 1413.6 1297.2C1421.5 1286.3 1430.4 1275.2 1439.5 1266.3C1448.5 1257.4 1458.7 1251.4 1468.2 1243.9C1477.7 1236.5 1485.2 1227.5 1496.5 1221.5C1507.7 1215.5 1527.0 1217.4 1535.5 1208.0C1544.0 1198.5 1540.5 1178.5 1547.5 1164.7C1554.4 1150.9 1567.7 1137.2 1577.2 1125.0C1586.6 1112.9 1594.8 1101.8 1604.3 1091.6C1613.9 1081.4 1625.9 1073.1 1634.4 1064.0C1642.9 1054.8 1647.1 1042.4 1655.5 1036.7C1663.8 1031.0 1677.6 1032.4 1684.6 1029.9C1691.6 1027.3 1695.3 1022.7 1697.4 1021.2" stroke="#00f" stroke-width="1.2" stroke-opacity="0.69" fill="none"/><path d="M1080.5 1575.9C1084.6 1576.3 1096.8 1578.6 1105.2 1578.5C1113.6 1578.4 1122.7 1580.1 1131.1 1575.5C1139.5 1570.8 1146.5 1561.2 1155.4 1550.5C1164.4 1539.9 1174.5 1523.7 1184.6 1511.5C1194.7 1499.3 1207.4 1488.8 1216.2 1477.3C1225.1 1465.8 1228.8 1453.3 1237.7 1442.5C1246.6 1431.7 1259.4 1421.9 1269.6 1412.5C1279.9 1403.2 1287.7 1393.5 1299.1 1386.4C1310.4 1379.4 1326.9 1375.0 1337.9 1370.3C1348.8 1365.6 1356.6 1365.2 1364.8 1358.1C1373.1 1351.1 1379.9 1338.7 1387.3 1328.0C1394.7 1317.3 1401.2 1304.8 1409.3 1294.0C1417.5 1283.2 1427.1 1272.7 1436.1 1263.2C1445.1 1253.7 1453.6 1244.2 1463.4 1236.8C1473.1 1229.4 1485.3 1226.0 1494.7 1218.8C1504.1 1211.6 1510.5 1202.0 1519.8 1193.3C1529.1 1184.7 1540.9 1178.3 1550.3 1166.8C1559.7 1155.3 1567.6 1137.2 1576.3 1124.4C1585.0 1111.6 1593.5 1100.7 1602.5 1090.1C1611.5 1079.4 1621.2 1069.1 1630.2 1060.4C1639.3 1051.8 1649.1 1046.1 1656.8 1038.2C1664.4 1030.3 1669.8 1017.1 1676.2 1013.0C1682.7 1008.9 1692.3 1013.5 1695.6 1013.6" stroke="#00f" stroke-width="1.2" stroke-opacity="0.45" fill="none"/><path d="M1080.6 1575.7C1084.6 1576.8 1096.0 1581.0 1104.9 1582.1C1113.9 1583.3 1125.4 1587.5 1134.3 1582.6C1143.1 1577.7 1149.5 1564.5 1158.0 1552.8C1166.5 1541.0 1175.6 1524.6 1185.3 1512.0C1195.1 1499.5 1207.1 1488.6 1216.7 1477.7C1226.2 1466.7 1233.4 1456.9 1242.6 1446.5C1251.9 1436.2 1262.5 1425.0 1272.2 1415.5C1281.9 1406.0 1289.3 1396.0 1300.9 1389.6C1312.6 1383.3 1331.2 1382.3 1342.1 1377.2C1352.9 1372.2 1359.4 1368.3 1366.0 1359.4C1372.7 1350.5 1374.6 1334.5 1382.0 1323.8C1389.3 1313.0 1401.0 1304.6 1410.3 1294.7C1419.5 1284.8 1428.1 1273.2 1437.6 1264.5C1447.1 1255.9 1457.6 1250.0 1467.2 1242.5C1476.8 1235.0 1486.4 1227.7 1495.2 1219.5C1504.0 1211.4 1510.5 1202.2 1520.2 1193.7C1529.8 1185.2 1543.0 1179.8 1553.0 1168.7C1563.1 1157.7 1571.2 1139.9 1580.4 1127.6C1589.6 1115.2 1599.8 1105.9 1608.1 1094.7C1616.4 1083.5 1621.5 1069.1 1630.1 1060.3C1638.8 1051.6 1652.0 1049.5 1659.9 1042.0C1667.7 1034.4 1671.4 1020.2 1677.3 1015.3C1683.2 1010.3 1692.2 1012.8 1695.2 1012.3" stroke="#00f" stroke-width="1.5" stroke-opacity="0.66" fill="none"/><path d="M1080.9 1573.9C1085.0 1574.1 1097.4 1575.4 1105.5 1575.0C1113.5 1574.6 1120.7 1575.2 1129.3 1571.4C1138.0 1567.6 1149.3 1563.0 1157.3 1552.2C1165.3 1541.3 1168.3 1519.2 1177.3 1506.1C1186.4 1493.1 1202.0 1484.7 1211.5 1473.7C1220.9 1462.6 1224.6 1450.0 1234.2 1439.7C1243.8 1429.4 1258.0 1420.4 1268.9 1411.7C1279.8 1403.0 1289.1 1395.9 1299.6 1387.3C1310.1 1378.7 1322.2 1366.4 1331.8 1360.1C1341.3 1353.8 1349.1 1356.0 1357.0 1349.5C1364.9 1343.1 1371.4 1331.5 1379.3 1321.6C1387.2 1311.7 1395.5 1300.6 1404.3 1290.2C1413.1 1279.9 1423.3 1269.9 1432.1 1259.5C1441.0 1249.1 1447.9 1236.0 1457.4 1227.8C1466.9 1219.6 1479.9 1217.2 1489.1 1210.4C1498.3 1203.6 1505.3 1196.1 1512.8 1186.8C1520.3 1177.6 1525.5 1167.0 1534.0 1154.9C1542.5 1142.9 1553.6 1126.5 1563.8 1114.6C1573.9 1102.7 1587.0 1095.7 1594.7 1083.8C1602.4 1071.8 1602.3 1053.9 1609.8 1043.0C1617.4 1032.1 1629.6 1024.3 1640.1 1018.3C1650.7 1012.3 1664.1 1008.5 1673.2 1006.9C1682.2 1005.3 1690.8 1008.4 1694.4 1008.8" stroke="#00f" stroke-width="1.7" stroke-opacity="0.49" fill="none"/><path d="M1080.7 1575.2C1084.8 1575.8 1096.7 1578.6 1105.2 1578.8C1113.6 1579.0 1122.9 1580.9 1131.5 1576.3C1140.1 1571.8 1147.6 1562.3 1156.6 1551.5C1165.6 1540.8 1175.6 1524.6 1185.4 1512.1C1195.2 1499.6 1206.1 1487.8 1215.3 1476.6C1224.4 1465.4 1231.5 1455.7 1240.3 1444.7C1249.1 1433.7 1258.1 1420.2 1268.0 1410.6C1277.9 1401.1 1288.6 1395.1 1299.7 1387.5C1310.8 1379.9 1325.6 1371.8 1334.7 1364.9C1343.7 1358.1 1346.1 1353.2 1354.2 1346.5C1362.4 1339.8 1374.9 1334.2 1383.5 1325.0C1392.1 1315.8 1397.2 1301.8 1405.9 1291.5C1414.7 1281.2 1426.9 1272.9 1436.1 1263.2C1445.3 1253.5 1451.5 1241.0 1461.2 1233.5C1471.0 1226.1 1485.8 1226.2 1494.5 1218.4C1503.1 1210.7 1504.6 1196.3 1513.0 1187.1C1521.5 1177.9 1535.9 1174.5 1545.3 1163.1C1554.7 1151.8 1559.9 1131.2 1569.4 1119.0C1579.0 1106.9 1595.1 1102.2 1602.6 1090.2C1610.2 1078.2 1608.5 1059.2 1614.7 1047.1C1620.9 1035.1 1629.7 1024.1 1639.6 1017.7C1649.5 1011.4 1665.1 1010.4 1674.2 1009.0C1683.4 1007.6 1691.1 1009.2 1694.5 1009.3" stroke="#00f" stroke-width="1.6" stroke-opacity="0.62" fill="none"/><path d="M1081.0 1573.7C1085.0 1574.4 1096.6 1577.2 1105.2 1578.0C1113.8 1578.9 1124.4 1583.5 1132.6 1578.7C1140.7 1574.0 1145.4 1560.5 1154.1 1549.3C1162.8 1538.2 1174.4 1523.7 1184.8 1511.6C1195.1 1499.6 1206.8 1488.3 1216.1 1477.2C1225.4 1466.1 1231.8 1455.8 1240.6 1444.9C1249.4 1433.9 1258.6 1420.6 1268.7 1411.5C1278.8 1402.4 1289.8 1397.1 1301.3 1390.3C1312.9 1383.5 1327.8 1376.4 1338.1 1370.7C1348.4 1365.0 1355.9 1364.2 1363.2 1356.4C1370.6 1348.5 1373.9 1333.9 1382.0 1323.8C1390.2 1313.8 1403.5 1306.6 1412.0 1296.0C1420.4 1285.4 1424.4 1270.3 1432.7 1260.1C1441.1 1249.9 1451.4 1241.2 1462.1 1234.9C1472.8 1228.5 1488.3 1229.9 1496.8 1222.0C1505.3 1214.0 1505.0 1197.0 1513.4 1187.4C1521.7 1177.8 1538.0 1176.0 1546.8 1164.2C1555.5 1152.4 1557.4 1129.3 1566.0 1116.3C1574.6 1103.4 1589.9 1098.0 1598.3 1086.7C1606.7 1075.4 1608.1 1058.4 1616.3 1048.5C1624.5 1038.6 1638.0 1034.0 1647.5 1027.1C1657.0 1020.2 1665.1 1008.9 1673.2 1007.0C1681.3 1005.1 1692.2 1014.1 1696.0 1015.5" stroke="#00f" stroke-width="1.1" stroke-opacity="0.55" fill="none"/><path d="M1271.7 1414.9C1276.7 1410.9 1290.2 1397.6 1301.6 1390.7C1312.9 1383.7 1329.1 1378.7 1339.6 1373.2C1350.2 1367.8 1357.0 1365.8 1364.9 1358.2C1372.8 1350.6 1379.1 1338.1 1386.8 1327.6C1394.4 1317.1 1402.3 1305.6 1410.7 1295.0C1419.1 1284.5 1427.6 1272.7 1437.1 1264.1C1446.6 1255.5 1458.4 1251.3 1467.9 1243.5C1477.3 1235.7 1482.9 1223.7 1493.8 1217.4C1504.6 1211.1 1524.5 1214.8 1533.2 1205.8C1541.8 1196.8 1537.1 1175.9 1545.6 1163.3C1554.1 1150.8 1573.6 1141.9 1584.2 1130.5C1594.8 1119.2 1600.8 1106.7 1609.0 1095.4C1617.1 1084.1 1626.2 1073.7 1633.0 1062.8C1639.7 1051.8 1641.2 1035.6 1649.7 1029.8C1658.2 1024.0 1676.0 1030.1 1683.8 1028.2C1691.7 1026.4 1694.6 1020.2 1696.8 1018.6" stroke="#00f" stroke-width="2.0" stroke-opacity="0.55" fill="none"/><path d="M1388.3 1328.8C1392.2 1323.3 1403.2 1306.2 1411.9 1295.9C1420.5 1285.6 1431.3 1276.3 1440.4 1267.1C1449.4 1258.0 1456.1 1247.4 1466.2 1241.0C1476.3 1234.6 1490.3 1234.7 1501.2 1228.6C1512.2 1222.5 1523.4 1214.7 1531.8 1204.5C1540.3 1194.4 1542.1 1179.4 1551.7 1167.8C1561.3 1156.1 1578.9 1145.8 1589.5 1134.6C1600.1 1123.4 1606.8 1111.4 1615.4 1100.6C1624.0 1089.8 1633.0 1078.6 1641.2 1069.8C1649.4 1061.0 1657.5 1054.5 1664.6 1047.6C1671.7 1040.7 1678.3 1032.6 1683.8 1028.3C1689.3 1024.0 1695.3 1022.8 1697.6 1021.8" stroke="#00f" stroke-width="1.6" stroke-opacity="0.69" fill="none"/><path d="M1342.7 1378.4C1347.0 1375.7 1359.8 1369.5 1368.4 1362.1C1377.1 1354.6 1386.3 1344.1 1394.4 1333.7C1402.5 1323.3 1410.0 1311.4 1417.1 1299.8C1424.3 1288.3 1429.1 1274.2 1437.2 1264.2C1445.3 1254.3 1454.4 1245.3 1465.7 1240.2C1476.9 1235.2 1492.7 1238.9 1504.8 1234.0C1517.0 1229.1 1530.3 1221.5 1538.6 1210.8C1547.0 1200.2 1547.7 1183.8 1554.9 1170.1C1562.2 1156.4 1571.6 1140.1 1582.0 1128.9C1592.5 1117.6 1609.8 1113.9 1617.8 1102.6C1625.9 1091.2 1623.2 1070.5 1630.4 1060.6C1637.6 1050.7 1652.0 1048.6 1661.0 1043.2C1669.9 1037.9 1677.9 1032.1 1684.0 1028.6C1690.1 1025.1 1695.4 1023.2 1697.7 1022.2" stroke="#00f" stroke-width="1.4" stroke-opacity="0.79" fill="none"/><path d="M1346.3 1384.3C1349.4 1380.0 1357.2 1366.9 1364.9 1358.2C1372.5 1349.4 1383.8 1342.0 1392.2 1331.9C1400.5 1321.9 1406.7 1308.8 1414.8 1298.1C1422.9 1287.4 1431.5 1276.0 1440.8 1267.6C1450.1 1259.1 1459.9 1253.1 1470.6 1247.5C1481.2 1242.0 1495.4 1242.0 1505.0 1234.3C1514.7 1226.6 1519.2 1211.4 1528.5 1201.4C1537.8 1191.4 1550.8 1185.6 1560.8 1174.4C1570.8 1163.1 1580.4 1147.0 1588.5 1133.9C1596.6 1120.8 1601.7 1107.3 1609.5 1095.8C1617.2 1084.2 1626.9 1073.8 1635.1 1064.6C1643.3 1055.4 1650.6 1046.8 1658.6 1040.4C1666.6 1034.1 1676.5 1030.0 1683.0 1026.5C1689.4 1023.0 1694.7 1020.8 1697.0 1019.6" stroke="#00f" stroke-width="1.4" stroke-opacity="0.75" fill="none"/><path d="M1309.5 1404.1C1315.4 1400.4 1333.7 1387.4 1344.7 1381.7C1355.7 1375.9 1366.0 1376.7 1375.4 1369.7C1384.9 1362.7 1394.0 1350.7 1401.6 1339.5C1409.2 1328.3 1414.0 1314.3 1420.8 1302.6C1427.6 1290.8 1434.0 1278.0 1442.4 1269.0C1450.8 1260.0 1461.3 1255.1 1471.3 1248.7C1481.4 1242.4 1492.4 1238.0 1502.8 1230.9C1513.1 1223.8 1522.8 1214.7 1533.5 1206.1C1544.2 1197.4 1557.1 1190.3 1567.0 1178.9C1576.9 1167.4 1583.2 1149.0 1592.9 1137.3C1602.5 1125.5 1614.9 1117.9 1625.0 1108.4C1635.1 1098.9 1646.3 1089.7 1653.5 1080.3C1660.7 1070.9 1662.5 1059.3 1668.2 1051.9C1673.9 1044.5 1682.7 1040.6 1687.7 1036.0C1692.7 1031.4 1696.5 1026.2 1698.2 1024.3" stroke="#00f" stroke-width="1.4" stroke-opacity="0.53" fill="none"/><path d="M1394.8 1334.1C1399.1 1328.8 1413.2 1313.8 1420.7 1302.5C1428.2 1291.3 1431.3 1275.4 1439.9 1266.7C1448.5 1257.9 1461.3 1255.4 1472.3 1250.1C1483.2 1244.9 1493.6 1240.8 1505.5 1235.1C1517.5 1229.3 1533.8 1225.2 1543.8 1215.6C1553.8 1206.1 1559.0 1192.1 1565.7 1177.9C1572.4 1163.7 1575.9 1143.4 1584.1 1130.4C1592.2 1117.4 1604.9 1109.9 1614.7 1100.0C1624.4 1090.1 1632.9 1078.1 1642.6 1071.0C1652.3 1063.9 1665.2 1063.1 1672.8 1057.5C1680.4 1051.8 1684.1 1043.0 1688.2 1037.1C1692.4 1031.2 1696.1 1024.6 1697.7 1022.1" stroke="#00f" stroke-width="1.4" stroke-opacity="0.60" fill="none"/><path d="M1244.9 1448.4C1249.5 1442.9 1262.3 1424.3 1272.3 1415.6C1282.3 1407.0 1293.5 1403.1 1304.9 1396.4C1316.3 1389.6 1330.4 1381.1 1340.8 1375.1C1351.2 1369.2 1359.1 1368.3 1367.1 1360.6C1375.1 1353.0 1381.3 1340.0 1388.8 1329.2C1396.3 1318.5 1404.3 1307.1 1412.3 1296.2C1420.3 1285.3 1427.6 1272.6 1436.9 1263.9C1446.3 1255.3 1457.3 1249.6 1468.4 1244.3C1479.4 1238.9 1493.8 1239.3 1503.2 1231.6C1512.7 1223.9 1515.9 1208.1 1525.1 1198.3C1534.3 1188.4 1547.7 1183.3 1558.2 1172.5C1568.6 1161.6 1578.8 1145.7 1587.8 1133.4C1596.9 1121.0 1604.0 1109.2 1612.6 1098.3C1621.2 1087.4 1632.0 1078.3 1639.2 1068.1C1646.3 1057.8 1648.6 1044.3 1655.7 1036.9C1662.8 1029.6 1674.8 1027.1 1681.7 1023.9C1688.5 1020.8 1694.2 1019.0 1696.7 1018.0" stroke="#00f" stroke-width="1.9" stroke-opacity="0.72" fill="none"/><path d="M1248.2 1451.1C1252.5 1445.5 1264.6 1426.8 1274.0 1417.6C1283.4 1408.4 1293.2 1402.5 1304.6 1395.9C1316.1 1389.3 1331.8 1383.6 1342.6 1378.2C1353.5 1372.8 1361.2 1370.9 1369.8 1363.5C1378.4 1356.1 1386.2 1344.1 1394.4 1333.7C1402.6 1323.3 1411.6 1312.6 1419.0 1301.2C1426.3 1289.8 1429.9 1274.3 1438.5 1265.4C1447.2 1256.5 1459.7 1253.0 1470.7 1247.8C1481.8 1242.6 1495.3 1241.9 1505.0 1234.2C1514.6 1226.5 1520.6 1212.5 1528.8 1201.7C1536.9 1190.9 1544.1 1180.8 1553.8 1169.3C1563.5 1157.8 1577.0 1144.4 1586.8 1132.5C1596.6 1120.7 1602.8 1108.1 1612.6 1098.3C1622.4 1088.5 1637.9 1083.2 1645.6 1073.6C1653.3 1064.0 1652.4 1048.2 1658.9 1040.8C1665.4 1033.4 1678.0 1033.0 1684.4 1029.4C1690.7 1025.8 1694.9 1021.1 1697.0 1019.4" stroke="#00f" stroke-width="1.8" stroke-opacity="0.60" fill="none"/><path d="M1347.0 1385.4C1351.3 1382.3 1363.6 1374.4 1372.7 1366.7C1381.7 1358.9 1393.2 1349.9 1401.1 1339.1C1409.0 1328.3 1413.1 1313.6 1420.0 1302.0C1426.8 1290.3 1433.5 1277.4 1442.4 1269.0C1451.2 1260.6 1462.5 1256.9 1473.1 1251.3C1483.7 1245.8 1494.1 1241.5 1505.9 1235.6C1517.6 1229.6 1533.8 1225.2 1543.8 1215.6C1553.8 1206.0 1558.1 1191.4 1565.9 1178.1C1573.8 1164.8 1581.0 1147.3 1591.0 1135.8C1601.0 1124.3 1615.5 1118.4 1625.9 1109.1C1636.3 1099.9 1646.7 1090.2 1653.5 1080.3C1660.3 1070.5 1660.7 1057.1 1666.5 1049.9C1672.3 1042.7 1683.0 1041.6 1688.2 1037.1C1693.5 1032.6 1696.3 1025.3 1697.9 1023.0" stroke="#00f" stroke-width="2.0" stroke-opacity="0.53" fill="none"/><path d="M1271.1 1414.2C1276.1 1410.2 1290.2 1397.7 1301.2 1390.1C1312.2 1382.5 1326.6 1374.4 1336.9 1368.6C1347.1 1362.9 1354.9 1363.0 1362.6 1355.7C1370.3 1348.4 1375.7 1335.3 1383.1 1324.7C1390.5 1314.1 1398.1 1302.5 1406.9 1292.2C1415.6 1281.8 1426.4 1272.3 1435.5 1262.6C1444.6 1252.9 1452.6 1242.7 1461.4 1233.9C1470.3 1225.0 1479.2 1216.7 1488.6 1209.6C1498.0 1202.6 1507.6 1198.8 1517.9 1191.6C1528.2 1184.5 1541.8 1178.9 1550.5 1166.9C1559.2 1154.9 1563.0 1133.6 1570.1 1119.6C1577.3 1105.5 1583.7 1092.8 1593.4 1082.7C1603.1 1072.6 1619.8 1068.6 1628.4 1058.9C1637.0 1049.1 1636.7 1031.0 1645.2 1024.4C1653.8 1017.9 1671.3 1022.1 1679.5 1019.7C1687.8 1017.3 1692.2 1011.7 1694.7 1010.1" stroke="#00f" stroke-width="1.8" stroke-opacity="0.58" fill="none"/><path d="M1337.4 1369.5C1342.1 1367.7 1356.2 1364.9 1365.3 1358.6C1374.4 1352.3 1384.4 1342.3 1391.8 1331.7C1399.3 1321.0 1402.4 1305.7 1410.1 1294.6C1417.8 1283.5 1428.3 1273.3 1438.0 1264.9C1447.7 1256.6 1458.5 1251.3 1468.5 1244.4C1478.4 1237.5 1487.9 1230.7 1497.7 1223.4C1507.6 1216.0 1518.5 1209.7 1527.4 1200.5C1536.4 1191.2 1543.6 1180.5 1551.5 1167.6C1559.4 1154.8 1564.9 1135.0 1574.8 1123.2C1584.7 1111.5 1600.3 1106.2 1611.1 1097.1C1621.8 1087.9 1631.9 1078.3 1639.3 1068.2C1646.7 1058.2 1648.5 1044.2 1655.5 1036.7C1662.5 1029.3 1674.5 1026.1 1681.5 1023.5C1688.4 1020.9 1694.8 1021.5 1697.4 1021.1" stroke="#00f" stroke-width="1.6" stroke-opacity="0.71" fill="none"/><path d="M1333.5 1363.0C1337.0 1360.3 1346.8 1353.7 1354.8 1347.1C1362.7 1340.4 1372.5 1332.3 1381.1 1323.0C1389.6 1313.8 1397.8 1302.3 1406.3 1291.7C1414.8 1281.1 1423.5 1270.1 1432.1 1259.5C1440.7 1248.9 1447.5 1235.4 1457.6 1228.1C1467.7 1220.8 1482.1 1221.3 1492.6 1215.6C1503.1 1210.0 1511.9 1203.0 1520.8 1194.3C1529.7 1185.6 1536.7 1175.2 1545.8 1163.5C1555.0 1151.8 1566.1 1136.0 1575.8 1124.0C1585.6 1112.0 1597.0 1103.7 1604.2 1091.5C1611.4 1079.3 1612.2 1062.0 1619.1 1050.9C1626.0 1039.8 1636.3 1031.5 1645.7 1024.9C1655.0 1018.3 1667.2 1013.9 1675.4 1011.3C1683.5 1008.7 1691.3 1009.7 1694.5 1009.4" stroke="#00f" stroke-width="1.6" stroke-opacity="0.68" fill="none"/><path d="M1306.6 1399.1C1312.3 1395.3 1330.3 1381.4 1341.3 1376.0C1352.4 1370.7 1364.2 1374.2 1373.0 1367.1C1381.8 1359.9 1386.4 1344.4 1394.0 1333.4C1401.6 1322.4 1411.2 1312.3 1418.5 1300.9C1425.8 1289.4 1429.1 1273.6 1437.7 1264.7C1446.4 1255.7 1459.5 1252.8 1470.3 1247.2C1481.1 1241.5 1491.5 1237.0 1502.6 1230.7C1513.7 1224.3 1528.1 1219.2 1536.8 1209.2C1545.6 1199.1 1546.6 1182.9 1555.2 1170.3C1563.8 1157.8 1577.8 1144.9 1588.5 1133.8C1599.1 1122.8 1609.6 1113.6 1619.3 1103.8C1629.1 1093.9 1640.3 1085.1 1647.0 1074.8C1653.7 1064.5 1653.9 1050.1 1659.7 1041.8C1665.6 1033.5 1675.9 1028.0 1682.3 1025.2C1688.7 1022.4 1695.7 1024.9 1698.3 1024.8" stroke="#00f" stroke-width="1.8" stroke-opacity="0.77" fill="none"/><path d="M1241.2 1445.4C1246.1 1440.1 1260.1 1422.0 1270.5 1413.6C1281.0 1405.1 1291.7 1400.3 1303.9 1394.6C1316.0 1388.9 1333.5 1385.8 1343.4 1379.5C1353.3 1373.2 1355.9 1364.9 1363.4 1356.6C1371.0 1348.2 1380.1 1338.9 1389.0 1329.4C1397.8 1319.8 1408.7 1310.5 1416.4 1299.3C1424.1 1288.1 1427.0 1272.3 1435.1 1262.3C1443.3 1252.3 1455.0 1246.4 1465.2 1239.5C1475.4 1232.6 1485.7 1227.5 1496.2 1221.0C1506.7 1214.6 1518.8 1209.9 1528.0 1201.0C1537.2 1192.1 1542.5 1179.6 1551.4 1167.6C1560.3 1155.5 1573.1 1141.4 1581.6 1128.5C1590.1 1115.6 1594.3 1101.3 1602.6 1090.2C1610.9 1079.0 1623.2 1071.0 1631.6 1061.6C1640.0 1052.2 1645.0 1040.6 1653.1 1033.8C1661.1 1027.0 1672.8 1023.3 1680.1 1020.8C1687.4 1018.3 1694.0 1019.1 1696.8 1018.7" stroke="#00f" stroke-width="1.8" stroke-opacity="0.51" fill="none"/><path d="M1393.2 1332.7C1397.9 1327.8 1413.5 1314.0 1421.2 1302.9C1429.0 1291.9 1431.9 1276.5 1439.6 1266.4C1447.2 1256.3 1455.9 1247.3 1467.2 1242.5C1478.5 1237.7 1495.0 1242.6 1507.2 1237.5C1519.3 1232.4 1530.0 1221.8 1539.9 1212.0C1549.8 1202.2 1559.0 1192.0 1566.6 1178.5C1574.2 1165.1 1577.6 1144.7 1585.3 1131.4C1593.0 1118.1 1602.6 1108.0 1612.9 1098.6C1623.2 1089.1 1638.9 1083.9 1647.0 1074.8C1655.1 1065.7 1655.2 1051.4 1661.5 1043.9C1667.7 1036.3 1678.4 1033.1 1684.4 1029.4C1690.4 1025.6 1695.3 1022.7 1697.5 1021.4" stroke="#00f" stroke-width="1.4" stroke-opacity="0.68" fill="none"/><path d="M1243.7 1447.4C1248.1 1441.7 1260.2 1421.9 1270.3 1413.3C1280.4 1404.6 1292.8 1402.2 1304.4 1395.4C1315.9 1388.7 1330.3 1380.2 1339.5 1372.9C1348.6 1365.7 1351.5 1359.7 1359.4 1352.1C1367.3 1344.6 1378.1 1337.1 1386.9 1327.7C1395.6 1318.3 1403.9 1306.8 1412.0 1296.0C1420.1 1285.1 1426.9 1272.5 1435.4 1262.5C1443.8 1252.4 1452.1 1242.0 1462.6 1235.6C1473.1 1229.2 1486.9 1229.5 1498.3 1224.1C1509.6 1218.8 1522.5 1213.4 1530.9 1203.7C1539.3 1193.9 1541.5 1179.1 1548.8 1165.7C1556.1 1152.3 1564.2 1134.5 1574.7 1123.1C1585.1 1111.7 1603.9 1109.3 1611.4 1097.4C1619.0 1085.4 1612.0 1061.0 1619.8 1051.5C1627.7 1042.1 1648.9 1046.3 1658.7 1040.5C1668.4 1034.8 1672.0 1021.5 1678.2 1017.0C1684.3 1012.5 1692.7 1014.1 1695.5 1013.5" stroke="#00f" stroke-width="1.8" stroke-opacity="0.63" fill="none"/><path d="M1372.2 1366.2C1376.0 1360.8 1387.7 1345.4 1395.1 1334.3C1402.5 1323.2 1409.4 1310.9 1416.7 1299.5C1424.0 1288.1 1430.5 1275.3 1439.0 1265.9C1447.5 1256.4 1456.3 1248.0 1467.4 1242.9C1478.5 1237.7 1493.4 1240.2 1505.6 1235.1C1517.7 1230.0 1532.7 1223.7 1540.4 1212.5C1548.2 1201.3 1543.4 1180.7 1552.1 1168.0C1560.7 1155.4 1580.6 1147.2 1592.1 1136.7C1603.6 1126.2 1612.4 1116.0 1620.9 1105.1C1629.3 1094.1 1635.4 1080.6 1642.8 1071.2C1650.1 1061.7 1657.9 1054.7 1665.0 1048.1C1672.2 1041.6 1680.1 1035.6 1685.7 1031.9C1691.3 1028.2 1696.5 1027.0 1698.6 1026.0" stroke="#00f" stroke-width="1.3" stroke-opacity="0.77" fill="none"/><path d="M1338.7 1371.6C1342.1 1368.4 1351.2 1359.4 1359.4 1352.2C1367.7 1345.0 1380.1 1338.6 1388.1 1328.7C1396.1 1318.7 1399.7 1303.8 1407.4 1292.6C1415.2 1281.4 1424.9 1270.6 1434.4 1261.6C1444.0 1252.7 1454.8 1246.1 1464.7 1238.8C1474.7 1231.5 1485.1 1225.5 1493.9 1217.6C1502.7 1209.7 1508.4 1199.9 1517.7 1191.5C1527.1 1183.0 1540.9 1178.2 1550.2 1166.7C1559.5 1155.2 1565.2 1135.3 1573.6 1122.3C1582.1 1109.3 1591.6 1099.2 1601.0 1088.8C1610.3 1078.4 1620.8 1068.9 1629.6 1059.9C1638.4 1050.9 1645.5 1041.4 1653.9 1034.8C1662.3 1028.3 1672.9 1023.6 1680.0 1020.5C1687.0 1017.4 1693.5 1017.1 1696.2 1016.4" stroke="#00f" stroke-width="2.4" stroke-opacity="0.85" fill="none"/><path d="M1335.1 1365.7C1339.2 1363.5 1352.1 1359.7 1359.9 1352.7C1367.7 1345.7 1373.8 1333.6 1382.0 1323.8C1390.3 1314.0 1400.5 1304.2 1409.4 1294.1C1418.4 1283.9 1426.5 1272.0 1435.8 1262.9C1445.0 1253.7 1455.4 1246.9 1465.1 1239.4C1474.9 1231.9 1484.3 1225.0 1494.1 1218.0C1504.0 1211.0 1515.8 1206.7 1524.2 1197.5C1532.6 1188.3 1535.6 1174.6 1544.7 1162.7C1553.9 1150.9 1570.1 1139.1 1579.0 1126.5C1587.9 1113.8 1591.4 1099.1 1598.4 1086.7C1605.4 1074.4 1613.0 1062.7 1621.0 1052.6C1629.1 1042.4 1637.3 1032.6 1646.4 1025.9C1655.6 1019.1 1667.5 1013.9 1675.7 1012.0C1683.9 1010.1 1692.4 1014.1 1695.8 1014.5" stroke="#00f" stroke-width="2.4" stroke-opacity="0.85" fill="none"/><path d="M1337.4 1369.6C1341.0 1366.5 1350.8 1358.6 1358.5 1351.2C1366.2 1343.7 1375.3 1334.8 1383.4 1324.9C1391.4 1315.0 1398.1 1302.5 1406.7 1292.1C1415.3 1281.6 1425.7 1271.6 1434.9 1262.1C1444.1 1252.5 1451.9 1241.8 1461.9 1234.6C1471.9 1227.4 1484.7 1225.4 1494.8 1218.9C1504.9 1212.5 1515.5 1206.2 1522.6 1196.0C1529.8 1185.8 1530.3 1170.8 1537.6 1157.6C1544.9 1144.3 1555.6 1127.9 1566.4 1116.6C1577.2 1105.4 1594.3 1101.6 1602.3 1090.0C1610.4 1078.4 1607.6 1058.1 1614.7 1047.1C1621.8 1036.1 1634.3 1029.1 1644.9 1024.1C1655.6 1019.1 1670.0 1019.6 1678.3 1017.2C1686.6 1014.8 1691.9 1011.0 1694.6 1009.7" stroke="#00f" stroke-width="2.4" stroke-opacity="0.85" fill="none"/><path d="M1334.8 1365.2C1339.4 1363.6 1354.6 1362.4 1362.4 1355.4C1370.2 1348.5 1373.6 1333.6 1381.6 1323.4C1389.5 1313.3 1401.4 1305.0 1410.3 1294.7C1419.1 1284.4 1426.2 1272.2 1434.6 1261.8C1443.0 1251.4 1450.8 1240.0 1460.5 1232.5C1470.3 1225.0 1483.6 1223.4 1493.3 1216.7C1503.1 1210.1 1510.2 1201.5 1519.1 1192.7C1527.9 1183.9 1538.1 1176.3 1546.5 1164.0C1554.9 1151.8 1560.6 1131.7 1569.6 1119.2C1578.7 1106.6 1592.3 1099.9 1600.8 1088.7C1609.3 1077.6 1612.5 1062.1 1620.5 1052.1C1628.5 1042.1 1639.3 1034.8 1648.8 1028.7C1658.3 1022.6 1669.9 1018.7 1677.5 1015.6C1685.2 1012.6 1691.9 1011.1 1694.7 1010.2" stroke="#00f" stroke-width="2.4" stroke-opacity="0.85" fill="none"/><path d="M1105.9 1570.0C1109.4 1569.3 1119.7 1570.2 1126.9 1565.9C1134.0 1561.7 1140.5 1554.7 1148.6 1544.5C1156.7 1534.4 1166.6 1517.8 1175.6 1504.9C1184.7 1492.0 1193.4 1478.2 1202.9 1467.1C1212.4 1456.0 1222.7 1448.8 1232.7 1438.4C1242.6 1428.0 1252.6 1414.8 1262.7 1404.6C1272.9 1394.4 1288.6 1381.9 1293.7 1377.4" stroke="#00f" stroke-width="1.8" stroke-opacity="0.55" stroke-dasharray="2 3" fill="none"/><path d="M1360.6 1306.6C1366.5 1302.8 1385.4 1293.2 1395.9 1283.9C1406.3 1274.7 1414.3 1262.6 1423.3 1251.3C1432.2 1240.0 1440.0 1225.0 1449.6 1216.0C1459.1 1207.0 1472.2 1204.3 1480.4 1197.3C1488.5 1190.2 1495.6 1177.6 1498.6 1173.7" stroke="#00f" stroke-width="1.8" stroke-opacity="0.55" stroke-dasharray="2 3" fill="none"/><path d="M1144.1 1540.6C1147.8 1533.5 1157.4 1511.0 1166.0 1497.8C1174.7 1484.7 1185.9 1472.6 1196.0 1461.8C1206.0 1451.1 1215.7 1443.3 1226.4 1433.3C1237.1 1423.3 1249.2 1411.2 1260.3 1401.8C1271.4 1392.3 1287.7 1380.6 1293.1 1376.4" stroke="#00f" stroke-width="1.8" stroke-opacity="0.55" stroke-dasharray="2 3" fill="none"/><path d="M1294.7 1379.0C1299.9 1374.3 1317.1 1357.1 1326.1 1350.8C1335.2 1344.4 1341.9 1347.0 1348.9 1340.6C1355.8 1334.2 1359.3 1321.3 1367.6 1312.3C1376.0 1303.2 1393.8 1290.6 1399.0 1286.3" stroke="#00f" stroke-width="1.8" stroke-opacity="0.55" stroke-dasharray="2 3" fill="none"/><path d="M1290.9 1372.6C1296.9 1369.2 1318.2 1358.4 1327.0 1352.2C1335.8 1346.0 1337.4 1342.0 1343.9 1335.2C1350.5 1328.4 1357.9 1319.9 1366.5 1311.3C1375.0 1302.7 1385.6 1293.3 1395.4 1283.6C1405.2 1273.8 1420.2 1258.2 1425.2 1253.1" stroke="#00f" stroke-width="1.8" stroke-opacity="0.55" stroke-dasharray="2 3" fill="none"/><path d="M1227.7 1434.4C1233.6 1429.5 1252.1 1414.4 1263.4 1405.4C1274.7 1396.3 1284.7 1388.9 1295.4 1380.2C1306.0 1371.5 1318.5 1359.6 1327.5 1353.1C1336.6 1346.7 1343.0 1348.3 1349.6 1341.4C1356.2 1334.6 1359.6 1321.6 1367.4 1312.1C1375.2 1302.5 1391.6 1289.0 1396.4 1284.3" stroke="#00f" stroke-width="1.8" stroke-opacity="0.55" stroke-dasharray="2 3" fill="none"/><path d="M1373.2 1316.7C1377.7 1311.8 1391.0 1297.2 1400.3 1287.2C1409.7 1277.3 1420.6 1268.0 1429.2 1256.8C1437.9 1245.6 1443.8 1230.1 1452.3 1220.1C1460.8 1210.2 1472.2 1204.5 1480.2 1197.0C1488.1 1189.4 1496.7 1178.7 1500.0 1175.0" stroke="#00f" stroke-width="1.8" stroke-opacity="0.55" stroke-dasharray="2 3" fill="none"/><path d="M1133 1524L1150 1523L1168 1518L1180 1512" stroke="#00f" stroke-width="2.2" stroke-opacity="0.6" stroke-dasharray="2.5 2" fill="none"/><path d="M1138 1551L1152 1548L1166 1545L1178 1540" stroke="#00f" stroke-width="2.2" stroke-opacity="0.6" stroke-dasharray="2.5 2" fill="none"/><path d="M1110 1568L1125 1565L1140 1560" stroke="#00f" stroke-width="2.2" stroke-opacity="0.6" stroke-dasharray="2.5 2" fill="none"/><path d="M1169 1503L1185 1500L1200 1494" stroke="#00f" stroke-width="2.2" stroke-opacity="0.6" stroke-dasharray="2.5 2" fill="none"/><path d="M1202 1471L1220 1462L1235 1452" stroke="#00f" stroke-width="2.2" stroke-opacity="0.6" stroke-dasharray="2.5 2" fill="none"/><path d="M1287 1370L1300 1362L1316 1352" stroke="#00f" stroke-width="2.2" stroke-opacity="0.6" stroke-dasharray="2.5 2" fill="none"/><path d="M1323 1339L1345 1333L1362 1326" stroke="#00f" stroke-width="2.2" stroke-opacity="0.6" stroke-dasharray="2.5 2" fill="none"/><path d="M1364 1305L1382 1300L1398 1290" stroke="#00f" stroke-width="2.2" stroke-opacity="0.6" stroke-dasharray="2.5 2" fill="none"/><path d="M1612 1040Q1630 1015 1648 998Q1690 972 1754 968" stroke="#00f" stroke-width="4" stroke-opacity="0.85" fill="none"/><path d="M1660 992Q1700 978 1742 976" stroke="#00f" stroke-width="2.5" stroke-opacity="0.55" fill="none"/><path d="M1690 1000H1712M1712 986L1722 990M1728 978L1738 981M1660 1002L1680 996" stroke="#00f" stroke-width="2.5" stroke-opacity="0.55" fill="none"/><path d="M1608 1042L1640 1007" stroke="#00f" stroke-width="2" stroke-opacity="0.5" stroke-dasharray="2.5 2.5" fill="none"/><path d="M1638.2 970h0M1626.1 984.4h0M1706.1 958.1h0M1694.6 957.2h0M1626.6 996.4h0M1670.5 970.4h0M1668 966h0M1681.3 958.1h0M1637.6 984.4h0M1702 966h0" stroke="#00f" stroke-width="4.6" stroke-linecap="round" stroke-opacity="0.5" fill="none"/><path d="M1649.3 971h0M1659.3 970.6h0M1637.6 997.8h0M1678 962h0M1718 957.5h0M1690 968h0M1648.8 996.2h0M1626 970.7h0M1648.4 984.2h0M1730 958.4h0" stroke="#00f" stroke-width="4.6" stroke-linecap="round" stroke-opacity="0.5" fill="none"/><ellipse cx="1697" cy="1024" rx="7" ry="15" stroke="#00f" stroke-width="1.8" stroke-opacity="0.8" fill="none"/><ellipse cx="1700" cy="1026" rx="10" ry="17" stroke="#00f" stroke-width="1.8" stroke-opacity="0.8" fill="none"/><ellipse cx="1693" cy="1022" rx="5" ry="11" stroke="#00f" stroke-width="1.8" stroke-opacity="0.8" fill="none"/><path d="M603.1 1112.0L614.7 1100.5L628.6 1086.6L643.7 1069.2L661.0 1048.4L678.4 1028.7L695.7 1010.2L713.1 998.6L730.5 989.4L747.8 984.7L760.6 973.1L770.0 956.0L771.0 985.0L765.0 1000.0L759.4 999.0L736.3 1016.0L707.3 1034.0L684.2 1057.0L661.0 1074.5L643.7 1092.0L632.1 1109.0L615.0 1118.0Z" fill="#00f" fill-opacity="0.45"/><path d="M608.1 1138.6L611.5 1135.5L615.0 1132.4L618.4 1129.3L621.8 1126.1L625.2 1122.8L628.6 1119.6L632.0 1116.3L635.4 1112.9L638.6 1109.5L641.7 1105.9L644.8 1102.3L647.8 1098.6L650.6 1094.6L653.4 1090.7L656.1 1086.7L658.9 1082.7L661.6 1078.7L664.3 1074.8L667.0 1070.9L669.5 1066.9L672.1 1063.1L674.7 1059.2L677.3 1055.5L680.0 1051.7L682.7 1048.1L685.4 1044.4L688.0 1040.9L690.7 1037.3L693.4 1033.9L696.1 1030.5L698.9 1027.1L701.7 1023.7L704.8 1020.7L708.1 1018.0L711.4 1015.3L714.7 1012.7L718.1 1010.0L721.5 1007.4L725.1 1005.0L728.6 1002.6L732.2 1000.2L735.7 997.7L739.4 995.8L743.1 994.0L746.8 992.1L750.4 990.1L753.4 987.1L756.2 983.7L758.9 980.2L761.6 976.8L763.6 972.9L765.3 968.7L766.9 964.4L768.5 960.2L770.1 956.0" stroke="#00f" stroke-width="2.2" stroke-opacity="0.6" fill="none"/><path d="M603.8 1114.5L606.9 1111.5L609.9 1108.6L613.0 1105.6L616.0 1102.7L619.1 1099.7L622.1 1096.7L625.2 1093.8L628.3 1090.8L631.2 1087.7L634.0 1084.6L636.9 1081.4L639.7 1078.3L642.5 1075.1L645.3 1071.9L648.1 1068.6L650.8 1065.3L653.6 1062.1L656.3 1058.8L659.1 1055.5L661.8 1052.2L664.6 1049.0L667.4 1045.7L670.2 1042.5L673.0 1039.3L675.8 1036.0L678.5 1032.8L681.3 1029.6L684.2 1026.4L687.0 1023.2L689.9 1020.0L692.7 1016.9L695.6 1013.7L698.7 1010.9L702.2 1008.4L705.6 1006.0L709.1 1003.5L712.6 1001.1L716.2 998.8L719.8 996.8L723.5 994.7L727.2 992.6L730.9 990.5L734.9 989.2L738.9 988.0L743.0 986.8L747.0 985.6L750.4 983.2L753.4 980.3L756.5 977.4L759.6 974.5L762.0 971.0L764.0 967.3L766.0 963.5L768.0 959.8L770.0 956.0" stroke="#00f" stroke-width="2.2" stroke-opacity="0.6" fill="none"/><path d="M608.5 1120.2L611.8 1117.2L615.0 1114.3L618.2 1111.3L621.4 1108.4L624.6 1105.4L627.8 1102.5L631.0 1099.5L634.2 1096.5L637.2 1093.3L640.2 1090.1L643.2 1087.0L646.1 1083.6L649.0 1080.3L651.8 1076.9L654.6 1073.5L657.4 1070.1L660.2 1066.6L663.0 1063.2L665.7 1059.7L668.5 1056.3L671.2 1052.8L674.0 1049.4L676.7 1045.9L679.5 1042.5L682.2 1039.0L684.9 1035.6L687.7 1032.2L690.4 1028.8L693.1 1025.4L695.9 1022.1L698.6 1018.7L701.7 1015.7L705.0 1013.0L708.3 1010.3L711.7 1007.7L715.0 1005.0L718.5 1002.6L722.0 1000.2L725.6 997.9L729.2 995.6L732.8 993.4L736.6 991.8L740.5 990.3L744.4 988.8L748.2 987.2L751.5 984.6L754.4 981.5L757.4 978.4L760.3 975.3L762.6 971.7L764.5 967.8L766.3 963.8L768.2 959.9L770.0 956.0" stroke="#00f" stroke-width="1.7" stroke-opacity="0.6" fill="none"/><path d="M607.4 1160.2L611.4 1157.4L615.2 1154.3L618.9 1151.1L622.7 1147.9L626.4 1144.7L630.2 1141.6L634.0 1138.6L637.8 1135.5L641.6 1132.5L645.4 1129.3L649.0 1126.2L652.7 1123.0L656.3 1119.7L659.5 1116.0L662.7 1112.2L665.8 1108.4L669.0 1104.7L672.1 1100.9L675.3 1097.1L678.5 1093.4L681.2 1089.4L684.0 1085.4L686.7 1081.4L689.5 1077.4L692.2 1073.4L695.0 1069.4L697.7 1065.4L700.1 1061.3L702.5 1057.3L705.0 1053.2L707.4 1049.2L709.8 1045.1L712.3 1041.1L714.9 1037.2L717.7 1033.6L720.5 1030.0L723.3 1026.4L726.1 1022.8L728.9 1019.4L732.0 1016.0L735.0 1012.7L738.1 1009.3L741.2 1005.9L744.3 1003.0L747.5 1000.2L750.6 997.3L753.7 994.4L756.3 990.7L758.6 986.7L761.0 982.7L763.3 978.7L765.0 974.3L766.3 969.8L767.6 965.2L768.9 960.6L770.2 956.0" stroke="#00f" stroke-width="1.8" stroke-opacity="0.45" fill="none"/><path d="M656.9 1163.1L661.1 1159.7L665.4 1156.4L669.6 1153.0L673.1 1148.8L676.7 1144.8L680.2 1140.8L683.9 1136.9L687.5 1133.1L691.2 1129.4L695.0 1125.7L698.1 1121.6L701.1 1117.5L704.1 1113.5L707.2 1109.4L710.3 1105.4L713.4 1101.4L716.4 1097.3L718.8 1093.0L721.1 1088.6L723.4 1084.2L725.7 1079.7L728.0 1075.1L730.2 1070.5L732.4 1065.9L734.7 1061.4L736.9 1056.7L739.0 1052.0L741.1 1047.2L743.2 1042.4L745.6 1037.6L747.9 1032.8L750.2 1027.9L752.6 1023.0L754.7 1018.2L756.8 1013.4L758.8 1008.6L760.9 1003.8L762.6 998.7L764.0 993.4L765.5 988.2L767.0 983.0L767.8 977.6L768.4 972.1L769.0 966.7L769.7 961.3L770.4 956.0" stroke="#00f" stroke-width="1.6" stroke-opacity="0.45" fill="none"/><path d="M650.3 1159.3L654.4 1155.7L658.4 1152.1L662.4 1148.4L666.3 1144.6L669.5 1140.1L672.8 1135.7L676.0 1131.2L679.2 1126.8L682.4 1122.5L685.7 1118.2L689.0 1114.0L691.7 1109.4L694.3 1104.8L697.0 1100.4L699.8 1096.0L702.5 1091.6L705.3 1087.3L708.1 1083.0L710.3 1078.6L712.6 1074.2L714.9 1069.9L717.3 1065.6L719.6 1061.3L721.9 1057.0L724.4 1052.8L727.0 1048.8L729.5 1044.8L732.1 1040.7L734.6 1036.6L737.1 1032.6L739.9 1028.6L742.7 1024.6L745.4 1020.5L748.2 1016.4L750.8 1012.6L753.4 1008.6L756.0 1004.7L758.5 1000.6L760.5 996.1L762.4 991.3L764.2 986.5L766.0 981.7L767.1 976.7L767.9 971.5L768.7 966.3L769.5 961.2L770.3 956.0" stroke="#00f" stroke-width="1.4" stroke-opacity="0.45" fill="none"/><path d="M616.5 1104.6L619.6 1101.8L622.8 1099.0L626.0 1096.4L629.2 1093.8L632.3 1091.1L635.4 1088.4L638.5 1085.8L641.7 1083.2L644.8 1080.5L647.9 1077.8L651.0 1075.1L654.1 1072.3L657.2 1069.6L660.3 1066.8L663.4 1064.0L666.4 1061.0L669.4 1058.1L672.4 1055.1L675.4 1052.0L678.4 1048.9L681.3 1045.7L684.2 1042.4L687.0 1039.1L689.7 1035.7L692.4 1032.3L695.1 1028.8L697.8 1025.3L700.4 1021.7L703.4 1018.4L706.5 1015.4L709.6 1012.4L712.8 1009.4L715.9 1006.4L719.1 1003.6L722.5 1001.0L725.9 998.4L729.3 995.8L732.7 993.2L736.4 991.5L740.2 989.8L744.0 988.2L747.8 986.6L751.0 984.0L753.9 980.9L756.9 977.8L759.9 974.8L762.2 971.2L764.2 967.4L766.1 963.6L768.1 959.8L770.0 956.0" stroke="#00f" stroke-width="1.3" stroke-opacity="0.6" fill="none"/><path d="M695.5 1116.7L698.6 1112.9L701.7 1108.9L704.8 1105.0L707.8 1101.0L710.9 1097.0L713.8 1092.8L716.1 1088.4L718.4 1083.9L720.6 1079.4L722.8 1074.8L724.9 1070.1L727.1 1065.4L729.2 1060.7L731.4 1056.0L733.5 1051.3L735.7 1046.5L737.8 1041.7L739.9 1037.0L742.2 1032.3L744.6 1027.7L747.0 1023.0L749.4 1018.3L751.8 1013.9L754.1 1009.5L756.4 1005.2L758.7 1000.9L760.6 996.1L762.3 991.2L764.0 986.4L765.8 981.5L766.9 976.5L767.7 971.3L768.5 966.2L769.4 961.1L770.3 956.0" stroke="#00f" stroke-width="1.6" stroke-opacity="0.45" fill="none"/><path d="M649.7 1174.7L654.2 1171.7L658.8 1168.7L663.3 1165.6L667.8 1162.6L672.2 1159.5L675.8 1155.4L679.5 1151.3L683.1 1147.3L686.8 1143.2L690.4 1139.2L694.1 1135.1L697.7 1131.1L700.6 1126.5L703.4 1121.9L706.2 1117.3L709.0 1112.7L711.8 1108.0L714.6 1103.4L717.3 1098.7L719.3 1093.8L721.3 1088.8L723.3 1083.9L725.3 1078.9L727.2 1073.9L729.2 1068.9L731.2 1064.0L733.3 1059.1L735.4 1054.3L737.5 1049.4L739.5 1044.6L741.6 1039.7L744.0 1035.0L746.4 1030.3L748.8 1025.6L751.2 1020.9L753.5 1016.4L755.7 1011.9L757.9 1007.3L760.1 1002.8L761.9 997.9L763.6 992.8L765.2 987.7L766.8 982.7L767.7 977.4L768.4 972.1L769.0 966.7L769.7 961.3L770.4 956.0" stroke="#00f" stroke-width="1.5" stroke-opacity="0.45" fill="none"/><path d="M601.1 1148.5L604.9 1145.1L608.7 1141.9L612.1 1138.3L615.5 1134.8L618.9 1131.4L622.3 1128.2L625.8 1125.1L629.3 1122.1L632.9 1119.3L636.6 1116.6L640.1 1114.0L643.7 1111.4L647.3 1108.8L651.0 1106.4L654.4 1103.6L657.8 1100.9L661.3 1098.2L664.8 1095.5L668.3 1092.9L671.9 1090.2L675.5 1087.5L678.7 1084.6L682.0 1081.6L685.2 1078.6L688.4 1075.4L691.6 1072.2L694.7 1068.9L697.7 1065.5L700.4 1061.8L703.0 1058.1L705.6 1054.3L708.1 1050.4L710.6 1046.4L713.0 1042.3L715.5 1038.3L718.2 1034.5L720.8 1030.6L723.4 1026.7L726.0 1022.8L728.7 1019.0L731.5 1015.3L734.4 1011.6L737.2 1008.0L740.1 1004.3L743.1 1001.3L746.2 998.3L749.2 995.4L752.4 992.6L755.0 989.0L757.3 985.1L759.8 981.3L762.2 977.5L764.0 973.3L765.5 968.9L767.0 964.6L768.6 960.3L770.1 956.0" stroke="#00f" stroke-width="2.1" stroke-opacity="0.6" fill="none"/><path d="M711.0 1157.0L713.8 1151.6L716.3 1146.1L718.8 1140.5L721.3 1134.8L723.7 1129.2L726.2 1123.5L728.4 1117.7L729.8 1111.7L731.3 1105.6L732.7 1099.6L734.1 1093.6L735.6 1087.7L737.0 1081.7L738.5 1075.9L740.1 1070.2L741.6 1064.5L743.3 1058.8L744.9 1053.3L746.6 1047.8L748.6 1042.4L750.7 1037.2L752.9 1031.9L755.0 1026.7L757.0 1021.6L759.0 1016.5L760.9 1011.4L762.8 1006.3L764.4 1001.0L765.7 995.5L767.1 990.0L768.4 984.6L769.0 978.9L769.4 973.2L769.8 967.5L770.1 961.8L770.4 956.0" stroke="#00f" stroke-width="1.8" stroke-opacity="0.45" fill="none"/><path d="M636.2 1164.1L640.6 1161.6L645.0 1159.2L649.4 1156.7L653.9 1154.3L658.3 1151.7L662.7 1149.2L667.0 1146.5L670.7 1143.0L674.4 1139.4L678.0 1135.8L681.7 1132.1L685.3 1128.4L688.9 1124.6L692.5 1120.8L695.4 1116.4L698.1 1112.0L700.9 1107.5L703.6 1102.9L706.3 1098.3L708.9 1093.6L711.5 1088.8L713.4 1083.8L715.3 1078.8L717.3 1073.8L719.2 1068.8L721.1 1063.8L723.0 1058.7L725.0 1053.8L727.2 1049.1L729.3 1044.4L731.5 1039.8L733.7 1035.1L735.9 1030.6L738.4 1026.3L741.0 1022.0L743.6 1017.8L746.3 1013.6L748.9 1009.7L751.5 1005.9L754.2 1002.2L756.8 998.5L759.0 994.2L761.0 989.7L763.0 985.1L765.0 980.6L766.3 975.8L767.3 970.9L768.3 965.9L769.3 961.0L770.3 956.0" stroke="#00f" stroke-width="1.4" stroke-opacity="0.45" fill="none"/><path d="M693.7 1123.2L696.6 1118.8L699.4 1114.4L702.3 1110.0L705.1 1105.7L708.0 1101.4L711.0 1097.1L713.8 1092.8L716.0 1088.3L718.3 1083.7L720.5 1079.2L722.7 1074.7L725.0 1070.2L727.2 1065.6L729.5 1061.1L731.8 1056.7L734.1 1052.2L736.4 1047.7L738.6 1043.1L740.9 1038.6L743.4 1034.1L745.9 1029.6L748.4 1025.1L750.9 1020.5L753.3 1016.1L755.5 1011.7L757.8 1007.2L760.0 1002.7L761.9 997.8L763.5 992.7L765.1 987.7L766.7 982.6L767.6 977.3L768.3 972.0L769.0 966.6L769.6 961.3L770.3 956.0" stroke="#00f" stroke-width="2.1" stroke-opacity="0.45" fill="none"/><path d="M590.8 1133.3L594.4 1130.6L598.0 1127.9L601.7 1125.3L605.3 1122.6L608.4 1119.5L611.6 1116.4L614.7 1113.3L617.9 1110.2L621.1 1107.2L624.2 1104.2L627.4 1101.2L630.6 1098.3L633.7 1095.2L636.8 1092.2L639.8 1089.1L642.8 1086.1L645.8 1082.9L648.8 1079.8L651.7 1076.6L654.6 1073.5L657.5 1070.3L660.5 1067.1L663.4 1064.0L666.3 1060.7L669.1 1057.5L672.0 1054.3L674.9 1051.1L677.8 1047.9L680.7 1044.6L683.5 1041.3L686.3 1038.0L689.1 1034.7L691.9 1031.4L694.7 1028.0L697.4 1024.6L700.2 1021.2L703.2 1018.2L706.5 1015.4L709.7 1012.6L713.0 1009.8L716.2 1006.9L719.6 1004.3L723.0 1001.8L726.5 999.3L730.0 996.9L733.5 994.4L737.2 992.6L741.0 990.9L744.7 989.3L748.5 987.6L751.7 984.9L754.6 981.7L757.5 978.5L760.4 975.3L762.6 971.7L764.5 967.8L766.3 963.8L768.2 959.9L770.0 956.0" stroke="#00f" stroke-width="2.1" stroke-opacity="0.6" fill="none"/><path d="M590.6 1131.8L594.3 1129.6L598.0 1127.5L601.7 1125.6L605.4 1123.7L608.8 1121.3L612.1 1119.1L615.6 1116.9L619.0 1114.8L622.6 1112.8L626.1 1110.8L629.8 1108.9L633.4 1107.0L637.1 1105.0L640.6 1102.9L644.2 1100.8L647.8 1098.6L651.2 1096.0L654.6 1093.4L657.9 1090.6L661.2 1087.8L664.5 1084.8L667.7 1081.7L670.9 1078.5L673.7 1075.0L676.5 1071.4L679.3 1067.7L682.0 1063.9L684.7 1060.0L687.3 1056.1L689.8 1052.0L692.1 1047.8L694.4 1043.6L696.6 1039.3L698.9 1035.0L701.1 1030.8L703.4 1026.5L705.9 1022.5L708.6 1018.9L711.4 1015.4L714.3 1011.9L717.1 1008.5L720.2 1005.3L723.4 1002.4L726.6 999.5L729.9 996.8L733.3 994.1L736.9 992.2L740.6 990.5L744.4 988.8L748.2 987.2L751.4 984.5L754.3 981.4L757.3 978.3L760.3 975.2L762.6 971.6L764.5 967.7L766.3 963.9L768.2 959.9L770.1 956.0" stroke="#00f" stroke-width="1.9" stroke-opacity="0.6" fill="none"/><path d="M684.6 1138.4L688.1 1134.3L691.6 1130.1L695.1 1126.0L697.9 1121.3L700.6 1116.6L703.3 1111.9L706.0 1107.2L708.7 1102.6L711.4 1097.9L714.0 1093.2L716.0 1088.2L718.0 1083.3L720.0 1078.4L722.0 1073.5L724.0 1068.6L726.0 1063.7L728.1 1058.9L730.3 1054.3L732.5 1049.7L734.7 1045.1L736.9 1040.4L739.2 1035.9L741.7 1031.4L744.2 1027.0L746.8 1022.6L749.3 1018.2L751.8 1014.0L754.2 1009.8L756.7 1005.6L759.1 1001.4L761.0 996.7L762.8 991.8L764.5 987.0L766.3 982.1L767.3 977.0L768.1 971.7L768.8 966.5L769.6 961.2L770.3 956.0" stroke="#00f" stroke-width="1.7" stroke-opacity="0.45" fill="none"/><path d="M689.2 1173.9L693.1 1169.7L697.1 1165.6L701.1 1161.4L705.0 1157.3L709.0 1153.1L712.0 1148.3L714.8 1143.3L717.6 1138.3L720.4 1133.3L723.2 1128.3L726.0 1123.2L728.6 1118.0L730.3 1112.5L732.1 1107.0L733.8 1101.5L735.5 1095.9L737.2 1090.3L738.8 1084.7L740.4 1079.0L742.1 1073.4L743.7 1067.8L745.3 1062.2L746.9 1056.5L748.6 1050.9L750.5 1045.4L752.5 1039.9L754.5 1034.5L756.5 1029.0L758.4 1023.6L760.1 1018.1L761.8 1012.7L763.6 1007.3L764.9 1001.7L766.2 996.0L767.4 990.4L768.6 984.8L769.2 979.1L769.5 973.3L769.8 967.5L770.1 961.8L770.4 956.0" stroke="#00f" stroke-width="1.4" stroke-opacity="0.45" fill="none"/><path d="M696.8 1140.6L700.6 1136.6L703.6 1132.1L706.4 1127.5L709.3 1123.0L712.2 1118.4L715.1 1113.8L718.0 1109.3L720.7 1104.6L722.8 1099.7L724.8 1094.8L726.8 1089.8L728.8 1084.8L730.8 1079.8L732.8 1074.7L734.7 1069.7L736.7 1064.7L738.7 1059.7L740.7 1054.7L742.6 1049.6L744.6 1044.5L746.8 1039.5L749.0 1034.5L751.3 1029.5L753.5 1024.5L755.6 1019.6L757.6 1014.6L759.6 1009.7L761.6 1004.8L763.2 999.5L764.7 994.2L766.1 988.9L767.6 983.6L768.3 978.1L768.8 972.5L769.3 967.0L769.8 961.5L770.4 956.0" stroke="#00f" stroke-width="2.1" stroke-opacity="0.45" fill="none"/><path d="M626.2 1143.9L629.9 1140.5L633.6 1137.1L637.3 1133.8L641.0 1130.6L644.7 1127.4L648.3 1124.1L651.9 1121.0L655.5 1117.8L658.8 1114.2L662.0 1110.7L665.3 1107.2L668.6 1103.7L671.9 1100.3L675.2 1097.0L678.6 1093.7L681.6 1090.1L684.6 1086.5L687.6 1083.0L690.6 1079.4L693.6 1075.9L696.7 1072.3L699.6 1068.7L702.2 1064.9L704.8 1061.1L707.4 1057.3L709.9 1053.4L712.5 1049.5L715.0 1045.5L717.6 1041.7L720.4 1038.0L723.1 1034.3L725.8 1030.6L728.5 1026.8L731.2 1023.0L734.1 1019.4L737.0 1015.7L739.9 1012.1L742.8 1008.4L745.8 1005.1L748.7 1001.9L751.6 998.7L754.5 995.5L757.0 991.6L759.1 987.4L761.4 983.2L763.6 979.0L765.1 974.5L766.4 969.9L767.6 965.2L768.9 960.6L770.2 956.0" stroke="#00f" stroke-width="1.6" stroke-opacity="0.45" fill="none"/><path d="M629.6 1139.3L633.2 1135.7L636.8 1132.2L640.4 1128.7L644.0 1125.3L647.4 1121.7L650.9 1118.3L654.4 1114.8L657.4 1111.0L660.5 1107.2L663.6 1103.5L666.8 1099.8L669.9 1096.3L673.1 1092.7L676.3 1089.3L679.3 1085.6L682.2 1082.0L685.1 1078.4L688.1 1074.9L691.1 1071.4L694.1 1067.9L697.1 1064.4L699.8 1060.7L702.4 1057.1L705.1 1053.5L707.8 1049.8L710.4 1046.1L713.0 1042.4L715.8 1038.8L718.8 1035.4L721.6 1032.0L724.5 1028.5L727.3 1024.9L730.2 1021.4L733.2 1018.0L736.3 1014.6L739.3 1011.1L742.3 1007.6L745.4 1004.5L748.4 1001.4L751.4 998.3L754.3 995.2L756.8 991.4L759.0 987.2L761.3 983.1L763.5 978.9L765.1 974.5L766.3 969.8L767.6 965.2L768.9 960.6L770.2 956.0" stroke="#00f" stroke-width="1.9" stroke-opacity="0.45" fill="none"/><path d="M594.1 1159.6L598.0 1156.8L602.0 1154.0L605.9 1151.3L609.8 1148.5L613.4 1145.4L617.0 1142.2L620.6 1139.1L624.2 1135.9L627.9 1132.8L631.5 1129.8L635.2 1126.7L638.8 1123.7L642.4 1120.6L645.9 1117.4L649.4 1114.2L652.8 1111.0L655.9 1107.4L659.1 1103.8L662.1 1100.1L665.2 1096.5L668.3 1092.9L671.4 1089.2L674.5 1085.6L677.3 1081.8L680.0 1078.0L682.8 1074.2L685.6 1070.4L688.4 1066.6L691.2 1062.8L694.0 1059.0L696.4 1055.1L699.0 1051.3L701.5 1047.4L704.0 1043.6L706.5 1039.7L709.1 1035.8L711.8 1032.2L714.7 1028.8L717.6 1025.4L720.6 1022.1L723.5 1018.7L726.5 1015.4L729.6 1012.3L732.8 1009.2L736.0 1006.1L739.2 1002.9L742.5 1000.4L745.8 997.8L749.1 995.2L752.4 992.7L755.1 989.2L757.6 985.4L760.1 981.6L762.6 977.8L764.4 973.7L765.8 969.2L767.3 964.8L768.7 960.4L770.2 956.0" stroke="#00f" stroke-width="1.8" stroke-opacity="0.6" fill="none"/><path d="M597.3 1151.6L601.2 1149.2L605.2 1146.8L609.1 1144.3L612.7 1141.4L616.2 1138.5L619.8 1135.5L623.4 1132.5L627.0 1129.5L630.6 1126.5L634.2 1123.5L637.8 1120.4L641.3 1117.3L644.6 1114.0L648.0 1110.7L651.3 1107.3L654.4 1103.6L657.3 1099.8L660.3 1095.9L663.2 1092.1L666.1 1088.3L669.0 1084.4L671.9 1080.6L674.5 1076.5L677.1 1072.5L679.8 1068.6L682.4 1064.6L685.1 1060.7L687.7 1056.8L690.4 1052.9L692.8 1049.0L695.3 1045.2L697.9 1041.3L700.4 1037.5L703.0 1033.8L705.5 1030.0L708.4 1026.6L711.4 1023.5L714.5 1020.4L717.6 1017.3L720.7 1014.2L723.9 1011.3L727.2 1008.5L730.6 1005.7L734.0 1002.9L737.3 1000.1L740.8 997.9L744.4 995.7L747.9 993.5L751.3 991.3L754.2 988.1L756.9 984.5L759.5 980.9L762.1 977.3L764.0 973.3L765.6 969.0L767.1 964.7L768.6 960.3L770.1 956.0" stroke="#00f" stroke-width="1.3" stroke-opacity="0.6" fill="none"/><path d="M635.7 1204.8L640.3 1201.2L645.1 1197.8L649.9 1194.5L654.7 1191.3L659.5 1188.1L664.3 1184.9L669.1 1181.7L673.9 1178.6L678.5 1175.3L682.3 1171.0L686.1 1166.6L689.8 1162.4L693.6 1158.1L697.5 1153.9L701.3 1149.7L705.1 1145.6L708.1 1140.8L710.9 1136.0L713.8 1131.2L716.6 1126.4L719.5 1121.6L722.4 1116.8L725.1 1112.0L727.0 1106.8L728.9 1101.7L730.8 1096.5L732.7 1091.3L734.6 1086.1L736.5 1080.8L738.3 1075.5L740.2 1070.3L742.0 1065.0L743.8 1059.7L745.6 1054.4L747.4 1049.1L749.5 1043.8L751.6 1038.6L753.8 1033.3L755.9 1028.0L757.8 1022.7L759.6 1017.4L761.4 1012.1L763.2 1006.8L764.6 1001.3L765.9 995.7L767.2 990.1L768.4 984.6L769.0 978.9L769.3 973.1L769.7 967.4L770.1 961.7L770.4 956.0" stroke="#00f" stroke-width="2.3" stroke-opacity="0.45" fill="none"/><path d="M636.7 1186.5L641.5 1184.4L646.5 1182.5L651.4 1180.5L656.5 1178.6L661.5 1176.6L666.5 1174.5L671.5 1172.4L676.4 1170.1L680.5 1166.6L684.5 1163.1L688.5 1159.4L692.5 1155.6L696.4 1151.7L700.3 1147.7L704.2 1143.6L707.0 1138.8L709.7 1133.8L712.4 1128.6L715.0 1123.4L717.5 1118.1L720.0 1112.7L722.3 1107.2L723.8 1101.4L725.3 1095.6L726.7 1089.7L728.2 1083.8L729.7 1078.0L731.2 1072.1L732.7 1066.4L734.3 1060.8L736.0 1055.3L737.7 1049.8L739.4 1044.4L741.2 1039.2L743.4 1034.1L745.6 1029.2L747.9 1024.3L750.2 1019.5L752.5 1015.0L754.8 1010.5L757.0 1006.1L759.4 1001.8L761.3 997.0L763.0 992.1L764.7 987.2L766.5 982.3L767.5 977.2L768.2 971.9L768.9 966.6L769.7 961.3L770.4 956.0" stroke="#00f" stroke-width="1.8" stroke-opacity="0.45" fill="none"/><path d="M662.0 1147.3L666.1 1144.1L669.5 1140.2L673.0 1136.3L676.5 1132.5L680.1 1128.7L683.6 1125.0L687.2 1121.3L690.9 1117.6L693.9 1113.5L696.8 1109.4L699.7 1105.4L702.7 1101.3L705.7 1097.2L708.7 1093.1L711.5 1088.9L713.8 1084.6L716.1 1080.2L718.4 1075.7L720.7 1071.2L722.9 1066.7L725.1 1062.2L727.4 1057.7L729.7 1053.3L732.0 1048.8L734.3 1044.3L736.6 1039.8L738.9 1035.3L741.4 1030.9L743.9 1026.5L746.4 1022.1L749.0 1017.6L751.4 1013.4L753.8 1009.2L756.2 1005.0L758.6 1000.8L760.5 996.1L762.3 991.2L764.1 986.4L765.8 981.6L766.9 976.5L767.7 971.4L768.6 966.2L769.4 961.1L770.3 956.0" stroke="#00f" stroke-width="1.4" stroke-opacity="0.45" fill="none"/><path d="M646.8 1204.4L651.9 1201.5L656.9 1198.6L661.9 1195.7L667.0 1192.7L671.9 1189.6L676.9 1186.5L681.7 1183.2L685.5 1178.7L689.3 1174.1L693.0 1169.5L696.7 1164.8L700.5 1160.2L704.2 1155.5L707.9 1150.9L710.6 1145.5L713.1 1140.1L715.7 1134.7L718.2 1129.3L720.8 1124.0L723.4 1118.6L725.8 1113.2L727.4 1107.5L729.0 1101.9L730.7 1096.3L732.4 1090.7L734.1 1085.2L735.8 1079.7L737.5 1074.2L739.3 1068.9L741.1 1063.5L742.9 1058.2L744.7 1052.9L746.5 1047.6L748.7 1042.5L750.9 1037.4L753.1 1032.3L755.3 1027.2L757.4 1022.1L759.3 1017.0L761.2 1011.8L763.1 1006.7L764.6 1001.3L765.9 995.8L767.3 990.3L768.6 984.7L769.1 979.0L769.5 973.3L769.8 967.5L770.1 961.8L770.4 956.0" stroke="#00f" stroke-width="1.7" stroke-opacity="0.45" fill="none"/><path d="M633.5 1136.8L637.2 1133.4L640.8 1129.9L644.3 1126.1L647.6 1122.3L650.9 1118.3L654.1 1114.2L656.8 1109.6L659.6 1104.9L662.2 1100.3L664.8 1095.6L667.4 1090.9L669.9 1086.3L672.5 1081.7L674.8 1077.0L677.1 1072.4L679.4 1067.9L681.8 1063.5L684.2 1059.2L686.7 1055.0L689.2 1050.9L691.6 1046.9L694.1 1043.0L696.6 1039.2L699.2 1035.5L701.9 1031.9L704.6 1028.4L707.5 1025.3L710.8 1022.5L714.1 1019.7L717.4 1016.9L720.7 1014.2L724.1 1011.6L727.6 1009.1L731.2 1006.7L734.7 1004.1L738.2 1001.5L741.9 999.4L745.5 997.3L749.0 995.1L752.5 992.8L755.3 989.5L757.9 985.8L760.4 982.1L762.9 978.3L764.7 974.1L766.1 969.6L767.5 965.1L768.8 960.5L770.2 956.0" stroke="#00f" stroke-width="1.7" stroke-opacity="0.6" fill="none"/><path d="M652.0 1134.3L655.7 1131.0L659.5 1127.7L662.8 1123.9L666.1 1120.2L669.5 1116.6L672.9 1113.1L676.3 1109.7L679.9 1106.4L683.4 1103.1L686.5 1099.6L689.6 1096.0L692.8 1092.5L695.9 1089.1L699.1 1085.6L702.3 1082.1L705.4 1078.5L708.0 1074.8L710.7 1071.0L713.3 1067.1L715.8 1063.2L718.4 1059.2L720.8 1055.2L723.4 1051.2L726.0 1047.3L728.6 1043.3L731.1 1039.2L733.6 1035.0L736.1 1030.9L738.8 1026.8L741.5 1022.7L744.1 1018.5L746.8 1014.3L749.4 1010.4L751.9 1006.5L754.5 1002.6L757.0 998.7L759.1 994.3L761.0 989.7L762.9 985.1L764.9 980.5L766.1 975.6L767.1 970.7L768.1 965.7L769.2 960.9L770.2 956.0" stroke="#00f" stroke-width="1.4" stroke-opacity="0.45" fill="none"/><path d="M679.8 1117.0L683.2 1113.0L686.5 1109.1L689.3 1104.7L691.9 1100.4L694.7 1096.0L697.4 1091.6L700.0 1087.2L702.7 1082.8L705.3 1078.4L707.5 1073.8L709.7 1069.3L711.8 1064.7L714.0 1060.2L716.2 1055.7L718.4 1051.1L720.7 1046.8L723.2 1042.7L725.7 1038.5L728.2 1034.4L730.7 1030.3L733.3 1026.3L736.1 1022.5L738.9 1018.7L741.7 1014.8L744.6 1011.0L747.4 1007.6L750.3 1004.1L753.1 1000.7L755.9 997.3L758.3 993.2L760.4 988.9L762.5 984.5L764.6 980.1L765.9 975.5L767.0 970.6L768.1 965.7L769.2 960.9L770.3 956.0" stroke="#00f" stroke-width="1.3" stroke-opacity="0.45" fill="none"/><path d="M699.0 1123.3L701.7 1118.7L704.5 1114.0L707.2 1109.4L709.9 1104.7L712.7 1100.1L715.3 1095.4L717.3 1090.5L719.3 1085.5L721.3 1080.6L723.3 1075.7L725.3 1070.8L727.3 1065.8L729.4 1061.0L731.6 1056.3L733.7 1051.6L735.9 1046.9L738.0 1042.2L740.2 1037.5L742.6 1033.0L745.1 1028.4L747.6 1023.9L750.1 1019.3L752.5 1015.0L754.9 1010.7L757.2 1006.3L759.5 1002.0L761.4 997.2L763.1 992.3L764.8 987.3L766.5 982.3L767.5 977.2L768.2 971.9L768.9 966.6L769.6 961.3L770.3 956.0" stroke="#00f" stroke-width="2.1" stroke-opacity="0.45" fill="none"/><path d="M623.2 1150.3L626.9 1146.9L630.7 1143.4L634.4 1139.9L638.1 1136.3L641.7 1132.7L645.2 1128.8L648.6 1124.9L651.9 1120.9L655.1 1116.7L657.9 1112.1L660.7 1107.5L663.4 1102.9L666.0 1098.2L668.7 1093.7L671.4 1089.2L674.0 1084.7L676.4 1080.1L678.8 1075.6L681.2 1071.3L683.7 1067.0L686.3 1062.8L688.9 1058.8L691.5 1054.8L693.9 1050.8L696.4 1047.0L699.0 1043.3L701.7 1039.6L704.3 1036.1L707.1 1032.5L710.0 1029.3L713.2 1026.4L716.5 1023.5L719.7 1020.7L722.9 1017.8L726.2 1015.0L729.6 1012.3L733.1 1009.6L736.5 1006.8L739.9 1004.0L743.4 1001.6L746.8 999.2L750.1 996.7L753.5 994.1L756.2 990.6L758.6 986.7L761.0 982.8L763.4 978.8L765.1 974.5L766.4 969.9L767.7 965.3L768.9 960.6L770.2 956.0" stroke="#00f" stroke-width="1.7" stroke-opacity="0.6" fill="none"/><path d="M672.7 1112.8L676.0 1109.1L679.3 1105.3L682.6 1101.5L685.4 1097.3L688.1 1093.1L690.8 1088.9L693.5 1084.6L696.2 1080.4L698.9 1076.1L701.4 1071.8L703.6 1067.3L705.8 1062.9L708.1 1058.4L710.3 1054.0L712.5 1049.5L714.7 1045.1L717.1 1040.9L719.7 1037.0L722.3 1033.0L724.9 1029.1L727.5 1025.2L730.2 1021.4L733.1 1017.8L736.0 1014.2L739.0 1010.7L742.0 1007.1L745.0 1004.1L748.1 1001.0L751.1 998.0L754.2 995.0L756.7 991.3L759.0 987.2L761.3 983.1L763.6 979.0L765.2 974.6L766.5 970.0L767.7 965.3L769.0 960.7L770.2 956.0" stroke="#00f" stroke-width="1.8" stroke-opacity="0.45" fill="none"/><path d="M638.9 1155.9L643.2 1153.1L647.4 1150.5L651.7 1147.8L655.9 1145.2L660.2 1142.6L664.4 1139.9L668.0 1136.5L671.7 1133.2L675.4 1129.8L679.1 1126.5L682.8 1123.1L686.5 1119.7L690.2 1116.3L693.3 1112.4L696.3 1108.5L699.3 1104.5L702.2 1100.4L705.2 1096.3L708.1 1092.1L710.8 1087.8L713.0 1083.2L715.2 1078.6L717.4 1074.0L719.5 1069.3L721.5 1064.5L723.6 1059.7L725.7 1055.0L727.9 1050.4L730.1 1045.7L732.3 1041.1L734.5 1036.4L736.7 1031.9L739.2 1027.4L741.7 1023.0L744.2 1018.7L746.8 1014.3L749.3 1010.3L751.8 1006.4L754.4 1002.5L756.9 998.6L759.1 994.2L761.0 989.6L762.9 985.1L764.9 980.5L766.2 975.7L767.2 970.8L768.2 965.8L769.2 960.9L770.3 956.0" stroke="#00f" stroke-width="1.4" stroke-opacity="0.45" fill="none"/><path d="M683.7 1188.1L687.6 1183.7L691.5 1179.2L695.3 1174.7L699.2 1170.3L703.2 1165.8L707.1 1161.4L711.0 1157.0L713.9 1151.9L716.6 1146.7L719.4 1141.5L722.1 1136.4L724.9 1131.2L727.7 1126.0L730.2 1120.8L731.9 1115.2L733.6 1109.7L735.3 1104.1L737.0 1098.5L738.7 1092.9L740.4 1087.3L742.1 1081.7L743.7 1076.1L745.3 1070.5L747.0 1064.8L748.6 1059.2L750.2 1053.6L752.1 1048.0L754.1 1042.5L756.1 1036.9L758.1 1031.3L759.9 1025.7L761.5 1020.1L763.1 1014.5L764.7 1008.8L766.0 1003.0L767.1 997.2L768.2 991.4L769.3 985.6L769.7 979.7L769.9 973.8L770.1 967.8L770.3 961.9L770.5 956.0" stroke="#00f" stroke-width="2.2" stroke-opacity="0.45" fill="none"/><path d="M662.6 1163.8L667.3 1161.3L671.9 1158.7L675.7 1155.1L679.6 1151.5L683.4 1147.9L687.2 1144.2L691.1 1140.5L694.9 1136.8L698.7 1133.0L701.7 1128.6L704.6 1124.1L707.4 1119.5L710.2 1114.8L713.0 1110.2L715.8 1105.4L718.3 1100.5L720.2 1095.4L722.1 1090.2L723.9 1085.0L725.7 1079.7L727.5 1074.4L729.3 1069.1L731.2 1063.9L733.1 1058.7L735.0 1053.6L736.9 1048.5L738.8 1043.4L740.7 1038.4L743.0 1033.5L745.3 1028.7L747.6 1023.9L750.0 1019.2L752.3 1014.7L754.6 1010.3L756.9 1005.9L759.2 1001.5L761.1 996.8L762.8 991.8L764.5 986.9L766.2 982.0L767.2 976.9L768.0 971.7L768.8 966.5L769.6 961.2L770.3 956.0" stroke="#00f" stroke-width="1.9" stroke-opacity="0.45" fill="none"/><path d="M624.0 1103.3L627.3 1100.8L630.7 1098.3L633.9 1095.8L637.2 1093.4L640.5 1091.0L643.9 1088.6L647.2 1086.2L650.5 1083.8L653.8 1081.3L657.1 1078.8L660.4 1076.3L663.8 1073.8L667.1 1071.2L670.3 1068.5L673.5 1065.7L676.6 1062.8L679.8 1059.9L682.9 1056.8L685.9 1053.6L688.9 1050.4L691.6 1046.9L694.3 1043.4L697.0 1039.9L699.6 1036.2L702.2 1032.4L704.7 1028.6L707.4 1025.1L710.3 1021.7L713.2 1018.3L716.1 1014.9L719.0 1011.5L722.0 1008.3L725.2 1005.2L728.3 1002.2L731.5 999.2L734.7 996.3L738.2 994.1L741.7 992.0L745.3 990.0L748.9 988.0L751.9 985.1L754.7 981.8L757.5 978.5L760.4 975.3L762.6 971.6L764.4 967.7L766.3 963.8L768.1 959.9L770.0 956.0" stroke="#00f" stroke-width="2.2" stroke-opacity="0.6" fill="none"/><path d="M664.9 1155.1L669.1 1151.7L672.5 1147.3L675.9 1142.9L679.2 1138.5L682.5 1134.0L685.8 1129.5L689.1 1125.0L692.3 1120.5L694.9 1115.5L697.4 1110.6L699.9 1105.6L702.4 1100.7L704.9 1095.8L707.4 1090.9L709.8 1086.1L711.8 1081.1L713.7 1076.1L715.7 1071.2L717.7 1066.4L719.8 1061.6L721.9 1056.9L724.1 1052.3L726.5 1048.0L728.8 1043.7L731.3 1039.4L733.7 1035.1L736.2 1031.0L738.9 1027.0L741.7 1023.0L744.4 1019.0L747.2 1015.0L750.0 1011.3L752.6 1007.5L755.3 1003.7L757.9 999.9L760.1 995.5L762.0 990.9L763.9 986.2L765.8 981.6L767.0 976.6L767.8 971.5L768.7 966.3L769.5 961.2L770.3 956.0" stroke="#00f" stroke-width="1.4" stroke-opacity="0.45" fill="none"/><path d="M588.8 1150.2L592.5 1146.8L596.2 1143.3L599.9 1140.0L603.5 1136.6L607.1 1133.3L610.4 1129.6L613.6 1126.0L616.8 1122.4L620.0 1118.9L623.3 1115.5L626.6 1112.3L629.8 1109.1L633.2 1106.1L636.4 1103.0L639.6 1099.9L642.8 1097.0L646.1 1094.1L649.2 1091.1L652.3 1088.1L655.5 1085.2L658.7 1082.3L661.9 1079.5L665.2 1076.7L668.5 1074.0L671.6 1071.1L674.8 1068.2L678.0 1065.3L681.1 1062.3L684.3 1059.4L687.5 1056.3L690.5 1053.2L693.4 1050.0L696.3 1046.7L699.1 1043.4L701.9 1040.0L704.6 1036.5L707.3 1032.9L710.1 1029.5L713.2 1026.3L716.2 1023.1L719.1 1019.8L722.1 1016.4L725.1 1013.2L728.2 1010.1L731.4 1006.9L734.5 1003.8L737.6 1000.6L740.9 998.1L744.2 995.6L747.6 993.1L750.9 990.8L753.7 987.5L756.3 983.8L758.9 980.2L761.5 976.6L763.5 972.6L765.1 968.4L766.7 964.3L768.4 960.1L770.1 956.0" stroke="#00f" stroke-width="1.6" stroke-opacity="0.6" fill="none"/><path d="M636.3 1207.4L641.1 1204.5L646.1 1201.8L651.2 1199.2L656.3 1196.6L661.4 1194.0L666.5 1191.3L671.6 1188.6L676.7 1185.9L681.6 1182.9L685.5 1178.7L689.4 1174.5L693.3 1170.2L697.2 1165.8L701.1 1161.4L704.9 1157.0L708.7 1152.5L711.5 1147.3L714.1 1142.0L716.7 1136.6L719.3 1131.3L721.9 1125.9L724.4 1120.5L726.8 1115.0L728.4 1109.2L729.9 1103.4L731.5 1097.6L733.1 1091.9L734.6 1086.1L736.2 1080.4L737.8 1074.7L739.4 1069.2L741.1 1063.6L742.8 1058.1L744.5 1052.6L746.2 1047.2L748.3 1041.9L750.4 1036.7L752.6 1031.5L754.8 1026.3L756.8 1021.2L758.7 1016.1L760.6 1011.1L762.6 1006.0L764.1 1000.7L765.5 995.2L766.9 989.8L768.3 984.3L768.9 978.8L769.3 973.1L769.7 967.4L770.1 961.7L770.4 956.0" stroke="#00f" stroke-width="1.5" stroke-opacity="0.45" fill="none"/><path d="M611.8 1117.5L615.1 1115.1L618.5 1112.7L621.9 1110.5L625.4 1108.3L629.0 1106.2L632.5 1104.2L636.1 1102.0L639.5 1099.9L643.1 1097.7L646.6 1095.5L650.0 1093.0L653.3 1090.5L656.7 1087.8L660.0 1085.1L663.3 1082.3L666.5 1079.4L669.8 1076.4L672.8 1073.2L675.7 1069.8L678.6 1066.4L681.4 1062.9L684.2 1059.2L687.0 1055.5L689.6 1051.7L692.0 1047.7L694.5 1043.7L696.8 1039.6L699.2 1035.5L701.5 1031.4L703.8 1027.2L706.4 1023.4L709.2 1019.9L712.0 1016.3L714.9 1012.9L717.7 1009.4L720.7 1006.2L723.9 1003.2L727.1 1000.3L730.4 997.5L733.7 994.7L737.3 992.7L740.9 990.9L744.6 989.1L748.4 987.4L751.5 984.7L754.4 981.5L757.3 978.3L760.3 975.2L762.5 971.6L764.4 967.7L766.3 963.8L768.2 959.9L770.0 956.0" stroke="#00f" stroke-width="2.3" stroke-opacity="0.6" fill="none"/><path d="M596.3 1116.5L599.9 1114.2L603.3 1111.8L606.3 1108.8L609.3 1105.8L612.3 1102.8L615.3 1099.9L618.3 1096.9L621.3 1093.9L624.3 1090.9L627.3 1087.9L630.3 1085.2L633.4 1082.7L636.5 1080.4L639.6 1078.1L642.8 1075.8L646.0 1073.4L649.2 1071.1L652.4 1068.7L655.6 1066.2L658.8 1063.8L662.0 1061.2L665.1 1058.6L668.2 1055.9L671.4 1053.1L674.4 1050.2L677.5 1047.2L680.5 1044.2L683.4 1041.0L686.2 1037.7L688.9 1034.4L691.7 1031.0L694.4 1027.5L697.0 1023.9L699.6 1020.3L702.5 1017.0L705.6 1013.9L708.7 1010.9L711.8 1007.8L714.8 1004.7L718.1 1001.9L721.4 999.2L724.8 996.6L728.1 994.0L731.6 991.5L735.3 989.8L739.1 988.3L742.9 986.8L746.8 985.4L750.1 982.9L753.1 979.9L756.3 977.0L759.4 974.2L761.8 970.8L763.9 967.1L765.9 963.4L768.0 959.7L770.0 956.0" stroke="#00f" stroke-width="1.8" stroke-opacity="0.6" fill="none"/><path d="M690.3 1150.9L693.9 1146.5L697.5 1142.1L701.1 1137.6L703.8 1132.6L706.4 1127.5L709.0 1122.4L711.6 1117.3L714.1 1112.2L716.7 1107.1L719.2 1101.9L720.9 1096.6L722.7 1091.3L724.5 1086.0L726.3 1080.7L728.2 1075.4L730.0 1070.2L731.9 1065.1L733.9 1060.1L735.9 1055.1L737.9 1050.2L739.9 1045.3L742.0 1040.4L744.4 1035.7L746.8 1031.0L749.2 1026.3L751.6 1021.7L754.0 1017.1L756.2 1012.6L758.4 1008.1L760.7 1003.5L762.5 998.5L764.1 993.4L765.6 988.3L767.2 983.2L768.1 977.8L768.7 972.4L769.2 966.9L769.8 961.5L770.4 956.0" stroke="#00f" stroke-width="1.3" stroke-opacity="0.45" fill="none"/><path d="M706.5 1172.7L710.4 1168.2L714.4 1163.7L717.3 1158.4L719.6 1152.2L721.8 1146.0L724.1 1139.9L726.3 1133.8L728.6 1127.7L730.8 1121.7L732.1 1115.5L733.4 1109.3L734.8 1103.2L736.3 1097.2L737.8 1091.3L739.3 1085.5L740.9 1079.8L742.6 1074.2L744.2 1068.7L745.9 1063.2L747.7 1057.7L749.4 1052.3L751.5 1047.1L753.7 1041.8L755.9 1036.6L758.1 1031.3L760.0 1026.0L761.8 1020.6L763.6 1015.1L765.3 1009.6L766.6 1003.9L767.7 998.0L768.8 992.1L769.8 986.1L770.1 980.1L770.2 974.1L770.3 968.1L770.4 962.0L770.5 956.0" stroke="#00f" stroke-width="1.8" stroke-opacity="0.45" fill="none"/><path d="M606.1 1152.4L610.1 1150.0L613.8 1147.2L617.5 1144.5L621.3 1141.8L625.0 1139.0L628.8 1136.4L632.6 1133.8L636.5 1131.2L640.4 1128.5L644.2 1125.8L647.9 1123.0L651.6 1120.2L655.3 1117.2L658.6 1113.8L661.9 1110.3L665.1 1106.7L668.3 1103.1L671.5 1099.5L674.6 1095.8L677.8 1092.0L680.5 1088.0L683.2 1083.9L685.9 1079.8L688.5 1075.7L691.2 1071.5L693.8 1067.4L696.4 1063.2L698.7 1058.9L700.9 1054.6L703.2 1050.3L705.5 1046.1L707.8 1041.8L710.1 1037.6L712.6 1033.6L715.4 1029.9L718.1 1026.2L720.9 1022.6L723.7 1019.0L726.6 1015.6L729.7 1012.3L732.8 1009.1L735.9 1005.9L739.1 1002.7L742.4 1000.1L745.7 997.6L749.0 995.1L752.3 992.5L755.0 989.1L757.6 985.4L760.1 981.6L762.6 977.9L764.4 973.7L765.8 969.3L767.3 964.9L768.7 960.4L770.2 956.0" stroke="#00f" stroke-width="2.0" stroke-opacity="0.6" fill="none"/><path d="M621.3 1093.9L624.3 1090.9L627.3 1087.9L630.2 1084.8L633.0 1081.6L635.7 1078.4L638.5 1075.2L641.3 1072.0L644.0 1068.8L646.7 1065.5L649.5 1062.4L652.2 1059.2L655.0 1056.0L657.7 1052.9L660.5 1049.7L663.3 1046.6L666.1 1043.5L669.0 1040.4L671.8 1037.2L674.6 1034.1L677.5 1030.9L680.3 1027.8L683.2 1024.7L686.1 1021.6L689.0 1018.5L691.9 1015.4L694.7 1012.3L697.9 1009.6L701.4 1007.2L704.9 1004.8L708.4 1002.4L711.9 1000.0L715.5 997.8L719.2 995.7L722.9 993.7L726.6 991.7L730.3 989.6L734.4 988.4L738.4 987.3L742.5 986.2L746.6 985.0L750.0 982.7L753.1 979.9L756.3 977.0L759.4 974.2L761.8 970.8L763.9 967.1L765.9 963.4L768.0 959.7L770.0 956.0" stroke="#00f" stroke-width="1.6" stroke-opacity="0.6" fill="none"/><path d="M589.3 1121.2L592.8 1118.9L596.3 1116.5L599.9 1114.2L603.3 1111.8L606.3 1108.8L609.3 1105.8L612.3 1102.8L615.3 1099.9L618.3 1096.9L621.3 1093.9L624.3 1090.9L627.3 1087.9L630.2 1084.8L633.0 1081.6L635.7 1078.4L638.5 1075.2L641.3 1072.0L644.0 1068.8L646.7 1065.5L649.7 1062.9L652.7 1060.3L655.8 1057.6L658.8 1055.0L661.8 1052.3L664.9 1049.6L668.0 1046.8L671.0 1044.1L674.0 1041.2L677.0 1038.2L680.0 1035.2L682.9 1032.2L685.8 1029.1L688.7 1025.9L691.5 1022.7L694.3 1019.4L697.1 1016.1L700.1 1013.1L703.4 1010.4L706.7 1007.7L710.0 1004.9L713.2 1002.2L716.6 999.6L720.1 997.2L723.7 994.9L727.2 992.5L730.7 990.2L734.6 988.8L738.5 987.4L742.5 986.1L746.6 985.0L750.0 982.7L753.1 979.9L756.3 977.0L759.4 974.2L761.8 970.8L763.9 967.1L765.9 963.4L768.0 959.7L770.0 956.0" stroke="#00f" stroke-width="2.2" stroke-opacity="0.6" fill="none"/><path d="M740.0 990.0L760.6 973.1L770.0 952.0L771.5 990.0L768.0 1010.0L755.0 1012.0Z" fill="#00f"/></g><g id="axes" filter="url(#b1)" font-family='"DejaVu Sans Condensed","DejaVu Sans",sans-serif' stroke-linejoin="round"><path d="M112 47V713H777" stroke="#cfcfcf" stroke-width="2.6" fill="none"/><path d="M122.6 713v-7M248.8 713v-7M375.0 713v-7M501.2 713v-7M627.4 713v-7M753.6 713v-7M112 700.3h7M112 574.6h7M112 448.9h7M112 323.3h7M112 197.6h7M112 71.9h7" stroke="#c4c4c4" stroke-width="2.4" fill="none"/><path d="M1082 45V716H1753" stroke="#cfcfcf" stroke-width="2.6" fill="none"/><path d="M1092.0 716v-7M1213.5 716v-7M1335.0 716v-7M1456.5 716v-7M1578.0 716v-7M1699.5 716v-7M1082 704.5h7M1082 583.9h7M1082 463.3h7M1082 342.7h7M1082 222.1h7M1082 101.5h7" stroke="#c4c4c4" stroke-width="2.4" fill="none"/><path d="M111.5 957V1622.5H776" stroke="#cfcfcf" stroke-width="2.6" fill="none"/><path d="M144.5 1622.5v-7M317.1 1622.5v-7M489.7 1622.5v-7M662.4 1622.5v-7M111.5 1587.8h7M111.5 1501.5h7M111.5 1415.3h7M111.5 1329.0h7M111.5 1242.8h7M111.5 1156.5h7M111.5 1070.2h7M111.5 984.0h7" stroke="#c4c4c4" stroke-width="2.4" fill="none"/><path d="M1081.5 956V1622.5H1753" stroke="#cfcfcf" stroke-width="2.6" fill="none"/><path d="M1134.0 1622.5v-7M1259.2 1622.5v-7M1384.3 1622.5v-7M1509.5 1622.5v-7M1634.7 1622.5v-7M1081.5 1574.7h7M1081.5 1448.8h7M1081.5 1322.8h7M1081.5 1196.9h7M1081.5 1071.0h7" stroke="#c4c4c4" stroke-width="2.4" fill="none"/><text transform="translate(112.88 759.50) scale(0.9300 1)" font-size="36.5" fill="#333" stroke="#333" stroke-width="0.6" >0</text><text transform="translate(219.01 759.50) scale(0.9300 1)" font-size="36.5" fill="#333" stroke="#333" stroke-width="0.6" >100</text><text transform="translate(345.76 759.50) scale(0.9300 1)" font-size="36.5" fill="#333" stroke="#333" stroke-width="0.6" >200</text><text transform="translate(471.92 759.50) scale(0.9300 1)" font-size="36.5" fill="#333" stroke="#333" stroke-width="0.6" >300</text><text transform="translate(598.50 759.50) scale(0.9300 1)" font-size="36.5" fill="#333" stroke="#333" stroke-width="0.6" >400</text><text transform="translate(724.28 759.50) scale(0.9300 1)" font-size="36.5" fill="#333" stroke="#333" stroke-width="0.6" >500</text><text transform="translate(85.10 714.30) scale(0.9300 1)" font-size="36.5" fill="#333" stroke="#333" stroke-width="0.6" >0</text><text transform="translate(46.24 588.62) scale(0.9300 1)" font-size="36.5" fill="#333" stroke="#333" stroke-width="0.6" >100</text><text transform="translate(46.24 462.94) scale(0.9300 1)" font-size="36.5" fill="#333" stroke="#333" stroke-width="0.6" >200</text><text transform="translate(46.24 337.26) scale(0.9300 1)" font-size="36.5" fill="#333" stroke="#333" stroke-width="0.6" >300</text><text transform="translate(46.24 211.58) scale(0.9300 1)" font-size="36.5" fill="#333" stroke="#333" stroke-width="0.6" >400</text><text transform="translate(46.24 85.90) scale(0.9300 1)" font-size="36.5" fill="#333" stroke="#333" stroke-width="0.6" >500</text><text transform="translate(1076.98 760.50) scale(0.9300 1)" font-size="36.5" fill="#333" stroke="#333" stroke-width="0.6" >-6</text><text transform="translate(1198.35 760.50) scale(0.9300 1)" font-size="36.5" fill="#333" stroke="#333" stroke-width="0.6" >-4</text><text transform="translate(1320.53 760.50) scale(0.9300 1)" font-size="36.5" fill="#333" stroke="#333" stroke-width="0.6" >-2</text><text transform="translate(1446.78 760.50) scale(0.9300 1)" font-size="36.5" fill="#333" stroke="#333" stroke-width="0.6" >0</text><text transform="translate(1568.71 760.50) scale(0.9300 1)" font-size="36.5" fill="#333" stroke="#333" stroke-width="0.6" >2</text><text transform="translate(1689.87 760.50) scale(0.9300 1)" font-size="36.5" fill="#333" stroke="#333" stroke-width="0.6" >4</text><text transform="translate(1042.29 718.50) scale(0.9300 1)" font-size="36.5" fill="#333" stroke="#333" stroke-width="0.6" >-6</text><text transform="translate(1042.03 597.90) scale(0.9300 1)" font-size="36.5" fill="#333" stroke="#333" stroke-width="0.6" >-4</text><text transform="translate(1043.39 477.30) scale(0.9300 1)" font-size="36.5" fill="#333" stroke="#333" stroke-width="0.6" >-2</text><text transform="translate(1053.40 356.70) scale(0.9300 1)" font-size="36.5" fill="#333" stroke="#333" stroke-width="0.6" >0</text><text transform="translate(1054.42 236.10) scale(0.9300 1)" font-size="36.5" fill="#333" stroke="#333" stroke-width="0.6" >2</text><text transform="translate(1053.06 115.50) scale(0.9300 1)" font-size="36.5" fill="#333" stroke="#333" stroke-width="0.6" >4</text><text transform="translate(134.78 1668.50) scale(0.9300 1)" font-size="36.5" fill="#333" stroke="#333" stroke-width="0.6" >0</text><text transform="translate(287.88 1668.50) scale(0.9300 1)" font-size="36.5" fill="#333" stroke="#333" stroke-width="0.6" >200</text><text transform="translate(460.84 1668.50) scale(0.9300 1)" font-size="36.5" fill="#333" stroke="#333" stroke-width="0.6" >400</text><text transform="translate(633.17 1668.50) scale(0.9300 1)" font-size="36.5" fill="#333" stroke="#333" stroke-width="0.6" >600</text><text transform="translate(85.10 1601.80) scale(0.9300 1)" font-size="36.5" fill="#333" stroke="#333" stroke-width="0.6" >0</text><text transform="translate(46.24 1515.54) scale(0.9300 1)" font-size="36.5" fill="#333" stroke="#333" stroke-width="0.6" >100</text><text transform="translate(46.24 1429.28) scale(0.9300 1)" font-size="36.5" fill="#333" stroke="#333" stroke-width="0.6" >200</text><text transform="translate(46.24 1343.02) scale(0.9300 1)" font-size="36.5" fill="#333" stroke="#333" stroke-width="0.6" >300</text><text transform="translate(46.24 1256.76) scale(0.9300 1)" font-size="36.5" fill="#333" stroke="#333" stroke-width="0.6" >400</text><text transform="translate(46.24 1170.50) scale(0.9300 1)" font-size="36.5" fill="#333" stroke="#333" stroke-width="0.6" >500</text><text transform="translate(46.24 1084.24) scale(0.9300 1)" font-size="36.5" fill="#333" stroke="#333" stroke-width="0.6" >600</text><text transform="translate(46.24 997.98) scale(0.9300 1)" font-size="36.5" fill="#333" stroke="#333" stroke-width="0.6" >700</text><text transform="translate(1109.29 1669.00) scale(0.9300 1)" font-size="36.5" fill="#333" stroke="#333" stroke-width="0.6" >-80</text><text transform="translate(1234.47 1669.00) scale(0.9300 1)" font-size="36.5" fill="#333" stroke="#333" stroke-width="0.6" >-60</text><text transform="translate(1359.65 1669.00) scale(0.9300 1)" font-size="36.5" fill="#333" stroke="#333" stroke-width="0.6" >-40</text><text transform="translate(1484.83 1669.00) scale(0.9300 1)" font-size="36.5" fill="#333" stroke="#333" stroke-width="0.6" >-20</text><text transform="translate(1624.98 1669.00) scale(0.9300 1)" font-size="36.5" fill="#333" stroke="#333" stroke-width="0.6" >0</text><text transform="translate(1022.94 1588.68) scale(0.9300 1)" font-size="36.5" fill="#333" stroke="#333" stroke-width="0.6" >-80</text><text transform="translate(1022.94 1462.76) scale(0.9300 1)" font-size="36.5" fill="#333" stroke="#333" stroke-width="0.6" >-60</text><text transform="translate(1022.94 1336.84) scale(0.9300 1)" font-size="36.5" fill="#333" stroke="#333" stroke-width="0.6" >-40</text><text transform="translate(1022.94 1210.92) scale(0.9300 1)" font-size="36.5" fill="#333" stroke="#333" stroke-width="0.6" >-20</text><text transform="translate(1053.40 1085.00) scale(0.9300 1)" font-size="36.5" fill="#333" stroke="#333" stroke-width="0.6" >0</text><text transform="translate(64.20 35.90) scale(0.9149 1)" font-size="40" fill="#141414" stroke="#141414" stroke-width="0.6" >Scatter plot: true vs estimated lateral velocity</text><text transform="translate(1026.19 33.90) scale(0.9193 1)" font-size="40" fill="#141414" stroke="#141414" stroke-width="0.6" >Scatter plot: true vs estimated vertical velocity</text><text transform="translate(64.20 945.40) scale(0.9149 1)" font-size="40" fill="#141414" stroke="#141414" stroke-width="0.6" >Scatter plot: true vs estimated lateral velocity</text><text transform="translate(1026.39 943.20) scale(0.9190 1)" font-size="40" fill="#141414" stroke="#141414" stroke-width="0.6" >Scatter plot: true vs estimated vertical velocity</text><text transform="translate(270.60 805.40) scale(0.9771 1)" font-size="39" fill="#333" stroke="#333" stroke-width="0.6" >True velocity [mm/s]</text><text transform="translate(1242.10 808.00) scale(0.9793 1)" font-size="39" fill="#333" stroke="#333" stroke-width="0.6" >True velocity [mm/s]</text><text transform="translate(270.59 1714.00) scale(0.9737 1)" font-size="39" fill="#333" stroke="#333" stroke-width="0.6" >True velocity [mm/s]</text><text transform="translate(1242.50 1715.30) scale(0.9810 1)" font-size="39" fill="#333" stroke="#333" stroke-width="0.6" >True velocity [mm/s]</text><text transform="translate(33.60 598.73) rotate(-90) scale(0.9714 1)" font-size="38" fill="#333" stroke="#333" stroke-width="0.6" >Estimated velocity [mm/s]</text><text transform="translate(1029.20 601.75) rotate(-90) scale(0.9777 1)" font-size="38" fill="#333" stroke="#333" stroke-width="0.6" >Estimated velocity [mm/s]</text><text transform="translate(33.80 1513.78) rotate(-90) scale(0.9878 1)" font-size="38" fill="#333" stroke="#333" stroke-width="0.6" >Estimated velocity [mm/s]</text><text transform="translate(1011.00 1512.77) rotate(-90) scale(0.9833 1)" font-size="38" fill="#333" stroke="#333" stroke-width="0.6" >Estimated velocity [mm/s]</text></g><g font-family='"DejaVu Sans Mono",monospace'><text transform="translate(499.74 684.34) scale(1.3378 1.0427)" font-size="100" fill="#000"  stroke="#fff" stroke-width="3.19">(</text><text transform="translate(561.70 676.20) scale(0.8916 0.9096)" font-size="100" fill="#000"  stroke="#fff" stroke-width="2.44">1</text><text transform="translate(599.85 675.38) scale(1.1287 1.0500)" font-size="100" fill="#000"  stroke="#fff" stroke-width="2.02">-</text><text transform="translate(649.46 675.65) scale(0.9901 0.8991)" font-size="100" fill="#000"  stroke="#fff" stroke-width="2.33">a</text><text transform="translate(688.66 684.34) scale(1.3022 1.0427)" font-size="100" fill="#000"  stroke="#fff" stroke-width="3.24">)</text><text transform="translate(1465.96 683.77) scale(1.2889 1.0404)" font-size="100" fill="#000"  stroke="#fff" stroke-width="3.26">(</text><text transform="translate(1526.39 676.60) scale(0.9012 0.9288)" font-size="100" fill="#000"  stroke="#fff" stroke-width="2.40">1</text><text transform="translate(1562.74 674.19) scale(1.1921 1.0250)" font-size="100" fill="#000"  stroke="#fff" stroke-width="1.98">-</text><text transform="translate(1613.48 675.24) scale(0.9810 0.9097)" font-size="100" fill="#000"  stroke="#fff" stroke-width="2.33">b</text><text transform="translate(1652.39 683.77) scale(1.2889 1.0404)" font-size="100" fill="#000"  stroke="#fff" stroke-width="3.26">)</text><text transform="translate(501.26 1589.88) scale(1.2889 1.0326)" font-size="100" fill="#000"  stroke="#fff" stroke-width="3.27">(</text><text transform="translate(559.40 1582.00) scale(1.0395 0.8956)" font-size="100" fill="#000"  stroke="#fff" stroke-width="2.27">2</text><text transform="translate(598.94 1578.13) scale(1.1406 0.9375)" font-size="100" fill="#000"  stroke="#fff" stroke-width="2.12">-</text><text transform="translate(648.99 1580.70) scale(0.9856 0.8696)" font-size="100" fill="#000"  stroke="#fff" stroke-width="2.37">a</text><text transform="translate(689.09 1589.88) scale(1.2889 1.0326)" font-size="100" fill="#000"  stroke="#fff" stroke-width="3.27">)</text><text transform="translate(1465.96 1589.88) scale(1.2889 1.0326)" font-size="100" fill="#000"  stroke="#fff" stroke-width="3.27">(</text><text transform="translate(1523.98 1582.00) scale(1.0554 0.8956)" font-size="100" fill="#000"  stroke="#fff" stroke-width="2.26">2</text><text transform="translate(1562.74 1578.13) scale(1.1921 0.9375)" font-size="100" fill="#000"  stroke="#fff" stroke-width="2.07">-</text><text transform="translate(1613.48 1581.26) scale(0.9810 0.8916)" font-size="100" fill="#000"  stroke="#fff" stroke-width="2.35">b</text><text transform="translate(1652.39 1589.88) scale(1.2889 1.0326)" font-size="100" fill="#000"  stroke="#fff" stroke-width="3.27">)</text></g></svg></body></html>
